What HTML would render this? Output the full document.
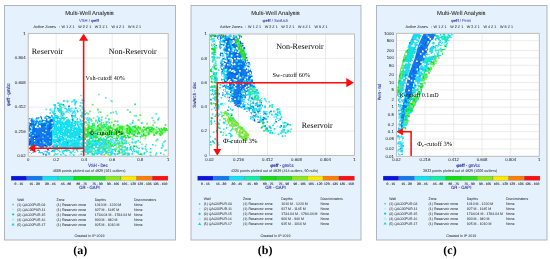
<!DOCTYPE html>
<html><head><meta charset="utf-8"><style>
html,body{margin:0;padding:0;background:#fff;}
body{width:550px;height:259px;overflow:hidden;}
svg{display:block;text-rendering:geometricPrecision;}
</style></head><body>
<svg width="550" height="259" viewBox="0 0 550 259">
<rect width="550" height="259" fill="#ffffff"/>
<rect x="4.5" y="5.5" width="171" height="234.5" fill="#e5f2fd" stroke="#adb6c0" stroke-width="1"/>
<text x="89.5" y="15.09" font-size="5.80" fill="#202020" text-anchor="middle" font-family="'Liberation Sans', Arial, sans-serif" textLength="48.5" lengthAdjust="spacingAndGlyphs" stroke="#202020" stroke-width="0.04">Multi-Well Analysis</text>
<text x="89" y="21.9" font-size="4.3" fill="#2c2ca0" text-anchor="middle" font-family="'Liberation Sans', Arial, sans-serif" textLength="20" lengthAdjust="spacingAndGlyphs">VSH / <tspan font-weight="bold">&#966;eff</tspan></text>
<text x="33.6" y="27.83" font-size="3.70" fill="#383838" text-anchor="start" font-family="'Liberation Sans', Arial, sans-serif" textLength="22.3" lengthAdjust="spacingAndGlyphs" stroke="#383838" stroke-width="0.06">Active Zones</text>
<text x="58.8" y="27.83" font-size="3.70" fill="#383838" text-anchor="start" font-family="'Liberation Sans', Arial, sans-serif" stroke="#383838" stroke-width="0.06">:</text>
<text x="61.6" y="27.83" font-size="3.70" fill="#383838" text-anchor="start" font-family="'Liberation Sans', Arial, sans-serif" stroke="#383838" stroke-width="0.06" textLength="13" lengthAdjust="spacing">W1Z1</text>
<text x="78.2" y="27.83" font-size="3.70" fill="#383838" text-anchor="start" font-family="'Liberation Sans', Arial, sans-serif" stroke="#383838" stroke-width="0.06" textLength="13" lengthAdjust="spacing">W2Z1</text>
<text x="94.8" y="27.83" font-size="3.70" fill="#383838" text-anchor="start" font-family="'Liberation Sans', Arial, sans-serif" stroke="#383838" stroke-width="0.06" textLength="13" lengthAdjust="spacing">W3Z1</text>
<text x="111.4" y="27.83" font-size="3.70" fill="#383838" text-anchor="start" font-family="'Liberation Sans', Arial, sans-serif" stroke="#383838" stroke-width="0.06" textLength="13" lengthAdjust="spacing">W4Z1</text>
<text x="128" y="27.83" font-size="3.70" fill="#383838" text-anchor="start" font-family="'Liberation Sans', Arial, sans-serif" stroke="#383838" stroke-width="0.06" textLength="13" lengthAdjust="spacing">W5Z1</text>
<rect x="28.2" y="33.6" width="140" height="122.6" fill="#ffffff"/>
<line x1="28.2" y1="33.6" x2="28.2" y2="156.2" stroke="#e7e7e7" stroke-width="0.8"/>
<line x1="56.2" y1="33.6" x2="56.2" y2="156.2" stroke="#e7e7e7" stroke-width="0.8"/>
<line x1="84.2" y1="33.6" x2="84.2" y2="156.2" stroke="#e7e7e7" stroke-width="0.8"/>
<line x1="112.2" y1="33.6" x2="112.2" y2="156.2" stroke="#e7e7e7" stroke-width="0.8"/>
<line x1="140.2" y1="33.6" x2="140.2" y2="156.2" stroke="#e7e7e7" stroke-width="0.8"/>
<line x1="168.2" y1="33.6" x2="168.2" y2="156.2" stroke="#e7e7e7" stroke-width="0.8"/>
<line x1="28.2" y1="156.2" x2="168.2" y2="156.2" stroke="#e7e7e7" stroke-width="0.8"/>
<line x1="28.2" y1="131.7" x2="168.2" y2="131.7" stroke="#e7e7e7" stroke-width="0.8"/>
<line x1="28.2" y1="107.2" x2="168.2" y2="107.2" stroke="#e7e7e7" stroke-width="0.8"/>
<line x1="28.2" y1="82.6" x2="168.2" y2="82.6" stroke="#e7e7e7" stroke-width="0.8"/>
<line x1="28.2" y1="58.1" x2="168.2" y2="58.1" stroke="#e7e7e7" stroke-width="0.8"/>
<line x1="28.2" y1="33.6" x2="168.2" y2="33.6" stroke="#e7e7e7" stroke-width="0.8"/>
<text x="28.2" y="161.45" font-size="4.30" fill="#303030" text-anchor="middle" font-family="'Liberation Sans', Arial, sans-serif" stroke="#303030" stroke-width="0.05">0</text>
<text x="56.2" y="161.45" font-size="4.30" fill="#303030" text-anchor="middle" font-family="'Liberation Sans', Arial, sans-serif" stroke="#303030" stroke-width="0.05">0.2</text>
<text x="84.2" y="161.45" font-size="4.30" fill="#303030" text-anchor="middle" font-family="'Liberation Sans', Arial, sans-serif" stroke="#303030" stroke-width="0.05">0.4</text>
<text x="112.2" y="161.45" font-size="4.30" fill="#303030" text-anchor="middle" font-family="'Liberation Sans', Arial, sans-serif" stroke="#303030" stroke-width="0.05">0.6</text>
<text x="140.2" y="161.45" font-size="4.30" fill="#303030" text-anchor="middle" font-family="'Liberation Sans', Arial, sans-serif" stroke="#303030" stroke-width="0.05">0.8</text>
<text x="168.2" y="161.45" font-size="4.30" fill="#303030" text-anchor="middle" font-family="'Liberation Sans', Arial, sans-serif" stroke="#303030" stroke-width="0.05">1</text>
<text x="25.6" y="157.45" font-size="4.30" fill="#303030" text-anchor="end" font-family="'Liberation Sans', Arial, sans-serif" stroke="#303030" stroke-width="0.05">0.02</text>
<text x="25.6" y="132.93" font-size="4.30" fill="#303030" text-anchor="end" font-family="'Liberation Sans', Arial, sans-serif" stroke="#303030" stroke-width="0.05">0.216</text>
<text x="25.6" y="108.41" font-size="4.30" fill="#303030" text-anchor="end" font-family="'Liberation Sans', Arial, sans-serif" stroke="#303030" stroke-width="0.05">0.412</text>
<text x="25.6" y="83.89" font-size="4.30" fill="#303030" text-anchor="end" font-family="'Liberation Sans', Arial, sans-serif" stroke="#303030" stroke-width="0.05">0.608</text>
<text x="25.6" y="59.37" font-size="4.30" fill="#303030" text-anchor="end" font-family="'Liberation Sans', Arial, sans-serif" stroke="#303030" stroke-width="0.05">0.804</text>
<text x="25.6" y="34.85" font-size="4.30" fill="#303030" text-anchor="end" font-family="'Liberation Sans', Arial, sans-serif" stroke="#303030" stroke-width="0.05">1</text>
<text transform="translate(10.3 94.7) rotate(-90)" x="0" y="0" font-size="4.6" fill="#2c2ca0" stroke="#2c2ca0" stroke-width="0.1" text-anchor="middle" font-family="'Liberation Sans', Arial, sans-serif" textLength="22.4" lengthAdjust="spacingAndGlyphs"><tspan font-weight="bold">&#966;eff</tspan> - gm/cc</text>
<text x="98" y="166.86" font-size="4.60" fill="#2c2ca0" text-anchor="middle" font-family="'Liberation Sans', Arial, sans-serif" textLength="19.4" lengthAdjust="spacingAndGlyphs" stroke="#2c2ca0" stroke-width="0.1">VSH - Dec</text>
<text x="89.1" y="172.47" font-size="3.80" fill="#3a3a3a" text-anchor="middle" font-family="'Liberation Sans', Arial, sans-serif" textLength="72.8" lengthAdjust="spacingAndGlyphs" stroke="#3a3a3a" stroke-width="0.03">4668 points plotted out of 4829 (161 outliers)</text>
<rect x="11.2" y="176.1" width="15.49" height="4.2" fill="#0a14dc" stroke="#000050" stroke-opacity="0.3" stroke-width="0.45"/>
<text x="18.9" y="184.51" font-size="3.35" fill="#282828" text-anchor="middle" font-family="'Liberation Sans', Arial, sans-serif" stroke="#282828" stroke-width="0.1">0 - 15</text>
<rect x="26.9" y="176.1" width="15.49" height="4.2" fill="#1478ee" stroke="#000050" stroke-opacity="0.3" stroke-width="0.45"/>
<text x="34.6" y="184.51" font-size="3.35" fill="#282828" text-anchor="middle" font-family="'Liberation Sans', Arial, sans-serif" stroke="#282828" stroke-width="0.1">15 - 30</text>
<rect x="42.6" y="176.1" width="15.49" height="4.2" fill="#14e0f2" stroke="#000050" stroke-opacity="0.3" stroke-width="0.45"/>
<text x="50.3" y="184.51" font-size="3.35" fill="#282828" text-anchor="middle" font-family="'Liberation Sans', Arial, sans-serif" stroke="#282828" stroke-width="0.1">30 - 45</text>
<rect x="58.3" y="176.1" width="15.49" height="4.2" fill="#14eea4" stroke="#000050" stroke-opacity="0.3" stroke-width="0.45"/>
<text x="66" y="184.51" font-size="3.35" fill="#282828" text-anchor="middle" font-family="'Liberation Sans', Arial, sans-serif" stroke="#282828" stroke-width="0.1">45 - 60</text>
<rect x="74" y="176.1" width="15.49" height="4.2" fill="#10e010" stroke="#000050" stroke-opacity="0.3" stroke-width="0.45"/>
<text x="81.7" y="184.51" font-size="3.35" fill="#282828" text-anchor="middle" font-family="'Liberation Sans', Arial, sans-serif" stroke="#282828" stroke-width="0.1">60 - 75</text>
<rect x="89.6" y="176.1" width="15.49" height="4.2" fill="#30dc20" stroke="#000050" stroke-opacity="0.3" stroke-width="0.45"/>
<text x="97.4" y="184.51" font-size="3.35" fill="#282828" text-anchor="middle" font-family="'Liberation Sans', Arial, sans-serif" stroke="#282828" stroke-width="0.1">75 - 90</text>
<rect x="105.3" y="176.1" width="15.49" height="4.2" fill="#8ce81c" stroke="#000050" stroke-opacity="0.3" stroke-width="0.45"/>
<text x="113.1" y="184.51" font-size="3.35" fill="#282828" text-anchor="middle" font-family="'Liberation Sans', Arial, sans-serif" stroke="#282828" stroke-width="0.1">90 - 105</text>
<rect x="121" y="176.1" width="15.49" height="4.2" fill="#ffe800" stroke="#000050" stroke-opacity="0.3" stroke-width="0.45"/>
<text x="128.8" y="184.51" font-size="3.35" fill="#282828" text-anchor="middle" font-family="'Liberation Sans', Arial, sans-serif" stroke="#282828" stroke-width="0.1">105 - 120</text>
<rect x="136.7" y="176.1" width="15.49" height="4.2" fill="#ff8000" stroke="#000050" stroke-opacity="0.3" stroke-width="0.45"/>
<text x="144.5" y="184.51" font-size="3.35" fill="#282828" text-anchor="middle" font-family="'Liberation Sans', Arial, sans-serif" stroke="#282828" stroke-width="0.1">120 - 135</text>
<rect x="152.4" y="176.1" width="15.49" height="4.2" fill="#ff1010" stroke="#000050" stroke-opacity="0.3" stroke-width="0.45"/>
<text x="160.2" y="184.51" font-size="3.35" fill="#282828" text-anchor="middle" font-family="'Liberation Sans', Arial, sans-serif" stroke="#282828" stroke-width="0.1">135 - 150</text>
<text x="89.5" y="189.32" font-size="4.50" fill="#2c2ca0" text-anchor="middle" font-family="'Liberation Sans', Arial, sans-serif" textLength="20.4" lengthAdjust="spacingAndGlyphs" stroke="#2c2ca0" stroke-width="0.1">GR - GAPI</text>
<text x="17.2" y="200.86" font-size="3.50" fill="#3a3a3a" text-anchor="start" font-family="'Liberation Sans', Arial, sans-serif" stroke="#3a3a3a" stroke-width="0.04">Well</text>
<text x="56.5" y="200.86" font-size="3.50" fill="#3a3a3a" text-anchor="start" font-family="'Liberation Sans', Arial, sans-serif" stroke="#3a3a3a" stroke-width="0.04">Zone</text>
<text x="94.8" y="200.86" font-size="3.50" fill="#3a3a3a" text-anchor="start" font-family="'Liberation Sans', Arial, sans-serif" stroke="#3a3a3a" stroke-width="0.04">Depths</text>
<text x="134" y="200.86" font-size="3.50" fill="#3a3a3a" text-anchor="start" font-family="'Liberation Sans', Arial, sans-serif" stroke="#3a3a3a" stroke-width="0.04">Discriminators</text>
<text x="17.2" y="205.76" font-size="3.50" fill="#3a3a3a" text-anchor="start" font-family="'Liberation Sans', Arial, sans-serif" textLength="28.2" lengthAdjust="spacingAndGlyphs" stroke="#3a3a3a" stroke-width="0.04">(1) QAC00PUR-03</text>
<text x="56.5" y="205.76" font-size="3.50" fill="#3a3a3a" text-anchor="start" font-family="'Liberation Sans', Arial, sans-serif" textLength="29.5" lengthAdjust="spacingAndGlyphs" stroke="#3a3a3a" stroke-width="0.04">(1) Reservoir zone</text>
<text x="94.8" y="205.76" font-size="3.50" fill="#3a3a3a" text-anchor="start" font-family="'Liberation Sans', Arial, sans-serif" stroke="#3a3a3a" stroke-width="0.04">1010 M - 1220 M</text>
<text x="134" y="205.76" font-size="3.50" fill="#3a3a3a" text-anchor="start" font-family="'Liberation Sans', Arial, sans-serif" stroke="#3a3a3a" stroke-width="0.04">None</text>
<circle cx="13.1" cy="204.5" r="0.9" fill="#3ad8e8"/>
<text x="17.2" y="210.71" font-size="3.50" fill="#3a3a3a" text-anchor="start" font-family="'Liberation Sans', Arial, sans-serif" textLength="28.2" lengthAdjust="spacingAndGlyphs" stroke="#3a3a3a" stroke-width="0.04">(2) QAC00PUR-11</text>
<text x="56.5" y="210.71" font-size="3.50" fill="#3a3a3a" text-anchor="start" font-family="'Liberation Sans', Arial, sans-serif" textLength="29.5" lengthAdjust="spacingAndGlyphs" stroke="#3a3a3a" stroke-width="0.04">(1) Reservoir zone</text>
<text x="94.8" y="210.71" font-size="3.50" fill="#3a3a3a" text-anchor="start" font-family="'Liberation Sans', Arial, sans-serif" stroke="#3a3a3a" stroke-width="0.04">927 M - 1145 M</text>
<text x="134" y="210.71" font-size="3.50" fill="#3a3a3a" text-anchor="start" font-family="'Liberation Sans', Arial, sans-serif" stroke="#3a3a3a" stroke-width="0.04">None</text>
<circle cx="13.1" cy="209.4" r="0.9" fill="#a8ecf4"/>
<text x="17.2" y="215.66" font-size="3.50" fill="#3a3a3a" text-anchor="start" font-family="'Liberation Sans', Arial, sans-serif" textLength="28.2" lengthAdjust="spacingAndGlyphs" stroke="#3a3a3a" stroke-width="0.04">(3) QAC00PUR-15</text>
<text x="56.5" y="215.66" font-size="3.50" fill="#3a3a3a" text-anchor="start" font-family="'Liberation Sans', Arial, sans-serif" textLength="29.5" lengthAdjust="spacingAndGlyphs" stroke="#3a3a3a" stroke-width="0.04">(1) Reservoir zone</text>
<text x="94.8" y="215.66" font-size="3.50" fill="#3a3a3a" text-anchor="start" font-family="'Liberation Sans', Arial, sans-serif" stroke="#3a3a3a" stroke-width="0.04">1734.04 M - 1784.04 M</text>
<text x="134" y="215.66" font-size="3.50" fill="#3a3a3a" text-anchor="start" font-family="'Liberation Sans', Arial, sans-serif" stroke="#3a3a3a" stroke-width="0.04">None</text>
<rect x="12.1" y="213.4" width="2" height="2" fill="#10c8e0" transform="rotate(45 13.1 214.4)"/>
<text x="17.2" y="220.61" font-size="3.50" fill="#3a3a3a" text-anchor="start" font-family="'Liberation Sans', Arial, sans-serif" textLength="28.2" lengthAdjust="spacingAndGlyphs" stroke="#3a3a3a" stroke-width="0.04">(4) QAC00PUR-16</text>
<text x="56.5" y="220.61" font-size="3.50" fill="#3a3a3a" text-anchor="start" font-family="'Liberation Sans', Arial, sans-serif" textLength="29.5" lengthAdjust="spacingAndGlyphs" stroke="#3a3a3a" stroke-width="0.04">(1) Reservoir zone</text>
<text x="94.8" y="220.61" font-size="3.50" fill="#3a3a3a" text-anchor="start" font-family="'Liberation Sans', Arial, sans-serif" stroke="#3a3a3a" stroke-width="0.04">900 M - 940 M</text>
<text x="134" y="220.61" font-size="3.50" fill="#3a3a3a" text-anchor="start" font-family="'Liberation Sans', Arial, sans-serif" stroke="#3a3a3a" stroke-width="0.04">None</text>
<polygon points="13.1,218 11.8,220.3 14.4,220.3" fill="none" stroke="#90e0f0" stroke-width="0.5"/>
<text x="17.2" y="225.56" font-size="3.50" fill="#3a3a3a" text-anchor="start" font-family="'Liberation Sans', Arial, sans-serif" textLength="28.2" lengthAdjust="spacingAndGlyphs" stroke="#3a3a3a" stroke-width="0.04">(5) QAC00PUR-17</text>
<text x="56.5" y="225.56" font-size="3.50" fill="#3a3a3a" text-anchor="start" font-family="'Liberation Sans', Arial, sans-serif" textLength="29.5" lengthAdjust="spacingAndGlyphs" stroke="#3a3a3a" stroke-width="0.04">(1) Reservoir zone</text>
<text x="94.8" y="225.56" font-size="3.50" fill="#3a3a3a" text-anchor="start" font-family="'Liberation Sans', Arial, sans-serif" stroke="#3a3a3a" stroke-width="0.04">925 M - 1010 M</text>
<text x="134" y="225.56" font-size="3.50" fill="#3a3a3a" text-anchor="start" font-family="'Liberation Sans', Arial, sans-serif" stroke="#3a3a3a" stroke-width="0.04">None</text>
<polygon points="13.1,222.8 11.5,225.4 14.7,225.4" fill="#10d0e8"/>
<text x="89.5" y="237.30" font-size="3.60" fill="#3a3a3a" text-anchor="middle" font-family="'Liberation Sans', Arial, sans-serif" textLength="30" lengthAdjust="spacingAndGlyphs" stroke="#3a3a3a" stroke-width="0.04">Created in IP 2019</text>
<text x="80.2" y="254.2" font-size="12" font-weight="bold" fill="#000" text-anchor="middle" font-family="'Liberation Serif', 'Times New Roman', serif">(a)</text>
<polygon points="28.6,126 33,124.5 38,123.5 44,122.5 48,123 52,123 52,147 28.6,147" fill="#1478ee"/>
<polygon points="52,117 58,116 66,118 76,121 84,123.5 84,151 52,151" fill="#14e0f2"/>
<polygon points="84,127 100,126 120,126 135,127 150,128.5 166,129 166,133 150,133.5 135,134 120,134.5 100,135.5 84,136" fill="#22f022" fill-opacity="0.5"/>
<polygon points="84,131 92,132 100,137 112,139 114,149 100,154 84,154" fill="#14e0f2" fill-opacity="0.8"/>
<path fill="#0a14dc" d="M40.4 140.8h1.3v1.3h-1.3zM28.8 143.2h1.3v1.3h-1.3zM43.1 124.9h1.3v1.3h-1.3zM34.1 144.4h1.3v1.3h-1.3zM36.2 136h1.3v1.3h-1.3zM49.2 127.3h1.3v1.3h-1.3zM38.3 126.1h1.3v1.3h-1.3zM29.7 141.2h1.3v1.3h-1.3zM44.6 144.9h1.3v1.3h-1.3z"/>
<path fill="#1478ee" d="M57.2 107.8h1.8v1.8h-1.8zM56.4 117.4h1.8v1.8h-1.8zM68.1 105.4h1.8v1.8h-1.8zM71.8 118.6h1.8v1.8h-1.8zM49.2 116.7h1.8v1.8h-1.8zM62.4 104.1h1.8v1.8h-1.8zM71.1 114.8h1.8v1.8h-1.8zM59 117h1.8v1.8h-1.8zM59.4 116.8h1.8v1.8h-1.8zM46.4 116.4h1.8v1.8h-1.8zM69.4 109.8h1.8v1.8h-1.8zM50.6 119.1h1.6v1.6h-1.6zM32.4 122.9h1.6v1.6h-1.6zM38.1 121.4h1.6v1.6h-1.6zM41.3 123.2h1.6v1.6h-1.6zM45.4 118h1.6v1.6h-1.6zM45.8 123.8h1.6v1.6h-1.6zM28.8 118.3h1.6v1.6h-1.6zM46.7 120.2h1.6v1.6h-1.6zM32.6 121.2h1.6v1.6h-1.6zM39.3 121.2h1.6v1.6h-1.6zM40.7 118h1.6v1.6h-1.6zM51.8 119.4h1.6v1.6h-1.6zM39.4 120.4h1.6v1.6h-1.6zM38.1 117.4h1.6v1.6h-1.6zM31.9 119.3h1.6v1.6h-1.6zM48.4 117.2h1.6v1.6h-1.6zM36.5 120h1.6v1.6h-1.6zM43 119.5h1.6v1.6h-1.6zM49.7 117h1.6v1.6h-1.6zM36.9 122.9h1.6v1.6h-1.6zM41.5 124.4h1.6v1.6h-1.6zM43.7 123.1h1.6v1.6h-1.6zM51.1 115.2h1.6v1.6h-1.6zM51.2 121.2h1.6v1.6h-1.6zM44.1 123.4h1.6v1.6h-1.6zM43.4 120.4h1.6v1.6h-1.6zM48.9 125.1h1.6v1.6h-1.6zM45.1 118.2h1.6v1.6h-1.6zM34.6 118.5h1.6v1.6h-1.6zM44.5 117.7h1.6v1.6h-1.6zM29.8 120h1.6v1.6h-1.6zM47.5 116.8h1.6v1.6h-1.6zM44.1 125.1h1.6v1.6h-1.6zM36 117.4h1.6v1.6h-1.6zM43.9 123.5h1.6v1.6h-1.6zM44 125.6h1.6v1.6h-1.6zM43 123.8h1.6v1.6h-1.6zM45.5 116.1h1.6v1.6h-1.6zM37 120.8h1.6v1.6h-1.6zM30.5 124.4h1.6v1.6h-1.6zM41.2 120.6h1.6v1.6h-1.6zM50.2 120.8h1.6v1.6h-1.6zM49.4 120.5h1.6v1.6h-1.6zM29.7 119.9h1.6v1.6h-1.6zM44.9 118.2h1.6v1.6h-1.6zM39.9 116.4h1.6v1.6h-1.6zM40.9 117.5h1.6v1.6h-1.6zM43.5 118.8h1.6v1.6h-1.6zM44.4 117.9h1.6v1.6h-1.6zM44.4 121h1.6v1.6h-1.6zM36.6 123.1h1.6v1.6h-1.6zM39.2 125.2h1.6v1.6h-1.6zM41.7 120.2h1.6v1.6h-1.6zM37.5 126.4h1.6v1.6h-1.6zM43.9 117.5h1.6v1.6h-1.6zM49.5 122.9h1.6v1.6h-1.6zM30.9 118.3h1.6v1.6h-1.6zM43 126.2h1.6v1.6h-1.6zM31.4 119.9h1.6v1.6h-1.6zM49.4 122.2h1.6v1.6h-1.6zM36.9 125.7h1.6v1.6h-1.6zM40.1 116.2h1.6v1.6h-1.6zM31.2 119.7h1.6v1.6h-1.6zM35.9 125.6h1.6v1.6h-1.6zM37 117.8h1.6v1.6h-1.6zM31.7 120.4h1.6v1.6h-1.6zM38.6 126.5h1.6v1.6h-1.6zM46 117.4h1.6v1.6h-1.6zM35.3 121h1.6v1.6h-1.6zM47.7 115.9h1.6v1.6h-1.6zM51.8 125.8h1.6v1.6h-1.6zM42.8 123.3h1.6v1.6h-1.6zM49 119.4h1.6v1.6h-1.6zM51.6 125.1h1.6v1.6h-1.6zM45.9 124.6h1.6v1.6h-1.6zM33.6 125.2h1.6v1.6h-1.6zM37.1 126.2h1.6v1.6h-1.6zM43.1 122.4h1.6v1.6h-1.6zM35.5 125.8h1.6v1.6h-1.6zM37.7 126.3h1.6v1.6h-1.6zM47.2 123h1.6v1.6h-1.6zM44 121.8h1.6v1.6h-1.6zM32.9 119.1h1.6v1.6h-1.6zM46 115.5h1.6v1.6h-1.6zM30.5 126.9h1.6v1.6h-1.6zM47.3 122.4h1.6v1.6h-1.6zM34.1 124.1h1.6v1.6h-1.6zM42 125.1h1.6v1.6h-1.6zM51.1 124.7h1.6v1.6h-1.6zM36.6 126.5h1.6v1.6h-1.6zM51.9 124h1.6v1.6h-1.6zM30.7 126h1.6v1.6h-1.6zM30.5 124h1.6v1.6h-1.6zM43.3 122.4h1.6v1.6h-1.6zM46.7 124.6h1.6v1.6h-1.6zM49.8 121h1.6v1.6h-1.6zM50.5 124.6h1.6v1.6h-1.6zM35.4 123.3h1.6v1.6h-1.6zM50.6 121.1h1.6v1.6h-1.6zM32.1 120.6h1.6v1.6h-1.6zM48.7 125.7h1.6v1.6h-1.6zM45 119.6h1.6v1.6h-1.6zM48.2 121h1.6v1.6h-1.6zM41.1 123.2h1.6v1.6h-1.6zM40.4 123.7h1.6v1.6h-1.6zM37.1 126h1.6v1.6h-1.6zM48.8 125.8h1.6v1.6h-1.6zM32.2 126.1h1.6v1.6h-1.6zM46.6 122.6h1.6v1.6h-1.6zM32.7 126.6h1.6v1.6h-1.6zM33.1 120.8h1.6v1.6h-1.6zM41.9 124h1.6v1.6h-1.6zM35 121.1h1.6v1.6h-1.6zM34.1 125.5h1.6v1.6h-1.6zM36.1 122.4h1.6v1.6h-1.6zM46.7 120.8h1.6v1.6h-1.6zM28.9 125.9h1.6v1.6h-1.6zM39.8 124h1.6v1.6h-1.6zM42.6 124h1.6v1.6h-1.6zM35.3 120.4h1.6v1.6h-1.6zM51.9 125.1h1.6v1.6h-1.6zM48.5 124.9h1.6v1.6h-1.6zM46.4 123.5h1.6v1.6h-1.6zM39 120.4h1.6v1.6h-1.6zM32.4 123.9h1.6v1.6h-1.6zM39.7 121.3h1.6v1.6h-1.6zM50.2 123.1h1.6v1.6h-1.6zM49.1 122.7h1.6v1.6h-1.6zM37.6 123.5h1.6v1.6h-1.6zM29.9 126.4h1.6v1.6h-1.6zM49.7 125.5h1.6v1.6h-1.6zM51.7 122.3h1.6v1.6h-1.6zM40.5 125.5h1.6v1.6h-1.6zM33.7 125.9h1.6v1.6h-1.6zM44.8 123.4h1.6v1.6h-1.6zM39.8 126.2h1.6v1.6h-1.6zM36.7 122.9h1.6v1.6h-1.6zM35.4 121.2h1.6v1.6h-1.6zM29.6 124.3h1.6v1.6h-1.6zM34.4 122h1.6v1.6h-1.6zM50.9 122.4h1.6v1.6h-1.6zM28.6 122.2h1.6v1.6h-1.6zM45.6 120.5h1.6v1.6h-1.6zM47 119.7h1.6v1.6h-1.6zM42.4 124.4h1.6v1.6h-1.6zM44.2 122.7h1.6v1.6h-1.6zM45.7 124h1.6v1.6h-1.6zM40 125.5h1.6v1.6h-1.6zM51.3 125.1h1.6v1.6h-1.6zM41.9 119.5h1.6v1.6h-1.6zM44.5 122.1h1.6v1.6h-1.6zM50.7 122.7h1.6v1.6h-1.6zM30.9 122.3h1.6v1.6h-1.6zM40.9 123.1h1.6v1.6h-1.6zM31 126.5h1.6v1.6h-1.6zM32.9 120.8h1.6v1.6h-1.6zM37.4 121h1.6v1.6h-1.6zM32.9 120.9h1.6v1.6h-1.6zM48.5 123.1h1.6v1.6h-1.6zM30.3 122.7h1.6v1.6h-1.6zM36.3 126.1h1.6v1.6h-1.6zM48.6 119.4h1.6v1.6h-1.6zM44.6 119.4h1.6v1.6h-1.6zM51.8 123.8h1.6v1.6h-1.6zM29 125.3h1.6v1.6h-1.6zM44.1 122.8h1.6v1.6h-1.6zM46 123.9h1.6v1.6h-1.6zM46.1 124.1h1.6v1.6h-1.6zM30.1 121h1.6v1.6h-1.6zM46.6 121.6h1.6v1.6h-1.6zM34.6 122.9h1.6v1.6h-1.6zM30.5 120.7h1.6v1.6h-1.6zM46.1 121.6h1.6v1.6h-1.6zM36.4 122.5h1.6v1.6h-1.6zM30.7 123.4h1.6v1.6h-1.6zM40.1 122.8h1.6v1.6h-1.6zM46.8 121.1h1.6v1.6h-1.6zM51.1 124.9h1.6v1.6h-1.6zM44.5 122.8h1.6v1.6h-1.6zM36.3 124.7h1.6v1.6h-1.6zM48.6 121.7h1.6v1.6h-1.6zM37.4 122h1.6v1.6h-1.6zM50.6 123.1h1.6v1.6h-1.6zM35.4 126.3h1.6v1.6h-1.6zM51.6 121.6h1.6v1.6h-1.6zM45.7 119.3h1.6v1.6h-1.6zM35.3 126.1h1.6v1.6h-1.6zM38.4 121.5h1.6v1.6h-1.6zM43.4 120h1.6v1.6h-1.6zM33.7 125.8h1.6v1.6h-1.6zM30.9 123.8h1.6v1.6h-1.6zM45.9 120.2h1.6v1.6h-1.6zM52 149.8h1.6v1.6h-1.6zM40.1 149.2h1.6v1.6h-1.6zM38.7 147.8h1.6v1.6h-1.6zM50.8 150.8h1.6v1.6h-1.6zM34 146.6h1.6v1.6h-1.6zM40.3 146.5h1.6v1.6h-1.6zM45.2 154.1h1.6v1.6h-1.6zM32.5 149.3h1.6v1.6h-1.6zM49.8 147.1h1.6v1.6h-1.6zM38.4 148h1.6v1.6h-1.6zM30.3 152.9h1.6v1.6h-1.6zM42.1 151.6h1.6v1.6h-1.6zM36.8 149.4h1.6v1.6h-1.6zM32.6 150.1h1.6v1.6h-1.6zM31 148h1.6v1.6h-1.6zM41.4 151.5h1.6v1.6h-1.6zM32.1 150.8h1.6v1.6h-1.6zM32 151.4h1.6v1.6h-1.6zM39.5 150.4h1.6v1.6h-1.6zM38.5 149.6h1.6v1.6h-1.6zM34.2 146.3h1.6v1.6h-1.6zM46.9 148.9h1.6v1.6h-1.6zM45.2 147.1h1.6v1.6h-1.6zM31.8 146h1.6v1.6h-1.6zM42.7 153.3h1.6v1.6h-1.6zM33.4 150.9h1.6v1.6h-1.6zM29.5 149.6h1.6v1.6h-1.6zM43.6 150.1h1.6v1.6h-1.6zM43.8 150.9h1.6v1.6h-1.6zM32.7 150.7h1.6v1.6h-1.6zM34.9 150.4h1.6v1.6h-1.6zM32.3 149.8h1.6v1.6h-1.6zM41.2 147.3h1.6v1.6h-1.6zM38.7 148.1h1.6v1.6h-1.6zM47.9 148.8h1.6v1.6h-1.6zM40.1 146.6h1.6v1.6h-1.6zM45.2 150.9h1.6v1.6h-1.6zM48.5 152h1.6v1.6h-1.6zM29.2 151.3h1.6v1.6h-1.6zM42.7 151h1.6v1.6h-1.6zM29.9 149h1.6v1.6h-1.6zM31.9 149.6h1.6v1.6h-1.6zM34.9 148.7h1.6v1.6h-1.6zM42.4 147.2h1.6v1.6h-1.6zM61.1 115h1.6v1.6h-1.6zM79.5 109h1.6v1.6h-1.6zM81.9 121h1.6v1.6h-1.6zM58.8 139.4h1.3v1.3h-1.3zM55.7 138.8h1.3v1.3h-1.3zM57 141.1h1.3v1.3h-1.3zM78.8 136.1h1.3v1.3h-1.3zM66.8 142h1.3v1.3h-1.3zM65.1 148.9h1.3v1.3h-1.3zM56.4 145.8h1.3v1.3h-1.3z"/>
<path fill="#0c66e0" d="M50.5 123.5h1.6v1.6h-1.6zM44.6 124.4h1.6v1.6h-1.6zM38.9 124.1h1.6v1.6h-1.6zM46 121h1.6v1.6h-1.6zM34.6 118.5h1.6v1.6h-1.6zM50.3 119.2h1.6v1.6h-1.6zM37.9 117.4h1.6v1.6h-1.6zM37 126.1h1.6v1.6h-1.6zM37 124.3h1.6v1.6h-1.6zM45 120.7h1.6v1.6h-1.6zM29.6 121.5h1.6v1.6h-1.6zM49.8 125.9h1.6v1.6h-1.6zM41.2 125.2h1.6v1.6h-1.6zM33.6 121.6h1.6v1.6h-1.6zM34.9 126.6h1.6v1.6h-1.6zM49.5 120.5h1.6v1.6h-1.6zM30 122.2h1.6v1.6h-1.6zM45 120.2h1.6v1.6h-1.6zM47.5 122.6h1.6v1.6h-1.6zM29.5 123.8h1.6v1.6h-1.6zM29.2 141.2h1.3v1.3h-1.3zM33.7 135.9h1.3v1.3h-1.3zM50 138.5h1.3v1.3h-1.3zM32.4 137.1h1.3v1.3h-1.3zM41.9 132.4h1.3v1.3h-1.3zM29.3 142.4h1.3v1.3h-1.3zM38 142.2h1.3v1.3h-1.3zM30.4 146.7h1.3v1.3h-1.3zM43.6 146.8h1.3v1.3h-1.3zM38.7 135.5h1.3v1.3h-1.3zM37.1 146.3h1.3v1.3h-1.3zM49.2 138.5h1.3v1.3h-1.3zM42.8 124.6h1.3v1.3h-1.3zM38.4 134.7h1.3v1.3h-1.3zM49 135.9h1.3v1.3h-1.3zM33.2 135.8h1.3v1.3h-1.3zM37 135.6h1.3v1.3h-1.3zM49.9 143.9h1.3v1.3h-1.3zM33.3 128.2h1.3v1.3h-1.3zM49.3 130.2h1.3v1.3h-1.3zM34.9 136.4h1.3v1.3h-1.3zM36.2 140.3h1.3v1.3h-1.3zM36 145.8h1.3v1.3h-1.3zM51.9 146h1.3v1.3h-1.3zM48.4 124.1h1.3v1.3h-1.3zM33.7 138.8h1.3v1.3h-1.3zM33.5 139.4h1.3v1.3h-1.3zM46.2 144.2h1.3v1.3h-1.3zM47.9 128.6h1.3v1.3h-1.3zM33.7 126.9h1.3v1.3h-1.3zM33.3 142.6h1.3v1.3h-1.3zM34.1 130h1.3v1.3h-1.3zM40.3 138.8h1.3v1.3h-1.3zM43.2 136.3h1.3v1.3h-1.3zM32.9 142.6h1.3v1.3h-1.3zM31.2 124.1h1.3v1.3h-1.3zM34.8 145.5h1.3v1.3h-1.3zM32.8 144.2h1.3v1.3h-1.3zM50.5 145.5h1.3v1.3h-1.3zM37.2 141.7h1.3v1.3h-1.3zM31.7 132.8h1.3v1.3h-1.3zM44.1 129.7h1.3v1.3h-1.3zM51.4 145h1.3v1.3h-1.3zM47.1 133.7h1.3v1.3h-1.3zM43.7 135.2h1.3v1.3h-1.3zM37.3 140.1h1.3v1.3h-1.3zM37.9 139.8h1.3v1.3h-1.3zM35.5 139.9h1.3v1.3h-1.3zM47.4 138.3h1.3v1.3h-1.3zM48.7 133.1h1.3v1.3h-1.3zM43.8 130h1.3v1.3h-1.3zM34.7 143.5h1.3v1.3h-1.3zM33.8 127.9h1.3v1.3h-1.3zM49.9 125.1h1.3v1.3h-1.3zM49.6 145.7h1.3v1.3h-1.3z"/>
<path fill="#14e0f2" d="M109.7 126.6h1.6v1.6h-1.6zM90.4 119.6h1.6v1.6h-1.6zM98.1 124.7h1.6v1.6h-1.6zM97.6 120.2h1.6v1.6h-1.6zM91.9 123.2h1.6v1.6h-1.6zM99 120.4h1.6v1.6h-1.6zM95.1 119.6h1.6v1.6h-1.6zM106.1 121.4h1.6v1.6h-1.6zM87.8 121.4h1.6v1.6h-1.6zM87.2 123.4h1.6v1.6h-1.6zM90.5 118.7h1.6v1.6h-1.6zM97.9 118.8h1.6v1.6h-1.6zM85.1 121.7h1.6v1.6h-1.6zM97 124.9h1.6v1.6h-1.6zM105.3 121.2h1.6v1.6h-1.6zM107.8 118.6h1.6v1.6h-1.6zM104.6 125.9h1.6v1.6h-1.6zM88.7 117.5h1.6v1.6h-1.6zM100.7 119.1h1.6v1.6h-1.6zM93.2 126.5h1.6v1.6h-1.6zM110.2 125.9h1.6v1.6h-1.6zM88.3 118.1h1.6v1.6h-1.6zM98.4 120.2h1.6v1.6h-1.6zM86.6 117.3h1.6v1.6h-1.6zM91.9 123.1h1.6v1.6h-1.6zM54.2 104.1h1.8v1.8h-1.8zM79.5 105h1.8v1.8h-1.8zM73.4 99.1h1.8v1.8h-1.8zM54.1 115h1.8v1.8h-1.8zM61.5 106h1.8v1.8h-1.8zM81.4 99.5h1.8v1.8h-1.8zM72.5 111.1h1.8v1.8h-1.8zM63 100h1.8v1.8h-1.8zM82.9 118.2h1.8v1.8h-1.8zM47.7 118.4h1.8v1.8h-1.8zM57.3 102.3h1.8v1.8h-1.8zM81.5 116.3h1.8v1.8h-1.8zM68.5 108.9h1.8v1.8h-1.8zM60.4 103.5h1.8v1.8h-1.8zM75.3 100.8h1.8v1.8h-1.8zM83.7 110.2h1.8v1.8h-1.8zM54.6 106.9h1.8v1.8h-1.8zM81.6 106.4h1.8v1.8h-1.8zM74.3 103.2h1.8v1.8h-1.8zM62.8 113.1h1.8v1.8h-1.8zM61.9 104.5h1.8v1.8h-1.8zM61.3 106.3h1.8v1.8h-1.8zM49.6 108.6h1.8v1.8h-1.8zM76.1 118.8h1.8v1.8h-1.8zM53.4 104.3h1.8v1.8h-1.8zM74.4 101.4h1.8v1.8h-1.8zM74.3 115h1.8v1.8h-1.8zM55.9 114.9h1.8v1.8h-1.8zM60.2 109.4h1.8v1.8h-1.8zM37.7 120.2h1.6v1.6h-1.6zM35 118.5h1.6v1.6h-1.6zM34.1 121.4h1.6v1.6h-1.6zM31.7 117.8h1.6v1.6h-1.6zM47.2 119.6h1.6v1.6h-1.6zM47.1 122.8h1.6v1.6h-1.6zM39.4 122h1.6v1.6h-1.6zM37.4 118h1.6v1.6h-1.6zM36 124.4h1.6v1.6h-1.6zM44.8 121.3h1.6v1.6h-1.6zM40.2 120h1.6v1.6h-1.6zM36.8 122.1h1.6v1.6h-1.6zM45.2 125.8h1.6v1.6h-1.6zM51.7 124.9h1.6v1.6h-1.6zM43.6 118.9h1.6v1.6h-1.6zM44.8 116h1.6v1.6h-1.6zM38.9 125.4h1.6v1.6h-1.6zM32.9 119.1h1.6v1.6h-1.6zM45.6 143.6h1.3v1.3h-1.3zM42.6 132.5h1.3v1.3h-1.3zM29.5 144.8h1.3v1.3h-1.3zM30.4 132.7h1.3v1.3h-1.3zM49.1 140.9h1.3v1.3h-1.3zM44.3 142.1h1.3v1.3h-1.3zM34.5 132.6h1.3v1.3h-1.3zM37.5 126.2h1.3v1.3h-1.3zM46 124h1.3v1.3h-1.3zM34.1 143.6h1.3v1.3h-1.3zM47.8 146.3h1.3v1.3h-1.3zM31.6 125.5h1.3v1.3h-1.3zM47.4 135.7h1.3v1.3h-1.3zM39.9 141.6h1.3v1.3h-1.3zM34.1 140.5h1.3v1.3h-1.3zM47.3 145.2h1.3v1.3h-1.3zM30.9 129h1.3v1.3h-1.3zM30.7 130.1h1.3v1.3h-1.3zM28.7 131.6h1.3v1.3h-1.3zM29.7 130.1h1.3v1.3h-1.3zM29.8 133.8h1.3v1.3h-1.3zM28.7 131.3h1.3v1.3h-1.3zM42.9 148.6h1.6v1.6h-1.6zM38.1 151.9h1.6v1.6h-1.6zM47.7 152.9h1.6v1.6h-1.6zM34.2 148.6h1.6v1.6h-1.6zM51.6 148.2h1.6v1.6h-1.6zM33 146.5h1.6v1.6h-1.6zM46.4 150.8h1.6v1.6h-1.6zM46.3 151.3h1.6v1.6h-1.6zM39.7 151.9h1.6v1.6h-1.6zM32.7 147.4h1.6v1.6h-1.6zM45 152.9h1.6v1.6h-1.6zM41.4 150.7h1.6v1.6h-1.6zM48.6 153.4h1.6v1.6h-1.6zM53.1 104.5h1.6v1.6h-1.6zM71.7 112.6h1.6v1.6h-1.6zM60.1 105.9h1.6v1.6h-1.6zM53.8 110.1h1.6v1.6h-1.6zM66.8 109.4h1.6v1.6h-1.6zM57.4 104.9h1.6v1.6h-1.6zM58.2 110.9h1.6v1.6h-1.6zM64.2 107.5h1.6v1.6h-1.6zM74.7 107.3h1.6v1.6h-1.6zM65 107.7h1.6v1.6h-1.6zM57.9 107.5h1.6v1.6h-1.6zM83.6 113.9h1.6v1.6h-1.6zM80.1 120.5h1.6v1.6h-1.6zM65.9 117.3h1.6v1.6h-1.6zM70.1 120.9h1.6v1.6h-1.6zM65.7 119.7h1.6v1.6h-1.6zM54.4 113h1.6v1.6h-1.6zM81.2 116.4h1.6v1.6h-1.6zM78.5 121.3h1.6v1.6h-1.6zM54.2 105.2h1.6v1.6h-1.6zM62.7 111h1.6v1.6h-1.6zM82.6 117.5h1.6v1.6h-1.6zM72.8 109h1.6v1.6h-1.6zM65.7 110.9h1.6v1.6h-1.6zM53.9 108.2h1.6v1.6h-1.6zM83.1 121.5h1.6v1.6h-1.6zM60.1 111.1h1.6v1.6h-1.6zM59.7 118.5h1.6v1.6h-1.6zM63.2 120.7h1.6v1.6h-1.6zM52.9 112.9h1.6v1.6h-1.6zM69.6 112.4h1.6v1.6h-1.6zM58.6 109.4h1.6v1.6h-1.6zM53.2 111.1h1.6v1.6h-1.6zM56.3 118.8h1.6v1.6h-1.6zM59.8 119.7h1.6v1.6h-1.6zM58.4 118.7h1.6v1.6h-1.6zM82.2 115.1h1.6v1.6h-1.6zM58.2 109h1.6v1.6h-1.6zM78.6 108.4h1.6v1.6h-1.6zM61.8 112.8h1.6v1.6h-1.6zM62.9 113.8h1.6v1.6h-1.6zM81 122.8h1.6v1.6h-1.6zM57.6 117h1.6v1.6h-1.6zM75.2 107.4h1.6v1.6h-1.6zM54.3 105h1.6v1.6h-1.6zM72.7 108.7h1.6v1.6h-1.6zM75.2 117h1.6v1.6h-1.6zM75.9 121.9h1.6v1.6h-1.6zM76.8 121.2h1.6v1.6h-1.6zM52.1 111.8h1.6v1.6h-1.6zM71.7 120.8h1.6v1.6h-1.6zM59.4 116.2h1.6v1.6h-1.6zM59.1 118.4h1.6v1.6h-1.6zM82.1 121.7h1.6v1.6h-1.6zM57.2 110.2h1.6v1.6h-1.6zM79.7 119.8h1.6v1.6h-1.6zM72.6 115.1h1.6v1.6h-1.6zM60.1 117.3h1.6v1.6h-1.6zM59.5 108.2h1.6v1.6h-1.6zM66.1 108.7h1.6v1.6h-1.6zM74.6 113.2h1.6v1.6h-1.6zM62.8 119.1h1.6v1.6h-1.6zM76.4 109.8h1.6v1.6h-1.6zM59.1 119.7h1.6v1.6h-1.6zM83.2 111.5h1.6v1.6h-1.6zM73.8 110.5h1.6v1.6h-1.6zM81.3 114.3h1.6v1.6h-1.6zM66.6 121.5h1.6v1.6h-1.6zM58.3 111.5h1.6v1.6h-1.6zM81.1 122.4h1.6v1.6h-1.6zM83.4 123.1h1.6v1.6h-1.6zM79.2 118.9h1.6v1.6h-1.6zM81.7 123.5h1.6v1.6h-1.6zM76.8 121.7h1.6v1.6h-1.6zM66.1 117h1.6v1.6h-1.6zM54.3 106h1.6v1.6h-1.6zM55.4 119.3h1.6v1.6h-1.6zM63.4 117.2h1.6v1.6h-1.6zM77 111h1.6v1.6h-1.6zM83.2 117.6h1.6v1.6h-1.6zM60.8 106.5h1.6v1.6h-1.6zM79.5 108.9h1.6v1.6h-1.6zM67.3 121h1.6v1.6h-1.6zM81.6 115h1.6v1.6h-1.6zM66.3 110.8h1.6v1.6h-1.6zM67.9 107.7h1.6v1.6h-1.6zM81.7 112.5h1.6v1.6h-1.6zM61.5 111.6h1.6v1.6h-1.6zM74.2 120h1.6v1.6h-1.6zM76.6 118.1h1.6v1.6h-1.6zM82.4 119.9h1.6v1.6h-1.6zM66 149.2h1.6v1.6h-1.6zM80.3 149.7h1.6v1.6h-1.6zM56.7 151h1.6v1.6h-1.6zM60 153.8h1.6v1.6h-1.6zM72 149.8h1.6v1.6h-1.6zM78.3 152.7h1.6v1.6h-1.6zM76.9 149.5h1.6v1.6h-1.6zM69.4 151.3h1.6v1.6h-1.6zM55.7 153.2h1.6v1.6h-1.6zM53.7 151h1.6v1.6h-1.6zM81.8 150.6h1.6v1.6h-1.6zM57.9 151.6h1.6v1.6h-1.6zM71.6 150.1h1.6v1.6h-1.6zM76.2 149.2h1.6v1.6h-1.6zM61.5 151.1h1.6v1.6h-1.6zM70.5 152.6h1.6v1.6h-1.6zM72.8 150.4h1.6v1.6h-1.6zM72.9 154.3h1.6v1.6h-1.6zM59 151h1.6v1.6h-1.6zM77 153.3h1.6v1.6h-1.6zM80.1 150.5h1.6v1.6h-1.6zM83.1 153.5h1.6v1.6h-1.6zM77.6 152.8h1.6v1.6h-1.6zM69.6 154h1.6v1.6h-1.6zM72.9 149.2h1.6v1.6h-1.6zM62.5 152.8h1.6v1.6h-1.6zM71.3 153.1h1.6v1.6h-1.6zM83.7 150.5h1.6v1.6h-1.6zM65.3 154.2h1.6v1.6h-1.6zM52.5 150.2h1.6v1.6h-1.6zM82.8 149.7h1.6v1.6h-1.6zM57.1 152.6h1.6v1.6h-1.6zM73.8 151.2h1.6v1.6h-1.6zM61.7 150.3h1.6v1.6h-1.6zM66 150.1h1.6v1.6h-1.6zM77 150.8h1.6v1.6h-1.6zM71 152.1h1.6v1.6h-1.6zM56.7 153.1h1.6v1.6h-1.6zM54.6 153h1.6v1.6h-1.6zM95.9 133.3h1.6v1.6h-1.6zM94.7 130.3h1.6v1.6h-1.6zM106.4 137.3h1.6v1.6h-1.6zM96.5 128.8h1.6v1.6h-1.6zM111.6 134h1.6v1.6h-1.6zM138.9 134.1h1.6v1.6h-1.6zM133.2 133.4h1.6v1.6h-1.6zM107.6 125.6h1.6v1.6h-1.6zM147 133.7h1.6v1.6h-1.6zM102.3 126.8h1.6v1.6h-1.6zM135.1 135.5h1.6v1.6h-1.6zM89.1 125.8h1.6v1.6h-1.6zM90.8 134.1h1.6v1.6h-1.6zM149.5 128.7h1.6v1.6h-1.6zM98.1 131.4h1.6v1.6h-1.6zM123.9 137h1.6v1.6h-1.6zM122.9 150.9h1.6v1.6h-1.6zM106.2 148.7h1.6v1.6h-1.6zM88.8 151.3h1.6v1.6h-1.6zM88.9 151.4h1.6v1.6h-1.6zM91.6 143.3h1.6v1.6h-1.6zM93.9 145.3h1.6v1.6h-1.6zM104.6 142.5h1.6v1.6h-1.6zM105.1 139.8h1.6v1.6h-1.6zM86.4 143.4h1.6v1.6h-1.6zM90.5 149.6h1.6v1.6h-1.6zM101.1 141.9h1.6v1.6h-1.6zM124.6 153.5h1.6v1.6h-1.6zM96.5 153.7h1.6v1.6h-1.6zM104.2 138.6h1.6v1.6h-1.6zM94.1 145.1h1.6v1.6h-1.6zM112 147.8h1.6v1.6h-1.6zM107.3 135.6h1.6v1.6h-1.6zM100.3 140.9h1.6v1.6h-1.6zM119.8 138.4h1.6v1.6h-1.6zM98.1 146.5h1.6v1.6h-1.6zM95.6 145.9h1.6v1.6h-1.6zM92.6 143.5h1.6v1.6h-1.6zM84 139.5h1.6v1.6h-1.6zM124.4 151.5h1.6v1.6h-1.6zM125.3 146.8h1.6v1.6h-1.6zM106.7 138.9h1.6v1.6h-1.6zM112.3 151.2h1.6v1.6h-1.6zM85.6 153.3h1.6v1.6h-1.6zM123.3 139.9h1.6v1.6h-1.6zM94.9 136.2h1.6v1.6h-1.6zM121.1 140.8h1.6v1.6h-1.6zM85.5 135.4h1.6v1.6h-1.6zM117.9 146.4h1.6v1.6h-1.6zM99.6 150.5h1.6v1.6h-1.6zM122.4 146.9h1.6v1.6h-1.6zM91.9 147.6h1.6v1.6h-1.6zM99.4 151.7h1.6v1.6h-1.6zM104.3 137.5h1.6v1.6h-1.6zM109.5 135.8h1.6v1.6h-1.6zM110.6 144.4h1.6v1.6h-1.6zM103.6 143.8h1.6v1.6h-1.6zM113 139.2h1.6v1.6h-1.6zM88.8 139h1.6v1.6h-1.6zM102.2 144.7h1.6v1.6h-1.6zM108.5 138.8h1.6v1.6h-1.6zM109.2 144.9h1.6v1.6h-1.6zM124.1 152.5h1.6v1.6h-1.6zM126 146.8h1.6v1.6h-1.6zM86.7 140.2h1.6v1.6h-1.6zM109.5 137.7h1.6v1.6h-1.6zM105.1 136.5h1.6v1.6h-1.6zM115.8 145.5h1.6v1.6h-1.6zM94.8 147.8h1.6v1.6h-1.6zM123.7 150h1.6v1.6h-1.6zM102.4 146.9h1.6v1.6h-1.6zM125.1 140.2h1.6v1.6h-1.6zM125.3 141.5h1.6v1.6h-1.6zM97.1 152.9h1.6v1.6h-1.6zM87.9 146h1.6v1.6h-1.6zM103 149h1.6v1.6h-1.6zM86.1 137.3h1.6v1.6h-1.6zM111.9 136.2h1.6v1.6h-1.6zM105.5 152.5h1.6v1.6h-1.6zM112 143.3h1.6v1.6h-1.6zM102.5 144.2h1.6v1.6h-1.6zM121.7 144.9h1.6v1.6h-1.6zM100.2 146.2h1.6v1.6h-1.6zM125.5 148.1h1.6v1.6h-1.6zM118.5 152.4h1.6v1.6h-1.6zM103.6 136h1.6v1.6h-1.6zM121.3 136.5h1.6v1.6h-1.6zM107 138.6h1.6v1.6h-1.6zM98.9 142.4h1.6v1.6h-1.6zM90.4 146.2h1.6v1.6h-1.6zM93 145.6h1.6v1.6h-1.6zM125.1 152.7h1.6v1.6h-1.6zM93.9 147.9h1.6v1.6h-1.6zM94.8 148.6h1.6v1.6h-1.6zM105.7 147h1.6v1.6h-1.6zM89 146.6h1.6v1.6h-1.6zM89.2 141.8h1.6v1.6h-1.6zM91.2 140.1h1.6v1.6h-1.6zM114.6 136.5h1.6v1.6h-1.6zM120.1 150.3h1.6v1.6h-1.6zM87.6 152.9h1.6v1.6h-1.6zM121 148.6h1.6v1.6h-1.6zM107.8 152.2h1.6v1.6h-1.6zM86.1 149.2h1.6v1.6h-1.6zM87.5 143.4h1.6v1.6h-1.6zM119.3 139.3h1.6v1.6h-1.6zM112.9 148.3h1.6v1.6h-1.6zM124.2 138.2h1.6v1.6h-1.6zM101.2 145.6h1.6v1.6h-1.6zM109.8 152.1h1.6v1.6h-1.6zM114.5 143.6h1.6v1.6h-1.6zM112.2 139h1.6v1.6h-1.6zM113 146.4h1.6v1.6h-1.6zM99.3 147.1h1.6v1.6h-1.6zM121.9 138.8h1.6v1.6h-1.6zM110.1 145.3h1.6v1.6h-1.6zM97.9 143.4h1.6v1.6h-1.6zM121.6 136.1h1.6v1.6h-1.6zM97.5 141.9h1.6v1.6h-1.6zM89.4 136.4h1.6v1.6h-1.6zM84.6 150.6h1.6v1.6h-1.6zM122.5 136.2h1.6v1.6h-1.6zM105 151.5h1.6v1.6h-1.6zM126.6 147.9h1.6v1.6h-1.6zM119.6 137.3h1.6v1.6h-1.6zM105.1 150.9h1.6v1.6h-1.6zM115.4 147.7h1.6v1.6h-1.6zM92.7 139.8h1.6v1.6h-1.6zM113.5 153.1h1.6v1.6h-1.6zM116.3 139.6h1.6v1.6h-1.6zM123.8 142.2h1.6v1.6h-1.6zM98.8 138.9h1.6v1.6h-1.6zM106.5 137h1.6v1.6h-1.6zM111.4 143.7h1.6v1.6h-1.6zM109.3 145.9h1.6v1.6h-1.6zM123 149.3h1.6v1.6h-1.6zM119.8 140.4h1.6v1.6h-1.6zM101.1 145.5h1.6v1.6h-1.6zM110.4 150.9h1.6v1.6h-1.6zM107.6 151.8h1.6v1.6h-1.6zM88.9 147h1.6v1.6h-1.6zM105.9 151.8h1.6v1.6h-1.6zM123.6 152.9h1.6v1.6h-1.6zM114.6 154h1.6v1.6h-1.6zM92.8 136.8h1.6v1.6h-1.6zM113.6 149.2h1.6v1.6h-1.6zM125.8 142.6h1.6v1.6h-1.6zM114.3 137.4h1.6v1.6h-1.6zM110.5 141.5h1.6v1.6h-1.6zM94.2 140.4h1.6v1.6h-1.6zM124.7 142.7h1.6v1.6h-1.6zM127.1 154.1h1.6v1.6h-1.6zM87 152.9h1.6v1.6h-1.6zM90.3 139.5h1.6v1.6h-1.6zM86 148.6h1.6v1.6h-1.6zM100.8 142.3h1.6v1.6h-1.6zM97 148.4h1.6v1.6h-1.6zM87.5 138h1.6v1.6h-1.6zM102.6 140.4h1.6v1.6h-1.6zM119.3 147.5h1.6v1.6h-1.6zM110.9 141.8h1.6v1.6h-1.6zM121.3 136.9h1.6v1.6h-1.6zM103.7 147.9h1.6v1.6h-1.6zM102.6 149.8h1.6v1.6h-1.6zM105.6 149.9h1.6v1.6h-1.6zM88.3 143.7h1.6v1.6h-1.6zM95 142.5h1.6v1.6h-1.6zM110.7 153.8h1.6v1.6h-1.6zM89.4 137.5h1.6v1.6h-1.6zM101.5 137.7h1.6v1.6h-1.6zM117.5 144.2h1.6v1.6h-1.6zM116.9 143.6h1.6v1.6h-1.6zM91.2 150.5h1.6v1.6h-1.6zM121.8 150.8h1.6v1.6h-1.6zM112.8 137.6h1.6v1.6h-1.6zM106.4 149.1h1.6v1.6h-1.6zM120 148.7h1.6v1.6h-1.6zM96 143.1h1.6v1.6h-1.6zM116.9 152.9h1.6v1.6h-1.6zM102.5 140.2h1.6v1.6h-1.6zM90 135.5h1.6v1.6h-1.6zM106.1 150.2h1.6v1.6h-1.6zM90.9 152.2h1.6v1.6h-1.6zM93 135.7h1.6v1.6h-1.6zM100.1 138.7h1.6v1.6h-1.6zM101.1 143.7h1.6v1.6h-1.6zM84.8 152.8h1.6v1.6h-1.6zM125.6 142.6h1.6v1.6h-1.6zM96 144.6h1.6v1.6h-1.6zM121.3 151.1h1.6v1.6h-1.6zM120.7 137.8h1.6v1.6h-1.6zM120.9 151.9h1.6v1.6h-1.6zM111.5 152.6h1.6v1.6h-1.6zM96 152.3h1.6v1.6h-1.6zM113.4 142.1h1.6v1.6h-1.6zM121.7 136.3h1.6v1.6h-1.6zM98.7 144.4h1.6v1.6h-1.6zM98.3 150.6h1.6v1.6h-1.6zM89.8 138.3h1.6v1.6h-1.6zM88.7 147.1h1.6v1.6h-1.6zM116.8 140h1.6v1.6h-1.6zM111.9 148.4h1.6v1.6h-1.6zM91.5 143.5h1.6v1.6h-1.6zM103.4 137.9h1.6v1.6h-1.6zM115.8 139.8h1.6v1.6h-1.6zM88.8 139h1.6v1.6h-1.6zM116.5 144.5h1.6v1.6h-1.6zM116.9 153.4h1.6v1.6h-1.6zM85.7 149h1.6v1.6h-1.6zM111.3 149.7h1.6v1.6h-1.6zM147.7 152.3h1.6v1.6h-1.6zM129.7 148.6h1.6v1.6h-1.6zM128.5 152.8h1.6v1.6h-1.6zM137.6 150.6h1.6v1.6h-1.6zM144.6 147.8h1.6v1.6h-1.6zM132 147.2h1.6v1.6h-1.6zM141 153.6h1.6v1.6h-1.6zM130.4 146.6h1.6v1.6h-1.6zM131.5 146.9h1.6v1.6h-1.6zM126.4 148h1.6v1.6h-1.6zM135.5 150.4h1.6v1.6h-1.6zM128.7 149.5h1.6v1.6h-1.6zM138.3 147.4h1.6v1.6h-1.6zM125.8 149.7h1.6v1.6h-1.6zM149.8 154.4h1.6v1.6h-1.6zM136.4 146.7h1.6v1.6h-1.6zM141.9 147.9h1.6v1.6h-1.6zM131.4 151h1.6v1.6h-1.6zM128 153.8h1.6v1.6h-1.6zM130.4 149.2h1.6v1.6h-1.6zM143.7 152.1h1.6v1.6h-1.6zM132.9 145.6h1.6v1.6h-1.6zM143.4 153.1h1.6v1.6h-1.6zM136.1 151.4h1.6v1.6h-1.6zM133.7 150.7h1.6v1.6h-1.6zM149.9 148h1.6v1.6h-1.6zM144.5 147.4h1.6v1.6h-1.6zM129.4 147h1.6v1.6h-1.6zM141.3 147.5h1.6v1.6h-1.6zM152 144h1.6v1.6h-1.6zM131.7 138.3h1.6v1.6h-1.6zM156.4 138.7h1.6v1.6h-1.6zM137.5 139.9h1.6v1.6h-1.6zM159.9 152.3h1.6v1.6h-1.6zM162.2 145.2h1.6v1.6h-1.6zM160.9 147.1h1.6v1.6h-1.6zM131.4 141.4h1.6v1.6h-1.6zM161.9 144.4h1.6v1.6h-1.6zM164.3 140.2h1.6v1.6h-1.6zM131.5 141.8h1.6v1.6h-1.6zM155.7 152.5h1.6v1.6h-1.6z"/>
<path fill="#40c8f0" d="M60.6 123.3h1.3v1.3h-1.3zM78.7 150.2h1.3v1.3h-1.3zM55.8 125.5h1.3v1.3h-1.3zM70.6 128.2h1.3v1.3h-1.3zM72.5 146.4h1.3v1.3h-1.3zM74.4 137.3h1.3v1.3h-1.3zM76.1 139.2h1.3v1.3h-1.3zM70.5 122.3h1.3v1.3h-1.3zM70.9 142.2h1.3v1.3h-1.3zM82.3 135.6h1.3v1.3h-1.3zM58.5 142.7h1.3v1.3h-1.3zM57.6 124.4h1.3v1.3h-1.3zM78 132.6h1.3v1.3h-1.3zM64.6 136.8h1.3v1.3h-1.3zM58.7 148.6h1.3v1.3h-1.3zM59.2 135.6h1.3v1.3h-1.3zM76.7 125.6h1.3v1.3h-1.3zM68.5 131.3h1.3v1.3h-1.3zM74.7 148.9h1.3v1.3h-1.3zM109.2 151.9h1.6v1.6h-1.6zM109.3 140.4h1.6v1.6h-1.6zM119.3 145.1h1.6v1.6h-1.6zM93.9 144.2h1.6v1.6h-1.6zM103.5 141.4h1.6v1.6h-1.6zM127.2 152.5h1.6v1.6h-1.6zM126.6 147h1.6v1.6h-1.6zM114.1 139.8h1.6v1.6h-1.6zM105.4 143.4h1.6v1.6h-1.6zM91.8 145.2h1.6v1.6h-1.6zM101 152.7h1.6v1.6h-1.6zM100.9 154h1.6v1.6h-1.6zM88.8 149.6h1.6v1.6h-1.6zM104.5 141.8h1.6v1.6h-1.6zM108.6 138.8h1.6v1.6h-1.6zM124.9 149.5h1.6v1.6h-1.6zM84.8 143.6h1.6v1.6h-1.6zM94 147.3h1.6v1.6h-1.6zM86.6 148.5h1.6v1.6h-1.6zM104.3 146.5h1.6v1.6h-1.6zM121.8 137.9h1.6v1.6h-1.6zM101.7 151.6h1.6v1.6h-1.6zM108.3 136.8h1.6v1.6h-1.6zM109.3 137.4h1.6v1.6h-1.6zM89.2 145.9h1.6v1.6h-1.6zM118.5 140.5h1.6v1.6h-1.6zM116.3 143.3h1.6v1.6h-1.6zM100.9 137.3h1.6v1.6h-1.6zM120.5 136h1.6v1.6h-1.6zM107.2 149.6h1.6v1.6h-1.6zM100.3 153.7h1.6v1.6h-1.6zM99.5 144.2h1.6v1.6h-1.6zM114.4 136.1h1.6v1.6h-1.6zM107.9 138.3h1.6v1.6h-1.6zM100.3 139.2h1.6v1.6h-1.6zM124 146.4h1.6v1.6h-1.6zM97.6 147h1.6v1.6h-1.6zM112.9 148.2h1.6v1.6h-1.6zM88.7 147h1.6v1.6h-1.6zM120.9 148.5h1.6v1.6h-1.6zM119.3 151.5h1.6v1.6h-1.6zM102.8 148.6h1.6v1.6h-1.6z"/>
<path fill="#14eea4" d="M84.3 113.1h1.8v1.8h-1.8zM157.2 118.8h1.8v1.8h-1.8zM134.2 103.4h1.8v1.8h-1.8zM116.6 120.4h1.8v1.8h-1.8zM131.6 122h1.8v1.8h-1.8zM87.3 119.3h1.8v1.8h-1.8zM140.9 122.2h1.8v1.8h-1.8zM100.1 123.3h1.8v1.8h-1.8zM96.7 121.8h1.6v1.6h-1.6zM84.9 121.2h1.6v1.6h-1.6zM98.5 124.7h1.6v1.6h-1.6zM101.6 124.5h1.6v1.6h-1.6zM108.5 121.9h1.6v1.6h-1.6zM89 118.4h1.6v1.6h-1.6zM98.2 117.3h1.6v1.6h-1.6zM105.3 123.2h1.6v1.6h-1.6zM103.8 125.2h1.6v1.6h-1.6zM103.1 126.2h1.6v1.6h-1.6zM92.4 123.7h1.6v1.6h-1.6zM60.3 113.1h1.8v1.8h-1.8zM80.2 114.9h1.8v1.8h-1.8zM45.3 116.4h1.8v1.8h-1.8zM66.6 100.6h1.8v1.8h-1.8zM62.1 107h1.8v1.8h-1.8zM58.9 104.1h1.8v1.8h-1.8zM60.2 107.7h1.8v1.8h-1.8zM63.5 118.2h1.6v1.6h-1.6zM59 105.7h1.6v1.6h-1.6zM53.5 114h1.6v1.6h-1.6zM70.1 109.8h1.6v1.6h-1.6zM62.5 116.5h1.6v1.6h-1.6zM71.5 116.6h1.6v1.6h-1.6zM75.5 123h1.6v1.6h-1.6zM65.8 117.3h1.6v1.6h-1.6zM60.6 111.1h1.6v1.6h-1.6zM68.2 133.7h1.3v1.3h-1.3zM66 134.6h1.3v1.3h-1.3zM64.9 126.1h1.3v1.3h-1.3zM72.5 141.1h1.3v1.3h-1.3zM82.8 129h1.3v1.3h-1.3zM52.2 128.6h1.3v1.3h-1.3zM78.8 132h1.3v1.3h-1.3zM76.8 130.8h1.3v1.3h-1.3zM80.1 131h1.3v1.3h-1.3zM71.4 126.7h1.3v1.3h-1.3zM72.8 141h1.3v1.3h-1.3zM55.3 143.8h1.3v1.3h-1.3zM70.2 137.3h1.3v1.3h-1.3zM64.5 153.9h1.6v1.6h-1.6zM75.9 153.6h1.6v1.6h-1.6zM63.3 150.9h1.6v1.6h-1.6zM53.5 154.2h1.6v1.6h-1.6zM80.4 153.3h1.6v1.6h-1.6zM146.9 127.5h1.6v1.6h-1.6zM87.3 136.6h1.6v1.6h-1.6zM132.2 126h1.6v1.6h-1.6zM110.6 127.3h1.6v1.6h-1.6zM148.5 129.1h1.6v1.6h-1.6zM106.5 137.4h1.6v1.6h-1.6zM95.1 135.4h1.6v1.6h-1.6zM129.3 131.9h1.6v1.6h-1.6zM84.5 126.8h1.6v1.6h-1.6zM155.9 126.6h1.6v1.6h-1.6zM131.1 129.1h1.6v1.6h-1.6zM101.6 138.1h1.6v1.6h-1.6zM94.2 138.4h1.6v1.6h-1.6zM107.5 131.9h1.6v1.6h-1.6zM106.9 129.4h1.6v1.6h-1.6zM127.7 136.3h1.6v1.6h-1.6zM133.8 125.5h1.6v1.6h-1.6zM140.6 134.2h1.6v1.6h-1.6zM90.7 136.5h1.6v1.6h-1.6zM93.1 136.8h1.6v1.6h-1.6zM95.4 133.9h1.6v1.6h-1.6zM106.8 129.4h1.6v1.6h-1.6zM90.7 125.4h1.6v1.6h-1.6zM95.1 129.9h1.6v1.6h-1.6zM110.3 125.7h1.6v1.6h-1.6zM123.8 134.5h1.6v1.6h-1.6zM107.4 139.7h1.6v1.6h-1.6zM103.2 145.6h1.6v1.6h-1.6zM98.3 140.4h1.6v1.6h-1.6zM88 148.4h1.6v1.6h-1.6zM86.5 148.6h1.6v1.6h-1.6zM108.7 142.4h1.6v1.6h-1.6zM103.9 147.9h1.6v1.6h-1.6zM113.9 148.1h1.6v1.6h-1.6zM115.2 139.9h1.6v1.6h-1.6zM112.8 147.4h1.6v1.6h-1.6zM93.3 154.1h1.6v1.6h-1.6zM95.9 140h1.6v1.6h-1.6zM97.2 146.9h1.6v1.6h-1.6zM118.3 150.1h1.6v1.6h-1.6zM109.5 153.8h1.6v1.6h-1.6zM116.9 142.3h1.6v1.6h-1.6zM97.3 149.5h1.6v1.6h-1.6zM85.2 136.6h1.6v1.6h-1.6zM92.1 148.1h1.6v1.6h-1.6zM112.8 146h1.6v1.6h-1.6zM98.4 136.8h1.6v1.6h-1.6zM110.6 144.7h1.6v1.6h-1.6zM124.8 137.2h1.6v1.6h-1.6zM90.6 147h1.6v1.6h-1.6zM84.9 139h1.6v1.6h-1.6zM89.5 140.2h1.6v1.6h-1.6zM124.7 147.7h1.6v1.6h-1.6zM107.7 139.7h1.6v1.6h-1.6zM125.5 145.8h1.6v1.6h-1.6zM116.1 143.6h1.6v1.6h-1.6zM118.6 139.9h1.6v1.6h-1.6zM114.5 149.3h1.6v1.6h-1.6zM94.7 149.1h1.6v1.6h-1.6zM86 137.6h1.6v1.6h-1.6zM92 153.4h1.6v1.6h-1.6zM91.4 154h1.6v1.6h-1.6zM87 151.4h1.6v1.6h-1.6zM90.7 150.5h1.6v1.6h-1.6zM108.6 154.2h1.6v1.6h-1.6zM91 151.4h1.6v1.6h-1.6zM123.5 148.8h1.6v1.6h-1.6zM97 136h1.6v1.6h-1.6zM121.3 145.1h1.6v1.6h-1.6zM86.3 136.8h1.6v1.6h-1.6zM103.2 147.6h1.6v1.6h-1.6zM90 151.9h1.6v1.6h-1.6zM122.7 142.8h1.6v1.6h-1.6zM97 142.5h1.6v1.6h-1.6zM105.9 149.2h1.6v1.6h-1.6zM86.2 146h1.6v1.6h-1.6zM119.1 142.3h1.6v1.6h-1.6zM108.7 135.8h1.6v1.6h-1.6zM117.3 150.7h1.6v1.6h-1.6zM129.9 146h1.6v1.6h-1.6zM133 149.1h1.6v1.6h-1.6zM135.4 145.4h1.6v1.6h-1.6zM149.8 151.6h1.6v1.6h-1.6zM138.3 153.5h1.6v1.6h-1.6zM136.8 152h1.6v1.6h-1.6zM145.6 149.2h1.6v1.6h-1.6zM131.4 153.1h1.6v1.6h-1.6zM135.7 140.8h1.6v1.6h-1.6zM134.2 141.4h1.6v1.6h-1.6zM156.8 138.9h1.6v1.6h-1.6zM137.2 151.8h1.6v1.6h-1.6zM126 148.7h1.6v1.6h-1.6zM163.2 141.2h1.6v1.6h-1.6zM154.9 154.2h1.6v1.6h-1.6z"/>
<path fill="#6ae2f4" d="M98.1 93.7h1.6v1.6h-1.6zM110.4 99.9h1.6v1.6h-1.6zM104.9 97.1h1.6v1.6h-1.6zM80.1 94.7h1.6v1.6h-1.6zM83.5 99.8h1.6v1.6h-1.6zM115 110.7h1.8v1.8h-1.8zM157.9 117.1h1.8v1.8h-1.8zM126.8 108.9h1.8v1.8h-1.8zM155.2 113h1.8v1.8h-1.8zM129.5 123.3h1.8v1.8h-1.8zM111.1 100.4h1.8v1.8h-1.8zM96.6 115.7h1.8v1.8h-1.8zM152.6 119.8h1.8v1.8h-1.8zM115.9 112.8h1.8v1.8h-1.8zM104.9 117.3h1.8v1.8h-1.8zM133.6 114.8h1.8v1.8h-1.8zM97.9 111.2h1.8v1.8h-1.8zM85.8 112.1h1.8v1.8h-1.8zM110.1 112.1h1.8v1.8h-1.8zM135.3 114.9h1.8v1.8h-1.8zM132.2 119.9h1.8v1.8h-1.8zM151.3 117h1.8v1.8h-1.8zM88.3 121.4h1.8v1.8h-1.8zM87.5 117.7h1.6v1.6h-1.6zM88.9 119h1.6v1.6h-1.6zM91.4 126.2h1.6v1.6h-1.6zM85.9 118.6h1.6v1.6h-1.6zM107.2 121.1h1.6v1.6h-1.6zM88.6 123h1.6v1.6h-1.6zM45.4 108.4h1.8v1.8h-1.8zM74.2 116.1h1.8v1.8h-1.8zM60.2 114.9h1.8v1.8h-1.8zM74.2 104h1.8v1.8h-1.8zM80.7 110.7h1.8v1.8h-1.8zM49.6 109.4h1.8v1.8h-1.8zM49.3 112.1h1.8v1.8h-1.8zM80.7 111.1h1.8v1.8h-1.8zM66.7 108.9h1.8v1.8h-1.8zM73.5 100.7h1.8v1.8h-1.8zM83.9 117.4h1.8v1.8h-1.8zM79.7 102h1.8v1.8h-1.8zM81.7 102.3h1.8v1.8h-1.8zM81.8 112h1.8v1.8h-1.8zM74.2 112.1h1.8v1.8h-1.8zM66.6 100h1.8v1.8h-1.8zM70.9 100.9h1.8v1.8h-1.8zM55.1 118.1h1.8v1.8h-1.8zM59 102.5h1.8v1.8h-1.8zM69.5 107.9h1.8v1.8h-1.8zM51.5 110.4h1.8v1.8h-1.8zM71.9 100.3h1.8v1.8h-1.8zM67.1 111.2h1.8v1.8h-1.8zM82.2 108.5h1.6v1.6h-1.6zM56.5 110.2h1.6v1.6h-1.6zM64.5 111.2h1.6v1.6h-1.6zM78.2 121.8h1.6v1.6h-1.6zM62.3 111.4h1.6v1.6h-1.6zM54.9 105.9h1.6v1.6h-1.6zM71 107.5h1.6v1.6h-1.6zM83.2 108.2h1.6v1.6h-1.6zM80.6 110.7h1.6v1.6h-1.6zM63.9 105.5h1.6v1.6h-1.6zM78.4 116.9h1.6v1.6h-1.6zM72.9 118.3h1.6v1.6h-1.6zM60.6 108.5h1.6v1.6h-1.6zM71.2 110.1h1.6v1.6h-1.6zM70 109.6h1.6v1.6h-1.6zM82.1 114.3h1.6v1.6h-1.6zM61.1 120.3h1.6v1.6h-1.6zM54.5 130.3h1.3v1.3h-1.3zM82.3 150.1h1.3v1.3h-1.3zM70.1 142h1.3v1.3h-1.3zM76.7 126.2h1.3v1.3h-1.3zM69.9 122.6h1.3v1.3h-1.3zM60.1 137.3h1.3v1.3h-1.3zM83.8 134.5h1.3v1.3h-1.3zM59.8 144.2h1.3v1.3h-1.3zM80.8 142.5h1.3v1.3h-1.3zM68.3 148.6h1.3v1.3h-1.3zM72 126.8h1.3v1.3h-1.3zM77 150.3h1.3v1.3h-1.3zM53.4 137.3h1.3v1.3h-1.3zM79.4 121h1.3v1.3h-1.3zM52 142.3h1.3v1.3h-1.3zM72.4 141.5h1.3v1.3h-1.3zM52.8 142.7h1.3v1.3h-1.3zM55.9 137.5h1.3v1.3h-1.3zM80.6 145.3h1.3v1.3h-1.3zM57.1 150h1.3v1.3h-1.3zM78.2 147.9h1.3v1.3h-1.3zM58.7 145.2h1.3v1.3h-1.3zM71.8 137.4h1.3v1.3h-1.3zM68.6 146.4h1.3v1.3h-1.3zM81.3 121.1h1.3v1.3h-1.3zM78.3 150.1h1.3v1.3h-1.3zM64.6 148.6h1.3v1.3h-1.3zM62.1 125.2h1.3v1.3h-1.3zM76.6 140.8h1.3v1.3h-1.3zM58.3 148.4h1.3v1.3h-1.3zM76.1 122.5h1.3v1.3h-1.3zM88.3 139.5h1.6v1.6h-1.6zM90.2 153.6h1.6v1.6h-1.6zM111.7 136.1h1.6v1.6h-1.6zM102.7 149.9h1.6v1.6h-1.6zM124.3 147.7h1.6v1.6h-1.6zM109.6 140.8h1.6v1.6h-1.6zM121.7 145.6h1.6v1.6h-1.6zM121.7 154.3h1.6v1.6h-1.6zM110.4 147.6h1.6v1.6h-1.6zM122.1 153.1h1.6v1.6h-1.6zM88.7 139.6h1.6v1.6h-1.6zM122.9 150h1.6v1.6h-1.6zM107.5 148.7h1.6v1.6h-1.6zM93 146.2h1.6v1.6h-1.6zM94.6 149.2h1.6v1.6h-1.6zM96.7 147.4h1.6v1.6h-1.6zM98.4 143.1h1.6v1.6h-1.6zM109.5 142h1.6v1.6h-1.6zM115.1 153.2h1.6v1.6h-1.6zM88.9 138.1h1.6v1.6h-1.6zM108.8 150.3h1.6v1.6h-1.6zM125.1 140.7h1.6v1.6h-1.6zM122.8 137.4h1.6v1.6h-1.6zM122.1 154.2h1.6v1.6h-1.6zM114.7 141.8h1.6v1.6h-1.6zM108.5 152.4h1.6v1.6h-1.6zM115.1 147.5h1.6v1.6h-1.6zM123.7 151.8h1.6v1.6h-1.6zM90.2 148.3h1.6v1.6h-1.6zM95.3 137.1h1.6v1.6h-1.6zM100.7 136.4h1.6v1.6h-1.6zM85.3 141.9h1.6v1.6h-1.6zM108.9 142.7h1.6v1.6h-1.6zM99.8 151.9h1.6v1.6h-1.6zM88.8 149h1.6v1.6h-1.6zM124.8 154h1.6v1.6h-1.6zM95.7 150.9h1.6v1.6h-1.6zM114 150h1.6v1.6h-1.6zM125.7 146.6h1.6v1.6h-1.6zM121.3 143.3h1.6v1.6h-1.6zM120.5 140.4h1.6v1.6h-1.6zM115.2 138.4h1.6v1.6h-1.6zM101.4 144.7h1.6v1.6h-1.6zM116.1 146.7h1.6v1.6h-1.6zM118.4 148.3h1.6v1.6h-1.6zM123.8 146h1.6v1.6h-1.6zM90.4 149.5h1.6v1.6h-1.6zM104.3 146.4h1.6v1.6h-1.6zM120.5 141.8h1.6v1.6h-1.6zM109.8 149.3h1.6v1.6h-1.6zM126.1 151.4h1.6v1.6h-1.6zM84.6 140.3h1.6v1.6h-1.6zM124.7 141.9h1.6v1.6h-1.6zM88.3 144.3h1.6v1.6h-1.6zM96.9 136.1h1.6v1.6h-1.6zM112.6 140.2h1.6v1.6h-1.6zM86.1 144.8h1.6v1.6h-1.6zM114 135.7h1.6v1.6h-1.6zM108.3 138.4h1.6v1.6h-1.6zM114.3 147.4h1.6v1.6h-1.6zM119.1 139h1.6v1.6h-1.6zM109.6 140.2h1.6v1.6h-1.6zM99.8 149.9h1.6v1.6h-1.6zM137.1 150.8h1.6v1.6h-1.6zM139.9 137h1.6v1.6h-1.6zM134.8 142.5h1.6v1.6h-1.6zM164.1 149.8h1.6v1.6h-1.6zM145.4 143.8h1.6v1.6h-1.6zM141.3 143.4h1.6v1.6h-1.6zM154.8 144.7h1.6v1.6h-1.6zM161.6 142.8h1.6v1.6h-1.6zM165.4 149.3h1.6v1.6h-1.6z"/>
<path fill="#10e010" d="M108 134h1.6v1.6h-1.6zM128.1 136.8h1.6v1.6h-1.6zM126.3 127.9h1.6v1.6h-1.6zM126.7 124.7h1.6v1.6h-1.6zM123.7 136.2h1.6v1.6h-1.6zM120.8 132.5h1.6v1.6h-1.6zM126.8 134.9h1.6v1.6h-1.6zM119.9 133.9h1.6v1.6h-1.6zM147.1 128.3h1.6v1.6h-1.6zM129.1 130.1h1.6v1.6h-1.6zM115.9 130.1h1.6v1.6h-1.6zM91.8 128.8h1.6v1.6h-1.6zM116.5 129.1h1.6v1.6h-1.6zM91.5 134.3h1.6v1.6h-1.6zM113 124.1h1.6v1.6h-1.6zM148.3 126.9h1.6v1.6h-1.6zM103.9 130.3h1.6v1.6h-1.6zM112.4 131.8h1.6v1.6h-1.6zM115.1 125.8h1.6v1.6h-1.6zM126.4 129.6h1.6v1.6h-1.6zM161.7 129.2h1.6v1.6h-1.6zM107 134h1.6v1.6h-1.6zM115.1 129.1h1.6v1.6h-1.6zM129.3 131.4h1.6v1.6h-1.6zM129.4 130.8h1.6v1.6h-1.6zM146.3 128.3h1.6v1.6h-1.6zM134.1 126.2h1.6v1.6h-1.6zM108.1 126.6h1.6v1.6h-1.6zM87.1 131.4h1.6v1.6h-1.6zM116.3 127.8h1.6v1.6h-1.6zM142.8 133.4h1.6v1.6h-1.6zM113.8 132.3h1.6v1.6h-1.6zM107.9 127.7h1.6v1.6h-1.6zM152.8 127.9h1.6v1.6h-1.6zM99.8 128.6h1.6v1.6h-1.6zM138.5 130.9h1.6v1.6h-1.6zM130.7 128.7h1.6v1.6h-1.6zM145.1 134.8h1.6v1.6h-1.6zM128.1 136.7h1.6v1.6h-1.6zM122.3 135.5h1.6v1.6h-1.6zM115.5 132.4h1.6v1.6h-1.6zM138.1 132.3h1.6v1.6h-1.6zM133.1 134.3h1.6v1.6h-1.6zM99.3 124h1.6v1.6h-1.6zM116.5 137.6h1.6v1.6h-1.6zM84.4 133.3h1.6v1.6h-1.6zM133.4 145.5h1.6v1.6h-1.6zM140 153.5h1.6v1.6h-1.6zM144.7 146.1h1.6v1.6h-1.6z"/>
<path fill="#30dc20" d="M107.2 128.7h1.6v1.6h-1.6zM110.2 135.5h1.6v1.6h-1.6zM139.5 127.2h1.6v1.6h-1.6zM129.3 136.4h1.6v1.6h-1.6zM160.7 131.9h1.6v1.6h-1.6zM159.9 134.3h1.6v1.6h-1.6zM160.5 127.7h1.6v1.6h-1.6zM85.5 125.4h1.6v1.6h-1.6zM151.1 128.4h1.6v1.6h-1.6zM107.2 134.2h1.6v1.6h-1.6zM94.1 138h1.6v1.6h-1.6zM108.8 129.9h1.6v1.6h-1.6zM126.9 125h1.6v1.6h-1.6zM148.7 130.3h1.6v1.6h-1.6zM128.6 125.7h1.6v1.6h-1.6zM128.6 133.4h1.6v1.6h-1.6zM127.6 132.1h1.6v1.6h-1.6zM126.3 124.5h1.6v1.6h-1.6zM84.6 137.2h1.6v1.6h-1.6zM121.9 126.7h1.6v1.6h-1.6zM149.2 128.9h1.6v1.6h-1.6zM142.9 126.8h1.6v1.6h-1.6zM109.5 129.8h1.6v1.6h-1.6zM134.4 131.1h1.6v1.6h-1.6zM133.9 130.4h1.6v1.6h-1.6zM91 131.3h1.6v1.6h-1.6zM124.3 135h1.6v1.6h-1.6zM122.3 129.2h1.6v1.6h-1.6zM99 127.9h1.6v1.6h-1.6zM121.3 128h1.6v1.6h-1.6zM116.1 132h1.6v1.6h-1.6zM84.8 132.3h1.6v1.6h-1.6zM110.3 132.4h1.6v1.6h-1.6zM97.7 124.8h1.6v1.6h-1.6zM110 132.6h1.6v1.6h-1.6zM86.6 131.5h1.6v1.6h-1.6zM85.5 136.9h1.6v1.6h-1.6zM165.4 128.1h1.6v1.6h-1.6zM142.8 130.4h1.6v1.6h-1.6zM123.4 129.2h1.6v1.6h-1.6zM158.1 127.7h1.6v1.6h-1.6zM100.9 134.6h1.6v1.6h-1.6zM94.7 137.2h1.6v1.6h-1.6zM86 135.4h1.6v1.6h-1.6zM117.6 134.8h1.6v1.6h-1.6zM87.7 126.2h1.6v1.6h-1.6zM137.6 126.8h1.6v1.6h-1.6z"/>
<path fill="#22f022" d="M84.4 137.9h1.6v1.6h-1.6zM157.6 130.5h1.6v1.6h-1.6zM123.1 137.2h1.6v1.6h-1.6zM110 125.5h1.6v1.6h-1.6zM125 136.9h1.6v1.6h-1.6zM147.3 126.5h1.6v1.6h-1.6zM103.3 123.8h1.6v1.6h-1.6zM98.7 126.7h1.6v1.6h-1.6zM133.7 134.7h1.6v1.6h-1.6zM88.7 128h1.6v1.6h-1.6zM121.3 125.6h1.6v1.6h-1.6zM91.6 128.5h1.6v1.6h-1.6zM142.9 134.9h1.6v1.6h-1.6zM122.1 131.3h1.6v1.6h-1.6zM115.3 132.9h1.6v1.6h-1.6zM159.9 130.4h1.6v1.6h-1.6zM107.2 137.4h1.6v1.6h-1.6zM159.7 133.5h1.6v1.6h-1.6zM100.7 126.5h1.6v1.6h-1.6zM85.2 128.8h1.6v1.6h-1.6zM99.1 124h1.6v1.6h-1.6zM119.2 131.1h1.6v1.6h-1.6zM100.3 137h1.6v1.6h-1.6zM131.3 132.5h1.6v1.6h-1.6zM166.3 129.5h1.6v1.6h-1.6zM139.9 129.5h1.6v1.6h-1.6zM142.8 130.7h1.6v1.6h-1.6zM103.8 137.6h1.6v1.6h-1.6zM158.6 129h1.6v1.6h-1.6zM117.9 136.2h1.6v1.6h-1.6zM162.8 127.5h1.6v1.6h-1.6zM128.7 126.5h1.6v1.6h-1.6zM134.8 130.5h1.6v1.6h-1.6zM90.1 128.1h1.6v1.6h-1.6zM136.7 135.7h1.6v1.6h-1.6zM145.2 129.4h1.6v1.6h-1.6zM91.8 124.7h1.6v1.6h-1.6zM110.7 132.2h1.6v1.6h-1.6zM155.9 133h1.6v1.6h-1.6zM161.8 131.7h1.6v1.6h-1.6zM106.2 137.5h1.6v1.6h-1.6zM89.4 133.3h1.6v1.6h-1.6zM93 136h1.6v1.6h-1.6zM94.6 135.5h1.6v1.6h-1.6zM137 132.3h1.6v1.6h-1.6zM137.9 131.4h1.6v1.6h-1.6zM155.2 132.4h1.6v1.6h-1.6zM148.1 132.3h1.6v1.6h-1.6zM117 130.3h1.6v1.6h-1.6zM97.7 136.8h1.6v1.6h-1.6zM89.6 129.2h1.6v1.6h-1.6zM109.5 136.4h1.6v1.6h-1.6zM141.5 135.2h1.6v1.6h-1.6zM93.7 137.7h1.6v1.6h-1.6zM128.4 126.2h1.6v1.6h-1.6zM135.6 127.7h1.6v1.6h-1.6zM116.2 131.8h1.6v1.6h-1.6zM127.3 132.6h1.6v1.6h-1.6zM84.8 132.5h1.6v1.6h-1.6zM119.9 127.1h1.6v1.6h-1.6zM115 126.6h1.6v1.6h-1.6zM151 128.4h1.6v1.6h-1.6zM161.4 132.8h1.6v1.6h-1.6zM145.3 128.3h1.6v1.6h-1.6zM143.3 126.5h1.6v1.6h-1.6zM142.1 128.8h1.6v1.6h-1.6zM104.1 133.1h1.6v1.6h-1.6zM94.2 130.9h1.6v1.6h-1.6zM117.5 134.2h1.6v1.6h-1.6zM124.2 125.7h1.6v1.6h-1.6zM85.4 133.4h1.6v1.6h-1.6zM96.4 129.7h1.6v1.6h-1.6zM129.8 128.6h1.6v1.6h-1.6zM146.4 126.9h1.6v1.6h-1.6zM118.8 126.4h1.6v1.6h-1.6zM105.6 127.5h1.6v1.6h-1.6zM151 127.2h1.6v1.6h-1.6zM102.3 131.6h1.6v1.6h-1.6zM164.3 128.7h1.6v1.6h-1.6zM139.6 135.6h1.6v1.6h-1.6zM96 138.2h1.6v1.6h-1.6zM118.8 128.4h1.6v1.6h-1.6zM132.7 134.7h1.6v1.6h-1.6zM150.1 126.4h1.6v1.6h-1.6zM129.9 128.2h1.6v1.6h-1.6zM97.3 125.7h1.6v1.6h-1.6zM111.1 137h1.6v1.6h-1.6zM113.4 132h1.6v1.6h-1.6zM111.1 137h1.6v1.6h-1.6zM164 127.3h1.6v1.6h-1.6zM91 126h1.6v1.6h-1.6zM109.1 132h1.6v1.6h-1.6zM106.4 134.5h1.6v1.6h-1.6zM111.7 128.6h1.6v1.6h-1.6zM86.6 137.9h1.6v1.6h-1.6zM97.5 128.7h1.6v1.6h-1.6zM88 124.8h1.6v1.6h-1.6zM87.9 126.8h1.6v1.6h-1.6zM106.7 132.7h1.6v1.6h-1.6zM101.5 124.9h1.6v1.6h-1.6zM134.4 126.1h1.6v1.6h-1.6zM136.6 128.8h1.6v1.6h-1.6zM99.6 132.5h1.6v1.6h-1.6zM129.4 127.5h1.6v1.6h-1.6zM131.6 135.2h1.6v1.6h-1.6zM129.1 128.4h1.6v1.6h-1.6zM87.2 133.9h1.6v1.6h-1.6zM87.3 131.2h1.6v1.6h-1.6zM106 123.9h1.6v1.6h-1.6zM153.3 134.5h1.6v1.6h-1.6zM104.6 135.7h1.6v1.6h-1.6zM149.2 129.7h1.6v1.6h-1.6zM128.4 127.7h1.6v1.6h-1.6zM119.3 125.6h1.6v1.6h-1.6zM148.1 133.6h1.6v1.6h-1.6zM143.8 129h1.6v1.6h-1.6zM99.9 129.3h1.6v1.6h-1.6zM98.5 129.1h1.6v1.6h-1.6zM117.9 130h1.6v1.6h-1.6zM150.7 130.8h1.6v1.6h-1.6zM159.4 134.2h1.6v1.6h-1.6zM87.1 128.6h1.6v1.6h-1.6zM164.6 129.5h1.6v1.6h-1.6zM156.2 131.6h1.6v1.6h-1.6zM87.6 127.6h1.6v1.6h-1.6zM116.3 134.8h1.6v1.6h-1.6zM108.4 130.6h1.6v1.6h-1.6zM137.5 125.9h1.6v1.6h-1.6zM87.4 132.5h1.6v1.6h-1.6zM131.2 133.7h1.6v1.6h-1.6zM127 129.5h1.6v1.6h-1.6zM163.3 129.2h1.6v1.6h-1.6zM134.9 125.2h1.6v1.6h-1.6zM117.2 124.2h1.6v1.6h-1.6zM119.6 127.2h1.6v1.6h-1.6zM107.7 126.7h1.6v1.6h-1.6zM112.9 133.8h1.6v1.6h-1.6zM91.6 129.8h1.6v1.6h-1.6zM114.2 129.1h1.6v1.6h-1.6zM93.5 124.6h1.6v1.6h-1.6zM126.1 131.8h1.6v1.6h-1.6zM144 134.6h1.6v1.6h-1.6zM89.5 138.1h1.6v1.6h-1.6zM153.2 133.5h1.6v1.6h-1.6zM122.8 132.9h1.6v1.6h-1.6zM86.7 130.1h1.6v1.6h-1.6zM137 133.1h1.6v1.6h-1.6zM126.9 131.3h1.6v1.6h-1.6zM114.1 127.8h1.6v1.6h-1.6zM91.7 125h1.6v1.6h-1.6zM109.7 126.4h1.6v1.6h-1.6zM99.1 133.6h1.6v1.6h-1.6zM151.2 126.9h1.6v1.6h-1.6zM132.3 130.6h1.6v1.6h-1.6zM152.1 128.8h1.6v1.6h-1.6zM99.2 133.4h1.6v1.6h-1.6zM95.9 136.5h1.6v1.6h-1.6zM102 134.5h1.6v1.6h-1.6zM100.3 128.9h1.6v1.6h-1.6zM124 135.2h1.6v1.6h-1.6zM158.8 132.9h1.6v1.6h-1.6zM94.6 140.3h1.6v1.6h-1.6zM112.9 137.3h1.6v1.6h-1.6zM106.8 136.8h1.6v1.6h-1.6zM122.2 146.8h1.6v1.6h-1.6zM90.6 137.3h1.6v1.6h-1.6zM88.9 142.6h1.6v1.6h-1.6zM114.6 150.4h1.6v1.6h-1.6zM118.1 142.6h1.6v1.6h-1.6zM122 147.2h1.6v1.6h-1.6zM118.2 143.9h1.6v1.6h-1.6zM89.1 139.1h1.6v1.6h-1.6zM115.7 137.3h1.6v1.6h-1.6zM86.5 145.1h1.6v1.6h-1.6zM123.3 153.4h1.6v1.6h-1.6zM106.5 149.4h1.6v1.6h-1.6zM99 138.7h1.6v1.6h-1.6zM110 142.8h1.6v1.6h-1.6zM91.1 152.4h1.6v1.6h-1.6zM121.4 147.1h1.6v1.6h-1.6zM121.8 142.3h1.6v1.6h-1.6zM88.5 143.3h1.6v1.6h-1.6zM120.8 149.6h1.6v1.6h-1.6zM111.2 136.5h1.6v1.6h-1.6zM91.4 145.5h1.6v1.6h-1.6zM103.6 148.8h1.6v1.6h-1.6zM99.1 148.4h1.6v1.6h-1.6zM118.4 151.1h1.6v1.6h-1.6zM100.7 140.1h1.6v1.6h-1.6zM120.2 145.8h1.6v1.6h-1.6zM107 137h1.6v1.6h-1.6zM87.5 141h1.6v1.6h-1.6zM107.9 142h1.6v1.6h-1.6zM97.5 139.5h1.6v1.6h-1.6zM113.9 144.4h1.6v1.6h-1.6zM111.5 144.5h1.6v1.6h-1.6zM119.9 140h1.6v1.6h-1.6z"/>
<path fill="#70ea60" d="M100.9 116.4h1.8v1.8h-1.8zM153.7 121.8h1.8v1.8h-1.8zM97 108.6h1.8v1.8h-1.8zM106.5 114.8h1.8v1.8h-1.8zM137.7 119.1h1.8v1.8h-1.8zM146.3 122.7h1.8v1.8h-1.8zM91.7 103.8h1.8v1.8h-1.8zM114.3 120.3h1.8v1.8h-1.8zM89 110.5h1.8v1.8h-1.8zM99.8 111.3h1.8v1.8h-1.8zM129.2 111.3h1.8v1.8h-1.8zM152.2 124.5h1.8v1.8h-1.8zM139.3 114.3h1.8v1.8h-1.8zM87.3 113h1.8v1.8h-1.8zM164.6 124.1h1.8v1.8h-1.8zM112.4 111.5h1.8v1.8h-1.8zM110.7 121.6h1.8v1.8h-1.8zM93.5 122.4h1.8v1.8h-1.8zM85.6 122.2h1.6v1.6h-1.6zM90.9 119.9h1.6v1.6h-1.6zM95 120.1h1.6v1.6h-1.6zM87.4 124.1h1.6v1.6h-1.6zM108.1 118.4h1.6v1.6h-1.6zM89.1 124.7h1.6v1.6h-1.6zM102.8 121.9h1.6v1.6h-1.6zM98.8 123.6h1.6v1.6h-1.6zM89.8 126.6h1.6v1.6h-1.6zM92.8 117.2h1.6v1.6h-1.6zM100.8 121.6h1.6v1.6h-1.6zM90.6 119.7h1.6v1.6h-1.6zM108.7 118.8h1.6v1.6h-1.6zM105.2 123.6h1.6v1.6h-1.6zM109.7 124.7h1.6v1.6h-1.6zM111 125.3h1.6v1.6h-1.6zM100.1 126.2h1.6v1.6h-1.6zM106.5 126.9h1.6v1.6h-1.6zM163 153.7h1.6v1.6h-1.6zM146.2 150.9h1.6v1.6h-1.6zM155.2 140.2h1.6v1.6h-1.6zM144.5 137.6h1.6v1.6h-1.6zM127.7 142.2h1.6v1.6h-1.6zM128.8 144h1.6v1.6h-1.6zM139.4 141.4h1.6v1.6h-1.6zM125 149.4h1.6v1.6h-1.6z"/>
<path fill="#8ce81c" d="M84.6 136.3h1.6v1.6h-1.6zM105.5 141.4h1.6v1.6h-1.6zM107.3 153.6h1.6v1.6h-1.6zM109.5 145.9h1.6v1.6h-1.6zM104.9 152.8h1.6v1.6h-1.6zM99.5 147h1.6v1.6h-1.6zM106.6 147h1.6v1.6h-1.6zM102.9 145.9h1.6v1.6h-1.6zM103.5 154.1h1.6v1.6h-1.6zM94.1 150.4h1.6v1.6h-1.6zM102.8 144.2h1.6v1.6h-1.6zM115.2 148.6h1.6v1.6h-1.6zM125.2 140.5h1.6v1.6h-1.6zM107.1 149.3h1.6v1.6h-1.6zM118.5 146.5h1.6v1.6h-1.6zM120.3 151.9h1.6v1.6h-1.6zM108.8 144.5h1.6v1.6h-1.6zM117.4 146h1.6v1.6h-1.6zM118.9 143.7h1.6v1.6h-1.6z"/>
<path fill="#ffffff" d="M29.6 121.5h1.6v1.6h-1.6zM36.6 123.7h1.6v1.6h-1.6zM51.4 121.9h1.6v1.6h-1.6zM42.9 118.2h1.6v1.6h-1.6zM35.3 125.8h1.6v1.6h-1.6zM42 117.4h1.6v1.6h-1.6zM38.9 125.1h1.6v1.6h-1.6zM33.7 118.1h1.6v1.6h-1.6zM43.1 121h1.6v1.6h-1.6zM46.6 116.9h1.6v1.6h-1.6zM37.5 119.5h1.6v1.6h-1.6zM28.8 120.4h1.6v1.6h-1.6zM33.6 117.9h1.6v1.6h-1.6zM34.9 126.3h1.6v1.6h-1.6zM47.8 118.9h1.6v1.6h-1.6zM28.9 119.2h1.6v1.6h-1.6zM33.9 117.8h1.6v1.6h-1.6zM44.3 118.7h1.6v1.6h-1.6zM39.4 126h1.6v1.6h-1.6zM39.3 117.6h1.6v1.6h-1.6zM49.6 137.7h1.1v1.1h-1.1zM50.2 145.8h1.1v1.1h-1.1zM34 138h1.1v1.1h-1.1zM50.2 130.5h1.1v1.1h-1.1zM37.9 146.8h1.1v1.1h-1.1zM44.4 133.2h1.1v1.1h-1.1zM50.9 129.2h1.1v1.1h-1.1zM42.5 136.7h1.1v1.1h-1.1zM42.2 131.9h1.1v1.1h-1.1zM30.1 126.6h1.1v1.1h-1.1zM42.5 140.4h1.1v1.1h-1.1zM34.1 139.9h1.1v1.1h-1.1zM37.6 146.4h1.1v1.1h-1.1zM37.3 127.1h1.1v1.1h-1.1zM51.4 144.9h1.1v1.1h-1.1zM43.5 142.3h1.1v1.1h-1.1zM45.5 129.8h1.1v1.1h-1.1zM32.5 135h1.1v1.1h-1.1zM30.4 130.4h1.3v1.3h-1.3zM28.6 131.9h1.3v1.3h-1.3zM31 127.4h1.3v1.3h-1.3zM29 137h1.3v1.3h-1.3zM28.7 150.6h1.6v1.6h-1.6zM34.4 146.2h1.6v1.6h-1.6zM42.7 151.7h1.6v1.6h-1.6zM32.4 149.7h1.6v1.6h-1.6zM42.8 148.8h1.6v1.6h-1.6zM35.8 148.8h1.6v1.6h-1.6zM44.8 151.8h1.6v1.6h-1.6zM49.8 149h1.6v1.6h-1.6zM36.6 153.2h1.6v1.6h-1.6zM50.9 151.7h1.6v1.6h-1.6zM44.5 148h1.6v1.6h-1.6zM44.8 148.1h1.6v1.6h-1.6zM44.1 148.4h1.6v1.6h-1.6zM29.8 152.7h1.6v1.6h-1.6zM29.3 148.5h1.6v1.6h-1.6zM42 150.2h1.6v1.6h-1.6zM33.2 148.2h1.6v1.6h-1.6zM37.9 147.8h1.6v1.6h-1.6zM49.1 149h1.6v1.6h-1.6zM40.1 150.4h1.6v1.6h-1.6zM36.8 146.7h1.6v1.6h-1.6zM33.4 146.2h1.6v1.6h-1.6zM36.9 152.9h1.6v1.6h-1.6zM39.6 154.4h1.6v1.6h-1.6zM48.9 150.8h1.6v1.6h-1.6zM30.6 153.9h1.6v1.6h-1.6zM36.1 146.3h1.6v1.6h-1.6zM34.4 149.6h1.6v1.6h-1.6zM38.5 153.3h1.6v1.6h-1.6zM44.3 148.2h1.6v1.6h-1.6zM40.3 149h1.6v1.6h-1.6zM35.7 149.9h1.6v1.6h-1.6zM36.5 146.1h1.6v1.6h-1.6zM33.6 146.8h1.6v1.6h-1.6zM36.5 148.1h1.6v1.6h-1.6zM43.7 149.9h1.6v1.6h-1.6zM47.9 146.2h1.6v1.6h-1.6zM34.1 152.3h1.6v1.6h-1.6zM37.6 154.3h1.6v1.6h-1.6zM51.1 146.5h1.6v1.6h-1.6zM31.9 151h1.6v1.6h-1.6zM30.1 148.4h1.6v1.6h-1.6zM41.1 150.4h1.6v1.6h-1.6zM50.7 146.7h1.6v1.6h-1.6zM29 146h1.6v1.6h-1.6zM44 146.6h1.6v1.6h-1.6zM34.5 148.1h1.6v1.6h-1.6zM29.3 150.9h1.6v1.6h-1.6zM39.2 148.8h1.6v1.6h-1.6zM41.1 148.3h1.6v1.6h-1.6zM30.6 147.7h1.6v1.6h-1.6zM45 148.4h1.6v1.6h-1.6zM76.7 116.5h1.6v1.6h-1.6zM57.3 112h1.6v1.6h-1.6zM77.9 119.5h1.6v1.6h-1.6zM55 119.5h1.6v1.6h-1.6zM68.9 118.1h1.6v1.6h-1.6zM63.4 110.1h1.6v1.6h-1.6zM62.4 107.6h1.6v1.6h-1.6zM78.2 109.1h1.6v1.6h-1.6zM81.8 118.2h1.6v1.6h-1.6zM56.5 110.7h1.6v1.6h-1.6zM64.6 119.3h1.6v1.6h-1.6zM57.7 118.7h1.6v1.6h-1.6zM81.9 117.4h1.6v1.6h-1.6zM56.9 105.3h1.6v1.6h-1.6zM63.1 120.7h1.6v1.6h-1.6zM52.5 105.4h1.6v1.6h-1.6zM72.4 109.2h1.6v1.6h-1.6zM78 116.6h1.6v1.6h-1.6zM70.4 120.1h1.6v1.6h-1.6zM65.9 117.9h1.6v1.6h-1.6zM57.5 106.1h1.6v1.6h-1.6zM78.8 108.8h1.6v1.6h-1.6zM59.1 116.4h1.6v1.6h-1.6zM61.5 105.6h1.6v1.6h-1.6zM61.7 119h1.6v1.6h-1.6zM69.7 112.8h1.6v1.6h-1.6zM74.3 119.3h1.6v1.6h-1.6zM75.2 118h1.6v1.6h-1.6zM81.2 110h1.6v1.6h-1.6zM74.4 118.6h1.6v1.6h-1.6zM67.2 138.6h1.1v1.1h-1.1zM79.7 141.6h1.1v1.1h-1.1zM56.8 141.7h1.1v1.1h-1.1zM61 150.4h1.1v1.1h-1.1zM81.4 140.3h1.1v1.1h-1.1zM78.8 123.4h1.1v1.1h-1.1zM81.1 135.7h1.1v1.1h-1.1zM68.7 148.6h1.1v1.1h-1.1zM73.6 124h1.1v1.1h-1.1zM81.9 121.6h1.1v1.1h-1.1zM73.1 121.6h1.1v1.1h-1.1zM54.8 122.2h1.1v1.1h-1.1zM57 125.1h1.1v1.1h-1.1zM52.1 143.9h1.1v1.1h-1.1zM55.6 138.6h1.1v1.1h-1.1zM52.9 142.7h1.1v1.1h-1.1zM64.3 137.3h1.1v1.1h-1.1zM71.7 131h1.1v1.1h-1.1zM79.6 144.4h1.1v1.1h-1.1zM65.1 125.3h1.1v1.1h-1.1zM57.1 131.2h1.1v1.1h-1.1zM81.1 132.9h1.1v1.1h-1.1zM81.3 141.1h1.1v1.1h-1.1zM83.3 143.6h1.1v1.1h-1.1zM52.8 137.6h1.1v1.1h-1.1zM70.9 138.8h1.1v1.1h-1.1zM72.2 128.7h1.1v1.1h-1.1zM69.1 138.4h1.1v1.1h-1.1zM58 146.1h1.1v1.1h-1.1zM81.5 133.6h1.1v1.1h-1.1zM69.2 143.3h1.1v1.1h-1.1zM53.2 135.7h1.1v1.1h-1.1zM63.1 135.9h1.1v1.1h-1.1zM75.3 138.8h1.1v1.1h-1.1zM58.5 124.3h1.1v1.1h-1.1zM76.8 126.7h1.1v1.1h-1.1zM58.7 125.4h1.1v1.1h-1.1zM65.8 136.6h1.1v1.1h-1.1zM61.4 140.7h1.1v1.1h-1.1zM56.1 141.9h1.1v1.1h-1.1zM80.3 126.5h1.1v1.1h-1.1zM62.9 130.3h1.1v1.1h-1.1zM76 124.5h1.1v1.1h-1.1zM80.5 140.3h1.1v1.1h-1.1zM61 133h1.1v1.1h-1.1zM52.2 128.5h1.1v1.1h-1.1zM68.8 127h1.1v1.1h-1.1zM59.5 149.4h1.1v1.1h-1.1zM80 134.9h1.1v1.1h-1.1zM57.3 150.7h1.1v1.1h-1.1zM75.1 130h1.1v1.1h-1.1zM52.8 126.7h1.1v1.1h-1.1zM60.7 142.2h1.1v1.1h-1.1zM58.3 148.3h1.1v1.1h-1.1zM79.3 125.1h1.1v1.1h-1.1zM71.2 146.7h1.1v1.1h-1.1zM73.1 138.2h1.1v1.1h-1.1zM54.6 148h1.1v1.1h-1.1zM61.9 149.3h1.1v1.1h-1.1zM80.6 133.2h1.1v1.1h-1.1zM71.6 149.2h1.1v1.1h-1.1zM76.2 125.6h1.1v1.1h-1.1zM68.1 133.8h1.1v1.1h-1.1zM58.6 133.7h1.1v1.1h-1.1zM81.2 127.6h1.1v1.1h-1.1zM60.4 135h1.1v1.1h-1.1zM57.4 143.3h1.1v1.1h-1.1zM72.8 123.4h1.1v1.1h-1.1zM54.8 134.9h1.1v1.1h-1.1zM76.5 136.3h1.1v1.1h-1.1zM74.8 126.1h1.1v1.1h-1.1zM64.3 139.9h1.1v1.1h-1.1zM68.5 127.8h1.1v1.1h-1.1zM67.6 137.7h1.1v1.1h-1.1zM54.4 137.7h1.1v1.1h-1.1zM54.5 143.2h1.1v1.1h-1.1zM63.3 149h1.1v1.1h-1.1zM52.2 148.7h1.1v1.1h-1.1zM57.9 135.6h1.1v1.1h-1.1zM63.7 128.1h1.1v1.1h-1.1zM77.9 152.9h1.6v1.6h-1.6zM73.7 150.4h1.6v1.6h-1.6zM78.1 149.6h1.6v1.6h-1.6zM57.5 151.1h1.6v1.6h-1.6zM78.4 151.2h1.6v1.6h-1.6zM76.2 154.2h1.6v1.6h-1.6zM70.6 153.8h1.6v1.6h-1.6zM70.4 154.2h1.6v1.6h-1.6zM64.3 151.7h1.6v1.6h-1.6zM83 152h1.6v1.6h-1.6zM59.7 149.3h1.6v1.6h-1.6zM69.9 149.1h1.6v1.6h-1.6zM81.5 149.1h1.6v1.6h-1.6zM78.3 152.7h1.6v1.6h-1.6zM78.7 151.3h1.6v1.6h-1.6zM74.5 149.8h1.6v1.6h-1.6zM83.1 151.9h1.6v1.6h-1.6zM72.1 152.6h1.6v1.6h-1.6zM76.6 152.3h1.6v1.6h-1.6zM65.5 153.2h1.6v1.6h-1.6zM58.6 152.5h1.6v1.6h-1.6zM79.8 149.6h1.6v1.6h-1.6zM58.6 153.1h1.6v1.6h-1.6zM65.3 152h1.6v1.6h-1.6zM55.9 151.8h1.6v1.6h-1.6zM56.5 151.7h1.6v1.6h-1.6zM70.9 149.7h1.6v1.6h-1.6zM55.6 149.9h1.6v1.6h-1.6zM76.1 153.3h1.6v1.6h-1.6zM82.6 152.5h1.6v1.6h-1.6zM111 125.2h1.6v1.6h-1.6zM141 127h1.6v1.6h-1.6zM98.5 131.9h1.6v1.6h-1.6zM98.9 125.5h1.6v1.6h-1.6zM113 137h1.6v1.6h-1.6zM96.4 138.3h1.6v1.6h-1.6zM112.9 129.7h1.6v1.6h-1.6zM142.6 127.9h1.6v1.6h-1.6zM115.3 126h1.6v1.6h-1.6zM110.3 128.9h1.6v1.6h-1.6zM139.1 130.3h1.6v1.6h-1.6zM157.3 129.6h1.6v1.6h-1.6zM104.4 137.5h1.6v1.6h-1.6zM123.2 129.6h1.6v1.6h-1.6zM89.1 129.3h1.6v1.6h-1.6zM103.4 131h1.6v1.6h-1.6zM95.8 124.1h1.6v1.6h-1.6zM93.7 138.2h1.6v1.6h-1.6zM95.1 124.4h1.6v1.6h-1.6zM144.2 130.6h1.6v1.6h-1.6zM139 134.5h1.6v1.6h-1.6zM109.7 136.9h1.6v1.6h-1.6zM85.4 126h1.6v1.6h-1.6zM117.1 133.4h1.6v1.6h-1.6zM147 128.9h1.6v1.6h-1.6zM85.3 131.7h1.6v1.6h-1.6zM91.9 132.2h1.6v1.6h-1.6zM89.9 124h1.6v1.6h-1.6zM131 134.7h1.6v1.6h-1.6zM124.8 132.8h1.6v1.6h-1.6zM124.5 126.3h1.6v1.6h-1.6zM114.2 127.1h1.6v1.6h-1.6zM84.4 140.4h1.6v1.6h-1.6zM123.5 137.7h1.6v1.6h-1.6zM93.6 145.9h1.6v1.6h-1.6zM108.5 137.9h1.6v1.6h-1.6zM113.5 151h1.6v1.6h-1.6zM113.4 139.1h1.6v1.6h-1.6zM92.7 149.3h1.6v1.6h-1.6zM123 147.9h1.6v1.6h-1.6zM111.8 147.1h1.6v1.6h-1.6zM108.8 152.9h1.6v1.6h-1.6zM90.3 138.9h1.6v1.6h-1.6zM89.9 139h1.6v1.6h-1.6zM86 138.1h1.6v1.6h-1.6zM103.1 135.8h1.6v1.6h-1.6zM119.9 146.8h1.6v1.6h-1.6zM92.5 151.4h1.6v1.6h-1.6zM95.3 148.1h1.6v1.6h-1.6zM113.6 146.5h1.6v1.6h-1.6zM112.4 147.5h1.6v1.6h-1.6zM116.8 144.6h1.6v1.6h-1.6zM89.8 152.8h1.6v1.6h-1.6zM100.6 140.7h1.6v1.6h-1.6zM85.9 137.8h1.6v1.6h-1.6zM100.3 149.2h1.6v1.6h-1.6zM98.3 136.4h1.6v1.6h-1.6zM104.7 136.9h1.6v1.6h-1.6zM89 152.9h1.6v1.6h-1.6zM119.4 139.8h1.6v1.6h-1.6zM84.6 139.9h1.6v1.6h-1.6zM96.8 145.3h1.6v1.6h-1.6zM120 150.6h1.6v1.6h-1.6zM107.1 138.4h1.6v1.6h-1.6zM84.5 144.1h1.6v1.6h-1.6zM122.5 147.7h1.6v1.6h-1.6zM85.3 153h1.6v1.6h-1.6zM116.4 145.5h1.6v1.6h-1.6zM111.2 142.7h1.6v1.6h-1.6zM114.4 136.2h1.6v1.6h-1.6zM106.1 148.9h1.6v1.6h-1.6zM113.1 150.9h1.6v1.6h-1.6zM87.7 137.3h1.6v1.6h-1.6zM101.4 136.9h1.6v1.6h-1.6zM147.3 152.7h1.6v1.6h-1.6zM141.1 151.4h1.6v1.6h-1.6zM131.5 146.2h1.6v1.6h-1.6zM144.1 146.7h1.6v1.6h-1.6zM126.1 145.5h1.6v1.6h-1.6zM130.4 151.3h1.6v1.6h-1.6zM129.4 150.3h1.6v1.6h-1.6zM147.4 152.2h1.6v1.6h-1.6zM125.4 150.7h1.6v1.6h-1.6z"/>
<line x1="83.6" y1="156.2" x2="83.6" y2="39.8" stroke="#ff0a0a" stroke-width="1.55"/>
<polygon points="83.6,33.8 88.2,40.8 79,40.8" fill="#ff0a0a"/>
<line x1="83.6" y1="148.3" x2="34.3" y2="148.3" stroke="#ff0a0a" stroke-width="1.55"/>
<polygon points="28.3,148.3 35.3,143.9 35.3,152.7" fill="#ff0a0a"/>
<text x="31.7" y="53.53" font-size="8.1" fill="#000" text-anchor="start" font-family="'Liberation Serif', 'Times New Roman', serif" textLength="31.6" lengthAdjust="spacingAndGlyphs">Reservoir</text>
<text x="108.7" y="54.03" font-size="8.1" fill="#000" text-anchor="start" font-family="'Liberation Serif', 'Times New Roman', serif" textLength="47.9" lengthAdjust="spacingAndGlyphs">Non-Reservoir</text>
<text x="85.6" y="80.16" font-size="6.2" fill="#000" text-anchor="start" font-family="'Liberation Serif', 'Times New Roman', serif" textLength="39.4" lengthAdjust="spacingAndGlyphs">Vsh-cutoff 40%</text>
<text x="89.5" y="134.62" font-size="6.4" fill="#000" text-anchor="start" font-family="'Liberation Serif', 'Times New Roman', serif" textLength="33.8" lengthAdjust="spacingAndGlyphs">&#934;-cutoff 3%</text>
<rect x="28.2" y="33.6" width="140" height="122.6" fill="none" stroke="#b4b4b4" stroke-width="0.8"/>
<rect x="191" y="5.5" width="170" height="234.5" fill="#e5f2fd" stroke="#adb6c0" stroke-width="1"/>
<text x="275.5" y="15.09" font-size="5.80" fill="#202020" text-anchor="middle" font-family="'Liberation Sans', Arial, sans-serif" textLength="48.5" lengthAdjust="spacingAndGlyphs" stroke="#202020" stroke-width="0.04">Multi-Well Analysis</text>
<text x="275.5" y="21.9" font-size="4.3" fill="#2c2ca0" text-anchor="middle" font-family="'Liberation Sans', Arial, sans-serif" textLength="25.8" lengthAdjust="spacingAndGlyphs"><tspan font-weight="bold">&#966;eff</tspan> / SwArch</text>
<text x="220.1" y="27.83" font-size="3.70" fill="#383838" text-anchor="start" font-family="'Liberation Sans', Arial, sans-serif" textLength="22.3" lengthAdjust="spacingAndGlyphs" stroke="#383838" stroke-width="0.06">Active Zones</text>
<text x="245.3" y="27.83" font-size="3.70" fill="#383838" text-anchor="start" font-family="'Liberation Sans', Arial, sans-serif" stroke="#383838" stroke-width="0.06">:</text>
<text x="248.1" y="27.83" font-size="3.70" fill="#383838" text-anchor="start" font-family="'Liberation Sans', Arial, sans-serif" stroke="#383838" stroke-width="0.06" textLength="13" lengthAdjust="spacing">W1Z1</text>
<text x="264.7" y="27.83" font-size="3.70" fill="#383838" text-anchor="start" font-family="'Liberation Sans', Arial, sans-serif" stroke="#383838" stroke-width="0.06" textLength="13" lengthAdjust="spacing">W2Z1</text>
<text x="281.3" y="27.83" font-size="3.70" fill="#383838" text-anchor="start" font-family="'Liberation Sans', Arial, sans-serif" stroke="#383838" stroke-width="0.06" textLength="13" lengthAdjust="spacing">W3Z1</text>
<text x="297.9" y="27.83" font-size="3.70" fill="#383838" text-anchor="start" font-family="'Liberation Sans', Arial, sans-serif" stroke="#383838" stroke-width="0.06" textLength="13" lengthAdjust="spacing">W4Z1</text>
<text x="314.5" y="27.83" font-size="3.70" fill="#383838" text-anchor="start" font-family="'Liberation Sans', Arial, sans-serif" stroke="#383838" stroke-width="0.06" textLength="13" lengthAdjust="spacing">W5Z1</text>
<rect x="209.5" y="34" width="145" height="121.5" fill="#ffffff"/>
<line x1="209.5" y1="34" x2="209.5" y2="155.5" stroke="#e7e7e7" stroke-width="0.8"/>
<line x1="238.5" y1="34" x2="238.5" y2="155.5" stroke="#e7e7e7" stroke-width="0.8"/>
<line x1="267.5" y1="34" x2="267.5" y2="155.5" stroke="#e7e7e7" stroke-width="0.8"/>
<line x1="296.5" y1="34" x2="296.5" y2="155.5" stroke="#e7e7e7" stroke-width="0.8"/>
<line x1="325.5" y1="34" x2="325.5" y2="155.5" stroke="#e7e7e7" stroke-width="0.8"/>
<line x1="354.5" y1="34" x2="354.5" y2="155.5" stroke="#e7e7e7" stroke-width="0.8"/>
<line x1="209.5" y1="155.5" x2="354.5" y2="155.5" stroke="#e7e7e7" stroke-width="0.8"/>
<line x1="209.5" y1="131.2" x2="354.5" y2="131.2" stroke="#e7e7e7" stroke-width="0.8"/>
<line x1="209.5" y1="106.9" x2="354.5" y2="106.9" stroke="#e7e7e7" stroke-width="0.8"/>
<line x1="209.5" y1="82.6" x2="354.5" y2="82.6" stroke="#e7e7e7" stroke-width="0.8"/>
<line x1="209.5" y1="58.3" x2="354.5" y2="58.3" stroke="#e7e7e7" stroke-width="0.8"/>
<line x1="209.5" y1="34" x2="354.5" y2="34" stroke="#e7e7e7" stroke-width="0.8"/>
<text x="209.5" y="161.45" font-size="4.30" fill="#303030" text-anchor="middle" font-family="'Liberation Sans', Arial, sans-serif" stroke="#303030" stroke-width="0.05">0.02</text>
<text x="238.5" y="161.45" font-size="4.30" fill="#303030" text-anchor="middle" font-family="'Liberation Sans', Arial, sans-serif" stroke="#303030" stroke-width="0.05">0.216</text>
<text x="267.5" y="161.45" font-size="4.30" fill="#303030" text-anchor="middle" font-family="'Liberation Sans', Arial, sans-serif" stroke="#303030" stroke-width="0.05">0.412</text>
<text x="296.5" y="161.45" font-size="4.30" fill="#303030" text-anchor="middle" font-family="'Liberation Sans', Arial, sans-serif" stroke="#303030" stroke-width="0.05">0.608</text>
<text x="325.5" y="161.45" font-size="4.30" fill="#303030" text-anchor="middle" font-family="'Liberation Sans', Arial, sans-serif" stroke="#303030" stroke-width="0.05">0.804</text>
<text x="354.5" y="161.45" font-size="4.30" fill="#303030" text-anchor="middle" font-family="'Liberation Sans', Arial, sans-serif" stroke="#303030" stroke-width="0.05">1</text>
<text x="206.9" y="156.75" font-size="4.30" fill="#303030" text-anchor="end" font-family="'Liberation Sans', Arial, sans-serif" stroke="#303030" stroke-width="0.05">0</text>
<text x="206.9" y="132.45" font-size="4.30" fill="#303030" text-anchor="end" font-family="'Liberation Sans', Arial, sans-serif" stroke="#303030" stroke-width="0.05">0.2</text>
<text x="206.9" y="108.15" font-size="4.30" fill="#303030" text-anchor="end" font-family="'Liberation Sans', Arial, sans-serif" stroke="#303030" stroke-width="0.05">0.4</text>
<text x="206.9" y="83.85" font-size="4.30" fill="#303030" text-anchor="end" font-family="'Liberation Sans', Arial, sans-serif" stroke="#303030" stroke-width="0.05">0.6</text>
<text x="206.9" y="59.55" font-size="4.30" fill="#303030" text-anchor="end" font-family="'Liberation Sans', Arial, sans-serif" stroke="#303030" stroke-width="0.05">0.8</text>
<text x="206.9" y="35.25" font-size="4.30" fill="#303030" text-anchor="end" font-family="'Liberation Sans', Arial, sans-serif" stroke="#303030" stroke-width="0.05">1</text>
<text transform="translate(196.4 94.9) rotate(-90)" x="0" y="0" font-size="4.6" fill="#2c2ca0" stroke="#2c2ca0" stroke-width="0.1" text-anchor="middle" font-family="'Liberation Sans', Arial, sans-serif" textLength="25.7" lengthAdjust="spacingAndGlyphs">SwArch - dec</text>
<text x="282" y="166.86" font-size="4.60" fill="#2c2ca0" text-anchor="middle" font-family="'Liberation Sans', Arial, sans-serif" textLength="23.6" lengthAdjust="spacingAndGlyphs" stroke="#2c2ca0" stroke-width="0.1"><tspan font-weight="bold">&#966;eff</tspan> - gm/cc</text>
<text x="274.6" y="172.47" font-size="3.80" fill="#3a3a3a" text-anchor="middle" font-family="'Liberation Sans', Arial, sans-serif" textLength="87.4" lengthAdjust="spacingAndGlyphs" stroke="#3a3a3a" stroke-width="0.03">4325 points plotted out of 4829 (414 outliers, 90 nulls)</text>
<rect x="197.7" y="176.1" width="15.49" height="4.2" fill="#0a14dc" stroke="#000050" stroke-opacity="0.3" stroke-width="0.45"/>
<text x="205.4" y="184.51" font-size="3.35" fill="#282828" text-anchor="middle" font-family="'Liberation Sans', Arial, sans-serif" stroke="#282828" stroke-width="0.1">0 - 15</text>
<rect x="213.4" y="176.1" width="15.49" height="4.2" fill="#1478ee" stroke="#000050" stroke-opacity="0.3" stroke-width="0.45"/>
<text x="221.1" y="184.51" font-size="3.35" fill="#282828" text-anchor="middle" font-family="'Liberation Sans', Arial, sans-serif" stroke="#282828" stroke-width="0.1">15 - 30</text>
<rect x="229.1" y="176.1" width="15.49" height="4.2" fill="#14e0f2" stroke="#000050" stroke-opacity="0.3" stroke-width="0.45"/>
<text x="236.8" y="184.51" font-size="3.35" fill="#282828" text-anchor="middle" font-family="'Liberation Sans', Arial, sans-serif" stroke="#282828" stroke-width="0.1">30 - 45</text>
<rect x="244.8" y="176.1" width="15.49" height="4.2" fill="#14eea4" stroke="#000050" stroke-opacity="0.3" stroke-width="0.45"/>
<text x="252.5" y="184.51" font-size="3.35" fill="#282828" text-anchor="middle" font-family="'Liberation Sans', Arial, sans-serif" stroke="#282828" stroke-width="0.1">45 - 60</text>
<rect x="260.5" y="176.1" width="15.49" height="4.2" fill="#10e010" stroke="#000050" stroke-opacity="0.3" stroke-width="0.45"/>
<text x="268.2" y="184.51" font-size="3.35" fill="#282828" text-anchor="middle" font-family="'Liberation Sans', Arial, sans-serif" stroke="#282828" stroke-width="0.1">60 - 75</text>
<rect x="276.2" y="176.1" width="15.49" height="4.2" fill="#30dc20" stroke="#000050" stroke-opacity="0.3" stroke-width="0.45"/>
<text x="283.9" y="184.51" font-size="3.35" fill="#282828" text-anchor="middle" font-family="'Liberation Sans', Arial, sans-serif" stroke="#282828" stroke-width="0.1">75 - 90</text>
<rect x="291.8" y="176.1" width="15.49" height="4.2" fill="#8ce81c" stroke="#000050" stroke-opacity="0.3" stroke-width="0.45"/>
<text x="299.6" y="184.51" font-size="3.35" fill="#282828" text-anchor="middle" font-family="'Liberation Sans', Arial, sans-serif" stroke="#282828" stroke-width="0.1">90 - 105</text>
<rect x="307.5" y="176.1" width="15.49" height="4.2" fill="#ffe800" stroke="#000050" stroke-opacity="0.3" stroke-width="0.45"/>
<text x="315.3" y="184.51" font-size="3.35" fill="#282828" text-anchor="middle" font-family="'Liberation Sans', Arial, sans-serif" stroke="#282828" stroke-width="0.1">105 - 120</text>
<rect x="323.2" y="176.1" width="15.49" height="4.2" fill="#ff8000" stroke="#000050" stroke-opacity="0.3" stroke-width="0.45"/>
<text x="331" y="184.51" font-size="3.35" fill="#282828" text-anchor="middle" font-family="'Liberation Sans', Arial, sans-serif" stroke="#282828" stroke-width="0.1">120 - 135</text>
<rect x="338.9" y="176.1" width="15.49" height="4.2" fill="#ff1010" stroke="#000050" stroke-opacity="0.3" stroke-width="0.45"/>
<text x="346.7" y="184.51" font-size="3.35" fill="#282828" text-anchor="middle" font-family="'Liberation Sans', Arial, sans-serif" stroke="#282828" stroke-width="0.1">135 - 150</text>
<text x="275.5" y="189.32" font-size="4.50" fill="#2c2ca0" text-anchor="middle" font-family="'Liberation Sans', Arial, sans-serif" textLength="20.4" lengthAdjust="spacingAndGlyphs" stroke="#2c2ca0" stroke-width="0.1">GR - GAPI</text>
<text x="203.7" y="200.36" font-size="3.50" fill="#3a3a3a" text-anchor="start" font-family="'Liberation Sans', Arial, sans-serif" stroke="#3a3a3a" stroke-width="0.04">Well</text>
<text x="243" y="200.36" font-size="3.50" fill="#3a3a3a" text-anchor="start" font-family="'Liberation Sans', Arial, sans-serif" stroke="#3a3a3a" stroke-width="0.04">Zone</text>
<text x="281.3" y="200.36" font-size="3.50" fill="#3a3a3a" text-anchor="start" font-family="'Liberation Sans', Arial, sans-serif" stroke="#3a3a3a" stroke-width="0.04">Depths</text>
<text x="320.5" y="200.36" font-size="3.50" fill="#3a3a3a" text-anchor="start" font-family="'Liberation Sans', Arial, sans-serif" stroke="#3a3a3a" stroke-width="0.04">Discriminators</text>
<text x="203.7" y="205.26" font-size="3.50" fill="#3a3a3a" text-anchor="start" font-family="'Liberation Sans', Arial, sans-serif" textLength="28.2" lengthAdjust="spacingAndGlyphs" stroke="#3a3a3a" stroke-width="0.04">(1) QAC00PUR-03</text>
<text x="243" y="205.26" font-size="3.50" fill="#3a3a3a" text-anchor="start" font-family="'Liberation Sans', Arial, sans-serif" textLength="29.5" lengthAdjust="spacingAndGlyphs" stroke="#3a3a3a" stroke-width="0.04">(1) Reservoir zone</text>
<text x="281.3" y="205.26" font-size="3.50" fill="#3a3a3a" text-anchor="start" font-family="'Liberation Sans', Arial, sans-serif" stroke="#3a3a3a" stroke-width="0.04">1010 M - 1220 M</text>
<text x="320.5" y="205.26" font-size="3.50" fill="#3a3a3a" text-anchor="start" font-family="'Liberation Sans', Arial, sans-serif" stroke="#3a3a3a" stroke-width="0.04">None</text>
<circle cx="199.6" cy="204" r="0.9" fill="#3ad8e8"/>
<text x="203.7" y="210.21" font-size="3.50" fill="#3a3a3a" text-anchor="start" font-family="'Liberation Sans', Arial, sans-serif" textLength="28.2" lengthAdjust="spacingAndGlyphs" stroke="#3a3a3a" stroke-width="0.04">(2) QAC00PUR-11</text>
<text x="243" y="210.21" font-size="3.50" fill="#3a3a3a" text-anchor="start" font-family="'Liberation Sans', Arial, sans-serif" textLength="29.5" lengthAdjust="spacingAndGlyphs" stroke="#3a3a3a" stroke-width="0.04">(1) Reservoir zone</text>
<text x="281.3" y="210.21" font-size="3.50" fill="#3a3a3a" text-anchor="start" font-family="'Liberation Sans', Arial, sans-serif" stroke="#3a3a3a" stroke-width="0.04">927 M - 1145 M</text>
<text x="320.5" y="210.21" font-size="3.50" fill="#3a3a3a" text-anchor="start" font-family="'Liberation Sans', Arial, sans-serif" stroke="#3a3a3a" stroke-width="0.04">None</text>
<circle cx="199.6" cy="208.9" r="0.9" fill="#a8ecf4"/>
<text x="203.7" y="215.16" font-size="3.50" fill="#3a3a3a" text-anchor="start" font-family="'Liberation Sans', Arial, sans-serif" textLength="28.2" lengthAdjust="spacingAndGlyphs" stroke="#3a3a3a" stroke-width="0.04">(3) QAC00PUR-15</text>
<text x="243" y="215.16" font-size="3.50" fill="#3a3a3a" text-anchor="start" font-family="'Liberation Sans', Arial, sans-serif" textLength="29.5" lengthAdjust="spacingAndGlyphs" stroke="#3a3a3a" stroke-width="0.04">(1) Reservoir zone</text>
<text x="281.3" y="215.16" font-size="3.50" fill="#3a3a3a" text-anchor="start" font-family="'Liberation Sans', Arial, sans-serif" stroke="#3a3a3a" stroke-width="0.04">1734.04 M - 1784.04 M</text>
<text x="320.5" y="215.16" font-size="3.50" fill="#3a3a3a" text-anchor="start" font-family="'Liberation Sans', Arial, sans-serif" stroke="#3a3a3a" stroke-width="0.04">None</text>
<rect x="198.6" y="212.9" width="2" height="2" fill="#10c8e0" transform="rotate(45 199.6 213.9)"/>
<text x="203.7" y="220.11" font-size="3.50" fill="#3a3a3a" text-anchor="start" font-family="'Liberation Sans', Arial, sans-serif" textLength="28.2" lengthAdjust="spacingAndGlyphs" stroke="#3a3a3a" stroke-width="0.04">(4) QAC00PUR-16</text>
<text x="243" y="220.11" font-size="3.50" fill="#3a3a3a" text-anchor="start" font-family="'Liberation Sans', Arial, sans-serif" textLength="29.5" lengthAdjust="spacingAndGlyphs" stroke="#3a3a3a" stroke-width="0.04">(1) Reservoir zone</text>
<text x="281.3" y="220.11" font-size="3.50" fill="#3a3a3a" text-anchor="start" font-family="'Liberation Sans', Arial, sans-serif" stroke="#3a3a3a" stroke-width="0.04">900 M - 940 M</text>
<text x="320.5" y="220.11" font-size="3.50" fill="#3a3a3a" text-anchor="start" font-family="'Liberation Sans', Arial, sans-serif" stroke="#3a3a3a" stroke-width="0.04">None</text>
<polygon points="199.6,217.5 198.3,219.8 200.9,219.8" fill="none" stroke="#90e0f0" stroke-width="0.5"/>
<text x="203.7" y="225.06" font-size="3.50" fill="#3a3a3a" text-anchor="start" font-family="'Liberation Sans', Arial, sans-serif" textLength="28.2" lengthAdjust="spacingAndGlyphs" stroke="#3a3a3a" stroke-width="0.04">(5) QAC00PUR-17</text>
<text x="243" y="225.06" font-size="3.50" fill="#3a3a3a" text-anchor="start" font-family="'Liberation Sans', Arial, sans-serif" textLength="29.5" lengthAdjust="spacingAndGlyphs" stroke="#3a3a3a" stroke-width="0.04">(1) Reservoir zone</text>
<text x="281.3" y="225.06" font-size="3.50" fill="#3a3a3a" text-anchor="start" font-family="'Liberation Sans', Arial, sans-serif" stroke="#3a3a3a" stroke-width="0.04">925 M - 1010 M</text>
<text x="320.5" y="225.06" font-size="3.50" fill="#3a3a3a" text-anchor="start" font-family="'Liberation Sans', Arial, sans-serif" stroke="#3a3a3a" stroke-width="0.04">None</text>
<polygon points="199.6,222.3 198,224.9 201.2,224.9" fill="#10d0e8"/>
<text x="275.5" y="237.30" font-size="3.60" fill="#3a3a3a" text-anchor="middle" font-family="'Liberation Sans', Arial, sans-serif" textLength="30" lengthAdjust="spacingAndGlyphs" stroke="#3a3a3a" stroke-width="0.04">Created in IP 2019</text>
<text x="265.2" y="254.2" font-size="12" font-weight="bold" fill="#000" text-anchor="middle" font-family="'Liberation Serif', 'Times New Roman', serif">(b)</text>
<polygon points="224,40 234,38 240,50 245,63 249,75 252,88 240,89 230,89 226,84 225,70 224,55" fill="#1478ee"/>
<path fill="#1478ee" d="M210.1 98.8h1.6v1.6h-1.6zM214.5 92.7h1.6v1.6h-1.6zM214.2 94.1h1.6v1.6h-1.6zM216.7 105.1h1.6v1.6h-1.6zM218.3 93.2h1.6v1.6h-1.6zM212.5 141h1.6v1.6h-1.6zM217.1 37.1h1.6v1.6h-1.6zM215.4 44.6h1.6v1.6h-1.6zM214.6 138.4h1.6v1.6h-1.6zM212.5 113.3h1.6v1.6h-1.6zM221.6 42.1h1.6v1.6h-1.6zM246.6 65.4h1.6v1.6h-1.6zM228.8 52h1.6v1.6h-1.6zM219.1 37.4h1.6v1.6h-1.6zM236.8 65.4h1.6v1.6h-1.6zM236.6 79.4h1.6v1.6h-1.6zM233.9 69h1.6v1.6h-1.6zM242.6 63.4h1.6v1.6h-1.6zM238.7 49.5h1.6v1.6h-1.6zM248.4 82.4h1.6v1.6h-1.6zM227.7 73.5h1.6v1.6h-1.6zM241.3 67.4h1.6v1.6h-1.6zM241.9 68.8h1.6v1.6h-1.6zM241 89.2h1.6v1.6h-1.6zM229.3 51h1.6v1.6h-1.6zM240.3 89.8h1.6v1.6h-1.6zM220.5 66.5h1.6v1.6h-1.6zM236.4 50.7h1.6v1.6h-1.6zM231.3 90.9h1.6v1.6h-1.6zM224.4 49.1h1.6v1.6h-1.6zM251.3 79.2h1.6v1.6h-1.6zM225.7 89.3h1.6v1.6h-1.6zM239.9 79.3h1.6v1.6h-1.6zM221.3 66.7h1.6v1.6h-1.6zM228.8 61.7h1.6v1.6h-1.6zM230.2 54.7h1.6v1.6h-1.6zM244.1 90.5h1.6v1.6h-1.6zM242.7 50.3h1.6v1.6h-1.6zM233.2 39.3h1.6v1.6h-1.6zM219.7 49.5h1.6v1.6h-1.6zM236.6 51.4h1.6v1.6h-1.6zM229.2 59h1.6v1.6h-1.6zM231.6 91.2h1.6v1.6h-1.6zM245.9 56.9h1.6v1.6h-1.6zM248.4 70.9h1.6v1.6h-1.6zM249.4 86.7h1.6v1.6h-1.6zM227 66.9h1.6v1.6h-1.6zM234.3 71.7h1.6v1.6h-1.6zM223.9 54.7h1.6v1.6h-1.6zM239.6 69.5h1.6v1.6h-1.6zM228 43.2h1.6v1.6h-1.6zM226 78.5h1.6v1.6h-1.6zM239.2 77.3h1.6v1.6h-1.6zM237.7 83.4h1.6v1.6h-1.6zM224.9 60.9h1.6v1.6h-1.6zM241.3 48.9h1.6v1.6h-1.6zM227.7 37.8h1.6v1.6h-1.6zM238.3 51.9h1.6v1.6h-1.6zM240.4 80.5h1.6v1.6h-1.6zM233.3 52.2h1.6v1.6h-1.6zM233.9 41.7h1.6v1.6h-1.6zM238.7 88h1.6v1.6h-1.6zM223.2 56.5h1.6v1.6h-1.6zM238.4 86.9h1.6v1.6h-1.6zM236.6 50.1h1.6v1.6h-1.6zM248.7 83.2h1.6v1.6h-1.6zM254.4 89h1.6v1.6h-1.6zM223.3 52.9h1.6v1.6h-1.6zM228 81h1.6v1.6h-1.6zM229.6 42h1.6v1.6h-1.6zM226 85.7h1.6v1.6h-1.6zM226 55.6h1.6v1.6h-1.6zM234.9 56.6h1.6v1.6h-1.6zM222.3 37.6h1.6v1.6h-1.6zM240.5 51.1h1.6v1.6h-1.6zM229.5 86.8h1.6v1.6h-1.6zM243.4 72h1.6v1.6h-1.6zM242.7 70.8h1.6v1.6h-1.6zM236.7 84.3h1.6v1.6h-1.6zM234.5 45.1h1.6v1.6h-1.6zM247 81.4h1.6v1.6h-1.6zM220.9 46.9h1.6v1.6h-1.6zM226.8 81.2h1.6v1.6h-1.6zM225.3 47.3h1.6v1.6h-1.6zM225.7 87.1h1.6v1.6h-1.6zM238.4 66.4h1.6v1.6h-1.6zM225.1 47.3h1.6v1.6h-1.6zM245.6 80.3h1.6v1.6h-1.6zM232.1 78.1h1.6v1.6h-1.6zM245.9 62.8h1.6v1.6h-1.6zM222.2 63.5h1.6v1.6h-1.6zM233.8 51.4h1.6v1.6h-1.6zM252.6 87.8h1.6v1.6h-1.6zM242.4 62.3h1.6v1.6h-1.6zM234.4 57.8h1.6v1.6h-1.6zM247.7 91.4h1.6v1.6h-1.6zM243.4 64.1h1.6v1.6h-1.6zM236.2 84.9h1.6v1.6h-1.6zM231.3 74.1h1.6v1.6h-1.6zM229.9 41.7h1.6v1.6h-1.6zM245.6 83.6h1.6v1.6h-1.6zM229 76.9h1.6v1.6h-1.6zM233.2 81.5h1.6v1.6h-1.6zM245.3 66.8h1.6v1.6h-1.6zM232.3 63.9h1.6v1.6h-1.6zM252.5 84.1h1.6v1.6h-1.6zM248.4 65.7h1.6v1.6h-1.6zM223.1 58.3h1.6v1.6h-1.6zM229.4 62.5h1.6v1.6h-1.6zM231.5 89.8h1.6v1.6h-1.6zM246.4 59.3h1.6v1.6h-1.6zM245 61.3h1.6v1.6h-1.6zM226.2 68.2h1.6v1.6h-1.6zM236.8 58.4h1.6v1.6h-1.6zM222.1 37.9h1.6v1.6h-1.6zM229.2 89h1.6v1.6h-1.6zM248.7 76.3h1.6v1.6h-1.6zM238.4 35.5h1.6v1.6h-1.6zM241.6 92h1.6v1.6h-1.6zM244.9 59.9h1.6v1.6h-1.6zM223.9 38h1.6v1.6h-1.6zM226 52.8h1.6v1.6h-1.6zM220.8 41h1.6v1.6h-1.6zM252.7 88.8h1.6v1.6h-1.6zM229 41.8h1.6v1.6h-1.6zM220.2 42.8h1.6v1.6h-1.6zM250.1 79.6h1.6v1.6h-1.6zM225.4 49.9h1.6v1.6h-1.6zM232.6 49.6h1.6v1.6h-1.6zM252.2 86.5h1.6v1.6h-1.6zM220.5 46.7h1.6v1.6h-1.6zM241.7 78.2h1.6v1.6h-1.6zM240.1 50.5h1.6v1.6h-1.6zM246.3 76.4h1.6v1.6h-1.6zM235.9 56.1h1.6v1.6h-1.6zM229.2 50.3h1.6v1.6h-1.6zM219.6 36.1h1.6v1.6h-1.6zM247.1 66.1h1.6v1.6h-1.6zM237.7 74.2h1.6v1.6h-1.6zM231.5 74h1.6v1.6h-1.6zM233 35.2h1.6v1.6h-1.6zM230.4 42.5h1.6v1.6h-1.6zM242.2 58.1h1.6v1.6h-1.6zM226.4 50.2h1.6v1.6h-1.6zM242.4 91.8h1.6v1.6h-1.6zM227.1 55.7h1.6v1.6h-1.6zM245.4 67.2h1.6v1.6h-1.6zM238.8 47.8h1.6v1.6h-1.6zM250 88.6h1.6v1.6h-1.6zM226.1 41.8h1.6v1.6h-1.6zM238.2 78.6h1.6v1.6h-1.6zM229.7 40h1.6v1.6h-1.6zM245.6 90.6h1.6v1.6h-1.6zM232.5 60.6h1.6v1.6h-1.6zM238.6 85.1h1.6v1.6h-1.6zM228.5 77.9h1.6v1.6h-1.6zM228.9 55.5h1.6v1.6h-1.6zM252.7 83.4h1.6v1.6h-1.6zM240.1 78.3h1.6v1.6h-1.6zM221.8 43.7h1.6v1.6h-1.6zM233.8 54.6h1.6v1.6h-1.6zM244.4 56.8h1.6v1.6h-1.6zM250.2 81.8h1.6v1.6h-1.6zM221.9 79.8h1.6v1.6h-1.6zM220.3 62.4h1.6v1.6h-1.6zM246.4 83.1h1.6v1.6h-1.6zM240.4 53.1h1.6v1.6h-1.6zM227.7 52.8h1.6v1.6h-1.6zM243.9 68.7h1.6v1.6h-1.6zM231.3 46.4h1.6v1.6h-1.6zM222.1 75.1h1.6v1.6h-1.6zM248.4 87.3h1.6v1.6h-1.6zM251.4 81.1h1.6v1.6h-1.6zM232.5 42.7h1.6v1.6h-1.6zM228.6 86.2h1.6v1.6h-1.6zM243.6 72.2h1.6v1.6h-1.6zM234.9 47.9h1.6v1.6h-1.6zM247.9 88.5h1.6v1.6h-1.6zM234.7 67.9h1.6v1.6h-1.6zM221.1 74h1.6v1.6h-1.6zM231 48h1.6v1.6h-1.6zM220 54.5h1.6v1.6h-1.6zM236.7 72.8h1.6v1.6h-1.6zM224.5 45.6h1.6v1.6h-1.6zM228.5 48.6h1.6v1.6h-1.6zM233.5 75.5h1.6v1.6h-1.6zM233.9 71.2h1.6v1.6h-1.6zM236.6 86.9h1.6v1.6h-1.6zM237.1 70.4h1.6v1.6h-1.6zM248.9 64.7h1.6v1.6h-1.6zM238.4 56.3h1.6v1.6h-1.6zM231 69.2h1.6v1.6h-1.6zM225.8 72.3h1.6v1.6h-1.6zM250.2 71h1.6v1.6h-1.6zM220.4 55.7h1.6v1.6h-1.6zM248 87.9h1.6v1.6h-1.6zM232.7 79.7h1.6v1.6h-1.6zM228.6 85.5h1.6v1.6h-1.6zM238.9 49.7h1.6v1.6h-1.6zM252.8 87.1h1.6v1.6h-1.6zM251 75.5h1.6v1.6h-1.6zM224.1 40.8h1.6v1.6h-1.6zM241.4 59.4h1.6v1.6h-1.6zM250.1 72.9h1.6v1.6h-1.6zM240.3 53.9h1.6v1.6h-1.6zM234.6 91.8h1.6v1.6h-1.6zM238.8 56.9h1.6v1.6h-1.6zM240.8 78h1.6v1.6h-1.6zM246.3 88.2h1.6v1.6h-1.6zM234.2 40.2h1.6v1.6h-1.6zM239 76.3h1.6v1.6h-1.6zM237.3 72.3h1.6v1.6h-1.6zM245.9 82.8h1.6v1.6h-1.6zM222.4 34.4h1.6v1.6h-1.6zM244.8 71.7h1.6v1.6h-1.6zM234.9 70.2h1.6v1.6h-1.6zM238.6 81.4h1.6v1.6h-1.6zM226.5 36.5h1.6v1.6h-1.6zM247.5 62.2h1.6v1.6h-1.6zM235.9 48h1.6v1.6h-1.6zM232.5 71.1h1.6v1.6h-1.6zM226.9 59.5h1.6v1.6h-1.6zM238.5 77.5h1.6v1.6h-1.6zM253.8 90.4h1.6v1.6h-1.6zM243.7 64.4h1.6v1.6h-1.6zM222.5 37.5h1.6v1.6h-1.6zM234.8 68.3h1.6v1.6h-1.6zM222.3 39.7h1.6v1.6h-1.6zM221.7 48h1.6v1.6h-1.6zM228 51.7h1.6v1.6h-1.6zM226.3 75.8h1.6v1.6h-1.6zM225.7 57.2h1.6v1.6h-1.6zM224.8 71.1h1.6v1.6h-1.6zM238.7 72.4h1.6v1.6h-1.6zM234.6 78.9h1.6v1.6h-1.6zM231.5 63.4h1.6v1.6h-1.6zM234.2 85.5h1.6v1.6h-1.6zM229.4 41.4h1.6v1.6h-1.6zM228.7 65.8h1.6v1.6h-1.6zM235.5 89.5h1.6v1.6h-1.6zM244.8 71h1.6v1.6h-1.6zM238.1 86.1h1.6v1.6h-1.6zM221.6 73.7h1.6v1.6h-1.6zM223.8 80h1.6v1.6h-1.6zM243.2 83.8h1.6v1.6h-1.6zM248.1 75.3h1.6v1.6h-1.6zM227.9 70.1h1.6v1.6h-1.6zM249.4 75.7h1.6v1.6h-1.6zM246.5 64.9h1.6v1.6h-1.6zM239.1 73.1h1.6v1.6h-1.6zM220.9 35.7h1.6v1.6h-1.6zM238 80.2h1.6v1.6h-1.6zM221.7 78.9h1.6v1.6h-1.6zM223.5 34.9h1.6v1.6h-1.6zM228.2 42.9h1.6v1.6h-1.6zM230.7 35.7h1.6v1.6h-1.6zM237.3 55.9h1.6v1.6h-1.6zM237.3 77.8h1.6v1.6h-1.6zM239.1 54.2h1.6v1.6h-1.6zM245.3 61.2h1.6v1.6h-1.6zM248 77.2h1.6v1.6h-1.6zM223.2 37h1.6v1.6h-1.6zM226.6 40.8h1.6v1.6h-1.6zM219.9 49h1.6v1.6h-1.6zM237 64.7h1.6v1.6h-1.6zM237.1 85.1h1.6v1.6h-1.6zM246.9 76.4h1.6v1.6h-1.6zM220.4 43.7h1.6v1.6h-1.6zM222.6 41h1.6v1.6h-1.6zM241.5 62.2h1.6v1.6h-1.6zM239.7 72.8h1.6v1.6h-1.6zM241.5 73.6h1.6v1.6h-1.6zM221.7 36.7h1.6v1.6h-1.6zM224.1 70.5h1.6v1.6h-1.6zM242.1 48.6h1.6v1.6h-1.6zM237.9 90.6h1.6v1.6h-1.6zM245.3 59.2h1.6v1.6h-1.6zM237 49.8h1.6v1.6h-1.6zM238.1 73.1h1.6v1.6h-1.6zM224.4 64.4h1.6v1.6h-1.6zM234.2 80.5h1.6v1.6h-1.6zM246.3 77.5h1.6v1.6h-1.6zM243.8 85.9h1.6v1.6h-1.6zM224.4 90.2h1.6v1.6h-1.6zM239.5 78.4h1.6v1.6h-1.6zM240.9 85h1.6v1.6h-1.6zM235 64.5h1.6v1.6h-1.6zM225.9 78.5h1.6v1.6h-1.6zM246 79.4h1.6v1.6h-1.6zM234 54.8h1.6v1.6h-1.6zM224.5 77h1.6v1.6h-1.6zM236.1 54.7h1.6v1.6h-1.6zM236.7 52.2h1.6v1.6h-1.6zM229.6 85h1.6v1.6h-1.6zM234.2 67.6h1.6v1.6h-1.6zM235.1 89.4h1.6v1.6h-1.6zM223.1 38.4h1.6v1.6h-1.6zM225.9 73.5h1.6v1.6h-1.6zM238 88h1.6v1.6h-1.6zM238.3 56.8h1.6v1.6h-1.6zM237.8 35h1.6v1.6h-1.6zM248.5 78.8h1.6v1.6h-1.6zM229.4 83.3h1.6v1.6h-1.6zM226.4 50.5h1.6v1.6h-1.6zM246 83.3h1.6v1.6h-1.6zM227.3 77.7h1.6v1.6h-1.6zM232.9 82.4h1.6v1.6h-1.6zM246.5 71.5h1.6v1.6h-1.6zM230 60h1.6v1.6h-1.6zM224 43.2h1.6v1.6h-1.6zM254 86.7h1.6v1.6h-1.6zM244.2 84.4h1.6v1.6h-1.6zM236.9 45.3h1.6v1.6h-1.6zM235.6 89.3h1.6v1.6h-1.6zM250.9 91.3h1.6v1.6h-1.6zM236.6 77.3h1.6v1.6h-1.6zM220.1 54.7h1.6v1.6h-1.6zM250.5 71.8h1.6v1.6h-1.6zM243 66.1h1.6v1.6h-1.6zM243.5 82.2h1.6v1.6h-1.6zM229.6 87.7h1.6v1.6h-1.6zM237.7 51.3h1.6v1.6h-1.6zM235 72.1h1.6v1.6h-1.6zM248 63.6h1.6v1.6h-1.6zM243 84.3h1.6v1.6h-1.6zM230.5 64.1h1.6v1.6h-1.6zM239.7 45.9h1.6v1.6h-1.6zM227.5 83.4h1.6v1.6h-1.6zM230.9 48.1h1.6v1.6h-1.6zM223.5 83.1h1.6v1.6h-1.6zM235.2 67.9h1.6v1.6h-1.6zM230.6 83.1h1.6v1.6h-1.6zM227.8 44.7h1.6v1.6h-1.6zM225.5 80.4h1.6v1.6h-1.6zM232.5 42.6h1.6v1.6h-1.6zM223.8 51.9h1.6v1.6h-1.6zM241.1 74.9h1.6v1.6h-1.6zM224.7 44.2h1.6v1.6h-1.6zM227.6 51.9h1.6v1.6h-1.6zM232.2 87.8h1.6v1.6h-1.6zM241.9 54.3h1.6v1.6h-1.6zM224.7 41.6h1.6v1.6h-1.6zM233.2 86.4h1.6v1.6h-1.6zM226.3 41.4h1.6v1.6h-1.6zM239.8 73.1h1.6v1.6h-1.6zM236.5 36.5h1.6v1.6h-1.6zM254.1 91.6h1.6v1.6h-1.6zM229.6 34.5h1.6v1.6h-1.6zM253.5 83.2h1.6v1.6h-1.6zM234.6 78.1h1.6v1.6h-1.6zM239.4 42.3h1.6v1.6h-1.6zM243.4 88.2h1.6v1.6h-1.6zM245.3 68.7h1.6v1.6h-1.6zM232.1 36h1.6v1.6h-1.6zM228 83.8h1.6v1.6h-1.6zM220.1 54.7h1.6v1.6h-1.6zM225.3 80.1h1.6v1.6h-1.6zM244.5 53.9h1.6v1.6h-1.6zM233.6 65.8h1.6v1.6h-1.6zM250.1 90.8h1.6v1.6h-1.6zM225.7 40.2h1.6v1.6h-1.6zM220.5 64.7h1.6v1.6h-1.6zM246.2 87.6h1.6v1.6h-1.6zM241.5 60.5h1.6v1.6h-1.6zM233 45.6h1.6v1.6h-1.6zM227.9 84.1h1.6v1.6h-1.6zM228.4 38.7h1.6v1.6h-1.6zM224.9 81.7h1.6v1.6h-1.6zM224.1 84.4h1.6v1.6h-1.6zM221.2 63.7h1.6v1.6h-1.6zM234.8 82h1.6v1.6h-1.6zM226.3 43.9h1.6v1.6h-1.6zM226.2 70h1.6v1.6h-1.6zM231.1 64.1h1.6v1.6h-1.6zM228.5 62.8h1.6v1.6h-1.6zM240.1 79.9h1.6v1.6h-1.6zM222.6 53.6h1.6v1.6h-1.6zM225.9 72.7h1.6v1.6h-1.6zM227.1 78.1h1.6v1.6h-1.6zM222.2 84.1h1.6v1.6h-1.6zM230.5 83.6h1.6v1.6h-1.6zM229.2 76.5h1.6v1.6h-1.6zM251.5 79.6h1.6v1.6h-1.6zM233.5 48.5h1.6v1.6h-1.6zM240.6 72.1h1.6v1.6h-1.6zM227.6 47.3h1.6v1.6h-1.6zM223.3 67.7h1.6v1.6h-1.6zM229.2 68.2h1.6v1.6h-1.6zM231.6 64.1h1.6v1.6h-1.6zM229.3 82.9h1.6v1.6h-1.6zM231.8 63.7h1.6v1.6h-1.6zM222.9 52.3h1.6v1.6h-1.6zM234.4 89.4h1.6v1.6h-1.6zM224.6 62.3h1.6v1.6h-1.6zM237.2 40.6h1.6v1.6h-1.6zM247.2 70h1.6v1.6h-1.6zM249 72.9h1.6v1.6h-1.6zM231.2 86.2h1.6v1.6h-1.6zM243.3 73.1h1.6v1.6h-1.6zM221.3 74.4h1.6v1.6h-1.6zM242.6 86.8h1.6v1.6h-1.6zM229.5 62h1.6v1.6h-1.6zM228.3 42.2h1.6v1.6h-1.6zM225.3 53.5h1.6v1.6h-1.6zM232.5 58.8h1.6v1.6h-1.6zM248.5 77.2h1.6v1.6h-1.6zM237.2 39.3h1.6v1.6h-1.6zM248 71.8h1.6v1.6h-1.6zM225.6 38.2h1.6v1.6h-1.6zM247.2 81.3h1.6v1.6h-1.6zM248.7 63.6h1.6v1.6h-1.6zM233.4 37.3h1.6v1.6h-1.6zM218.5 34.4h1.6v1.6h-1.6zM253.1 89.1h1.6v1.6h-1.6zM228.7 74.3h1.6v1.6h-1.6zM249 89.9h1.6v1.6h-1.6zM228.5 48.8h1.6v1.6h-1.6zM222 48.8h1.6v1.6h-1.6zM224 64.5h1.6v1.6h-1.6zM225 90.2h1.6v1.6h-1.6zM245.2 88.6h1.6v1.6h-1.6zM238.4 79.3h1.6v1.6h-1.6zM237.3 70.6h1.6v1.6h-1.6zM244 55.5h1.6v1.6h-1.6zM236.4 67.4h1.6v1.6h-1.6zM225.7 53.6h1.6v1.6h-1.6zM251.8 90.1h1.6v1.6h-1.6zM243.1 67.4h1.6v1.6h-1.6zM250.4 80.4h1.6v1.6h-1.6zM237.5 66.7h1.6v1.6h-1.6zM241.8 42.8h1.6v1.6h-1.6zM248.2 62.1h1.6v1.6h-1.6zM234.7 91.4h1.6v1.6h-1.6zM234.6 53.3h1.6v1.6h-1.6zM232.4 78.8h1.6v1.6h-1.6zM244 83.3h1.6v1.6h-1.6zM232.5 91.8h1.6v1.6h-1.6zM228.8 65h1.6v1.6h-1.6zM229.4 57.4h1.6v1.6h-1.6zM233.8 83.2h1.6v1.6h-1.6zM235.5 58.2h1.6v1.6h-1.6zM243.3 47.1h1.6v1.6h-1.6zM226.1 45.5h1.6v1.6h-1.6zM228.7 81.5h1.6v1.6h-1.6zM243.4 73.1h1.6v1.6h-1.6zM247.3 70.7h1.6v1.6h-1.6zM223.9 79h1.6v1.6h-1.6zM235.5 60.9h1.6v1.6h-1.6zM244.7 80.6h1.6v1.6h-1.6zM227.4 76.2h1.6v1.6h-1.6zM234.8 39.2h1.6v1.6h-1.6zM234 82.1h1.6v1.6h-1.6zM231.8 79.2h1.6v1.6h-1.6zM232.1 66.1h1.6v1.6h-1.6zM244 85.8h1.6v1.6h-1.6zM222.7 66.6h1.6v1.6h-1.6zM227.8 85.6h1.6v1.6h-1.6zM239.3 90.9h1.6v1.6h-1.6zM253.1 86.8h1.6v1.6h-1.6zM243.9 81h1.6v1.6h-1.6zM224.9 71.5h1.6v1.6h-1.6zM241.7 72.5h1.6v1.6h-1.6zM253.4 86h1.6v1.6h-1.6zM252.5 88.2h1.6v1.6h-1.6zM236.8 54h1.6v1.6h-1.6zM248.7 81.7h1.6v1.6h-1.6zM226.5 59.1h1.6v1.6h-1.6zM239.9 85.3h1.6v1.6h-1.6zM225.1 48.2h1.6v1.6h-1.6zM247.7 83.4h1.6v1.6h-1.6zM241.6 56.2h1.6v1.6h-1.6zM225.7 90.7h1.6v1.6h-1.6zM238.2 43.2h1.6v1.6h-1.6zM242.5 90.3h1.6v1.6h-1.6zM244.7 90h1.6v1.6h-1.6zM237.9 54h1.6v1.6h-1.6zM231.9 54.6h1.6v1.6h-1.6zM228.9 37.7h1.6v1.6h-1.6zM221.3 78.8h1.6v1.6h-1.6zM226.2 85.7h1.6v1.6h-1.6zM246.3 80h1.6v1.6h-1.6zM224.2 76.6h1.6v1.6h-1.6zM246.4 88.5h1.6v1.6h-1.6zM223.1 80.1h1.6v1.6h-1.6zM237.3 83.3h1.6v1.6h-1.6zM221.6 38h1.6v1.6h-1.6zM222.5 47.3h1.6v1.6h-1.6zM223.4 44.6h1.6v1.6h-1.6zM229.6 39h1.6v1.6h-1.6zM224.2 54h1.6v1.6h-1.6zM221.3 42.6h1.6v1.6h-1.6zM229.2 57.8h1.6v1.6h-1.6zM226.4 81.9h1.6v1.6h-1.6zM249.6 87.4h1.6v1.6h-1.6zM234.9 56h1.6v1.6h-1.6zM239.9 81.2h1.6v1.6h-1.6zM241.5 51.8h1.6v1.6h-1.6zM253.1 85.1h1.6v1.6h-1.6zM242.9 88.3h1.6v1.6h-1.6zM239.4 53.6h1.6v1.6h-1.6zM231.1 89.4h1.6v1.6h-1.6zM237.5 81.8h1.6v1.6h-1.6zM227 83.6h1.6v1.6h-1.6zM240.6 81.1h1.6v1.6h-1.6zM238.9 83.2h1.6v1.6h-1.6zM236.3 37.1h1.6v1.6h-1.6zM248.4 67.5h1.6v1.6h-1.6zM237.3 40.1h1.6v1.6h-1.6zM240.7 71.2h1.6v1.6h-1.6zM228 69.9h1.6v1.6h-1.6zM245.5 78.3h1.6v1.6h-1.6zM249.3 68.3h1.6v1.6h-1.6zM241.2 84.7h1.6v1.6h-1.6zM225.5 60.9h1.6v1.6h-1.6zM234.3 45.6h1.6v1.6h-1.6zM234.8 79.1h1.6v1.6h-1.6zM240 64h1.6v1.6h-1.6zM229.6 81.5h1.6v1.6h-1.6zM232 51.2h1.6v1.6h-1.6zM234.6 86.7h1.6v1.6h-1.6zM221.6 50h1.6v1.6h-1.6zM236.4 78h1.6v1.6h-1.6zM241.6 57.3h1.6v1.6h-1.6zM246.9 77.6h1.6v1.6h-1.6zM235.2 41.6h1.6v1.6h-1.6zM237.1 92h1.6v1.6h-1.6zM226.5 70.3h1.6v1.6h-1.6zM235.1 74.8h1.6v1.6h-1.6zM221.8 42.9h1.6v1.6h-1.6zM228.1 79.6h1.6v1.6h-1.6zM237.1 41.5h1.6v1.6h-1.6zM237.7 53.4h1.6v1.6h-1.6zM235.1 91.3h1.6v1.6h-1.6zM223.1 53.6h1.6v1.6h-1.6zM230.5 48.7h1.6v1.6h-1.6zM229.5 48.8h1.6v1.6h-1.6zM240.7 46.3h1.6v1.6h-1.6zM224.5 67h1.6v1.6h-1.6zM219.7 47.2h1.6v1.6h-1.6zM226.4 88.7h1.6v1.6h-1.6zM221.5 38.5h1.6v1.6h-1.6zM223.8 39.6h1.6v1.6h-1.6zM226.1 66.3h1.6v1.6h-1.6zM220.4 43.5h1.6v1.6h-1.6zM218 38.7h1.6v1.6h-1.6zM223.1 36.6h1.6v1.6h-1.6zM220.5 54.3h1.6v1.6h-1.6zM223.1 81.7h1.6v1.6h-1.6zM221.6 57.3h1.6v1.6h-1.6zM226.2 85h1.6v1.6h-1.6zM224.3 60.4h1.6v1.6h-1.6zM226.5 73.7h1.6v1.6h-1.6zM220.3 52.4h1.6v1.6h-1.6zM221.3 58.6h1.6v1.6h-1.6zM224.1 57.9h1.6v1.6h-1.6zM222.4 67.8h1.6v1.6h-1.6zM219 38.9h1.6v1.6h-1.6zM220.1 53.8h1.6v1.6h-1.6zM225 73.4h1.6v1.6h-1.6zM226 86.2h1.6v1.6h-1.6zM222.4 64h1.6v1.6h-1.6zM223.6 69.4h1.6v1.6h-1.6zM223.3 67h1.6v1.6h-1.6zM223.6 48.4h1.6v1.6h-1.6zM224.8 66.6h1.6v1.6h-1.6zM225.2 68.8h1.6v1.6h-1.6zM224.4 72.8h1.6v1.6h-1.6zM225 65h1.6v1.6h-1.6zM224.9 77.2h1.6v1.6h-1.6zM223.8 89.5h1.6v1.6h-1.6zM219.2 45.3h1.6v1.6h-1.6zM219.9 54.1h1.6v1.6h-1.6zM221.8 45.9h1.6v1.6h-1.6zM224.4 81.9h1.6v1.6h-1.6zM225.4 77.3h1.6v1.6h-1.6zM223.1 74.2h1.6v1.6h-1.6zM224.1 65.5h1.6v1.6h-1.6zM223.4 79.3h1.6v1.6h-1.6zM219.6 43.5h1.6v1.6h-1.6zM219.3 39.8h1.6v1.6h-1.6zM222.4 86h1.6v1.6h-1.6zM220.6 61.8h1.6v1.6h-1.6zM222.4 44.1h1.6v1.6h-1.6zM226.1 69.1h1.6v1.6h-1.6zM220.8 57.4h1.6v1.6h-1.6zM220.4 47.5h1.6v1.6h-1.6zM252.5 102.4h1.6v1.6h-1.6zM232.2 92.3h1.6v1.6h-1.6zM243.9 95.2h1.6v1.6h-1.6zM243.4 105.8h1.6v1.6h-1.6zM255.7 105.5h1.6v1.6h-1.6zM255.5 94.2h1.6v1.6h-1.6zM236.2 91.8h1.6v1.6h-1.6zM244.8 92.2h1.6v1.6h-1.6zM254.7 105h1.6v1.6h-1.6zM257.8 99.8h1.6v1.6h-1.6zM256.2 102.5h1.6v1.6h-1.6zM246.6 89.8h1.6v1.6h-1.6zM232.5 94.1h1.6v1.6h-1.6zM237.8 105.8h1.6v1.6h-1.6zM256 89.5h1.6v1.6h-1.6zM240.6 101.1h1.6v1.6h-1.6zM240.7 106.7h1.6v1.6h-1.6zM255.9 99.9h1.6v1.6h-1.6zM254.6 89.2h1.6v1.6h-1.6zM252.8 91h1.6v1.6h-1.6zM250.6 97.2h1.6v1.6h-1.6zM234.2 96.2h1.6v1.6h-1.6zM256.3 102.8h1.6v1.6h-1.6zM238.5 98.8h1.6v1.6h-1.6zM237.5 95.4h1.6v1.6h-1.6zM239 99.5h1.6v1.6h-1.6zM248.5 104.2h1.6v1.6h-1.6zM231.2 99.7h1.6v1.6h-1.6zM254 107h1.6v1.6h-1.6zM230.6 100.9h1.6v1.6h-1.6zM256.8 98h1.6v1.6h-1.6zM250.9 101.1h1.6v1.6h-1.6zM249.9 102.7h1.6v1.6h-1.6zM258.4 100.5h1.6v1.6h-1.6zM238 105.4h1.6v1.6h-1.6zM249.8 101.7h1.6v1.6h-1.6zM246.1 89.1h1.6v1.6h-1.6zM248.4 109h1.6v1.6h-1.6zM237.3 89h1.6v1.6h-1.6zM239.4 105.3h1.6v1.6h-1.6zM257.2 104.4h1.6v1.6h-1.6zM249.7 101.4h1.6v1.6h-1.6zM243.8 92.6h1.6v1.6h-1.6zM254.6 99.2h1.6v1.6h-1.6zM243.3 94.3h1.6v1.6h-1.6zM248.6 109.5h1.6v1.6h-1.6zM249.5 105.3h1.6v1.6h-1.6zM235.1 90.9h1.6v1.6h-1.6zM236.4 101.4h1.6v1.6h-1.6zM228.6 96.8h1.6v1.6h-1.6zM248 97h1.6v1.6h-1.6zM228.2 99.9h1.6v1.6h-1.6zM255 94.7h1.6v1.6h-1.6zM243.5 108.2h1.6v1.6h-1.6zM238.4 105.5h1.6v1.6h-1.6zM238 90.2h1.6v1.6h-1.6zM223.4 89.6h1.6v1.6h-1.6zM248 100.1h1.6v1.6h-1.6zM233.2 88.6h1.6v1.6h-1.6zM236.1 94.1h1.6v1.6h-1.6zM254.2 99.4h1.6v1.6h-1.6zM256.6 98.4h1.6v1.6h-1.6zM237 105h1.6v1.6h-1.6zM253.6 107.6h1.6v1.6h-1.6zM251 91.9h1.6v1.6h-1.6zM241.3 106.2h1.6v1.6h-1.6zM255.5 95.8h1.6v1.6h-1.6zM245.1 102.1h1.6v1.6h-1.6zM247.6 103.5h1.6v1.6h-1.6zM248.7 88.9h1.6v1.6h-1.6zM249.5 98.4h1.6v1.6h-1.6zM242.6 102.8h1.6v1.6h-1.6zM229.8 88.2h1.6v1.6h-1.6zM232.3 92.4h1.6v1.6h-1.6zM237.1 100.1h1.6v1.6h-1.6zM239.1 93.5h1.6v1.6h-1.6zM244.6 95.8h1.6v1.6h-1.6zM233.7 88.7h1.6v1.6h-1.6zM242.5 101.7h1.6v1.6h-1.6zM231 93.2h1.6v1.6h-1.6zM222.3 92h1.6v1.6h-1.6zM228.2 91.4h1.6v1.6h-1.6zM228.5 92.7h1.6v1.6h-1.6zM230.9 88.7h1.6v1.6h-1.6zM240.2 93.6h1.6v1.6h-1.6zM230.3 95.6h1.6v1.6h-1.6zM245.4 94.5h1.6v1.6h-1.6zM236.9 96.2h1.6v1.6h-1.6zM233.1 96.8h1.6v1.6h-1.6z"/>
<path fill="#0c66e0" d="M225.2 71.9h1.6v1.6h-1.6zM221.9 56.2h1.6v1.6h-1.6zM241.6 74.3h1.6v1.6h-1.6zM240.3 72.7h1.6v1.6h-1.6zM222.5 57.4h1.6v1.6h-1.6zM221.9 49.2h1.6v1.6h-1.6zM238.7 77.2h1.6v1.6h-1.6zM231.6 44.4h1.6v1.6h-1.6zM225.6 79.9h1.6v1.6h-1.6zM227.2 39.5h1.6v1.6h-1.6zM246.4 82.8h1.6v1.6h-1.6zM244.1 84.8h1.6v1.6h-1.6zM244.4 75.6h1.6v1.6h-1.6zM226.7 88.3h1.6v1.6h-1.6zM224.1 80.1h1.6v1.6h-1.6zM227.6 60.4h1.6v1.6h-1.6zM233.7 49h1.6v1.6h-1.6zM221.4 50.4h1.6v1.6h-1.6zM228.9 62h1.6v1.6h-1.6zM232.7 44.1h1.6v1.6h-1.6zM236 85.7h1.6v1.6h-1.6zM238.5 88.6h1.6v1.6h-1.6zM222.1 54.4h1.6v1.6h-1.6zM228.5 46.7h1.6v1.6h-1.6zM249.4 70h1.6v1.6h-1.6zM238.7 91.3h1.6v1.6h-1.6zM238.4 61h1.6v1.6h-1.6zM223.9 79.1h1.6v1.6h-1.6zM227.1 54.8h1.6v1.6h-1.6zM223.6 57.2h1.6v1.6h-1.6zM246.6 61.4h1.6v1.6h-1.6zM236.7 72.5h1.6v1.6h-1.6zM247.8 89.1h1.6v1.6h-1.6zM230.9 44.5h1.6v1.6h-1.6zM239.8 69.1h1.6v1.6h-1.6zM222.5 50.8h1.6v1.6h-1.6zM233.6 73h1.6v1.6h-1.6zM221 48.5h1.6v1.6h-1.6zM228.6 47.1h1.6v1.6h-1.6zM223.9 40.5h1.6v1.6h-1.6zM237 82.9h1.6v1.6h-1.6zM220.9 68.1h1.6v1.6h-1.6zM235.8 52.2h1.6v1.6h-1.6zM240.1 53.6h1.6v1.6h-1.6zM235.9 46.6h1.6v1.6h-1.6zM224.8 86.1h1.6v1.6h-1.6zM236.8 81.6h1.6v1.6h-1.6zM226.3 64.5h1.6v1.6h-1.6zM233.7 59.1h1.6v1.6h-1.6zM222.2 52.6h1.6v1.6h-1.6zM227.9 77.4h1.6v1.6h-1.6zM231.9 85.1h1.6v1.6h-1.6zM225 81.9h1.6v1.6h-1.6zM231.4 89.8h1.6v1.6h-1.6zM230.5 65.7h1.6v1.6h-1.6zM228.2 68.3h1.6v1.6h-1.6zM246.5 73h1.6v1.6h-1.6zM231.7 47.8h1.6v1.6h-1.6zM235.4 35.7h1.6v1.6h-1.6zM228.3 53.7h1.6v1.6h-1.6zM234.3 41.7h1.6v1.6h-1.6zM224.5 45h1.6v1.6h-1.6zM233.9 53.3h1.6v1.6h-1.6zM249.6 76.6h1.6v1.6h-1.6zM249.5 75h1.6v1.6h-1.6zM239.4 56.4h1.6v1.6h-1.6zM224 84.9h1.6v1.6h-1.6zM241.3 52.5h1.6v1.6h-1.6zM224.7 34.7h1.6v1.6h-1.6zM229.6 39.5h1.6v1.6h-1.6zM223.7 64.7h1.6v1.6h-1.6zM248.3 68.7h1.6v1.6h-1.6zM231.5 44.3h1.6v1.6h-1.6zM243.8 59.6h1.6v1.6h-1.6zM227.8 58.3h1.6v1.6h-1.6zM224 44.2h1.6v1.6h-1.6zM234.9 74.2h1.6v1.6h-1.6zM244.1 80h1.6v1.6h-1.6zM227.7 66.6h1.6v1.6h-1.6zM228.7 87.3h1.6v1.6h-1.6zM241.8 65.4h1.6v1.6h-1.6zM223.2 46.5h1.6v1.6h-1.6zM225.2 56.8h1.6v1.6h-1.6zM247.4 79h1.6v1.6h-1.6zM242.8 86.7h1.6v1.6h-1.6zM243.2 55.9h1.6v1.6h-1.6zM221 59.9h1.6v1.6h-1.6zM244.8 85.9h1.6v1.6h-1.6zM244.9 87h1.6v1.6h-1.6zM225.1 51.5h1.6v1.6h-1.6zM233.9 41.8h1.6v1.6h-1.6zM224.8 78.3h1.6v1.6h-1.6zM236 82.7h1.6v1.6h-1.6zM243.6 47.3h1.6v1.6h-1.6zM221.5 70.8h1.6v1.6h-1.6zM238.4 37.2h1.6v1.6h-1.6zM241.8 59.3h1.6v1.6h-1.6zM231.6 79.9h1.6v1.6h-1.6zM239.5 88.1h1.6v1.6h-1.6zM226.4 86.9h1.6v1.6h-1.6zM225.7 38.5h1.6v1.6h-1.6zM220.3 57.8h1.6v1.6h-1.6zM236.9 84.6h1.6v1.6h-1.6zM230.4 55.1h1.6v1.6h-1.6zM220 37.7h1.6v1.6h-1.6zM240.2 82.4h1.6v1.6h-1.6zM237.7 71.8h1.6v1.6h-1.6zM250.8 85.5h1.6v1.6h-1.6zM227.8 37.4h1.6v1.6h-1.6zM233.7 72.2h1.6v1.6h-1.6zM229.4 53.1h1.6v1.6h-1.6zM239 63.6h1.6v1.6h-1.6zM251.4 84.7h1.6v1.6h-1.6zM228 80.4h1.6v1.6h-1.6zM240.2 42.4h1.6v1.6h-1.6zM246 84.2h1.6v1.6h-1.6zM233.6 51.6h1.6v1.6h-1.6zM253.9 91h1.6v1.6h-1.6zM223.5 39.6h1.6v1.6h-1.6zM232.3 65.7h1.6v1.6h-1.6zM239.5 83.3h1.6v1.6h-1.6zM222.5 83.1h1.6v1.6h-1.6zM235.4 78.7h1.6v1.6h-1.6zM219.7 53.8h1.6v1.6h-1.6zM255.1 90.5h1.6v1.6h-1.6zM222.9 74.2h1.6v1.6h-1.6zM225.1 36.3h1.6v1.6h-1.6zM243.8 89.2h1.6v1.6h-1.6zM231.2 85.4h1.6v1.6h-1.6zM227.3 37h1.6v1.6h-1.6zM221.1 40.6h1.6v1.6h-1.6zM239.8 45.8h1.6v1.6h-1.6zM233.6 47.5h1.6v1.6h-1.6zM243 53.2h1.6v1.6h-1.6zM242 78.7h1.6v1.6h-1.6zM230.1 78h1.6v1.6h-1.6zM230.6 44.5h1.6v1.6h-1.6zM242.7 91.8h1.6v1.6h-1.6zM240.6 81.7h1.6v1.6h-1.6zM236 78h1.6v1.6h-1.6zM224.8 40.1h1.6v1.6h-1.6zM251.2 84.3h1.6v1.6h-1.6zM233.7 38.9h1.6v1.6h-1.6zM225.2 46.2h1.6v1.6h-1.6zM235.5 73.6h1.6v1.6h-1.6zM231.3 60.9h1.6v1.6h-1.6zM242.2 55.6h1.6v1.6h-1.6zM229.6 88.7h1.6v1.6h-1.6zM222.2 69.2h1.6v1.6h-1.6zM237.4 46.2h1.6v1.6h-1.6zM239.4 40.8h1.6v1.6h-1.6zM244.1 88.6h1.6v1.6h-1.6zM231.4 71.9h1.6v1.6h-1.6zM221.5 58.3h1.6v1.6h-1.6zM239.8 67.7h1.6v1.6h-1.6zM243.3 67.3h1.6v1.6h-1.6zM238.2 63.1h1.6v1.6h-1.6zM238.2 85.7h1.6v1.6h-1.6zM229 59.3h1.6v1.6h-1.6zM241.9 45h1.6v1.6h-1.6zM234.1 68.9h1.6v1.6h-1.6zM226.2 46.6h1.6v1.6h-1.6zM220.5 57.5h1.6v1.6h-1.6zM230.6 69.4h1.6v1.6h-1.6zM244 59.7h1.6v1.6h-1.6zM223.4 60.2h1.6v1.6h-1.6zM235.5 53h1.6v1.6h-1.6zM246 69.8h1.6v1.6h-1.6zM230.6 47.6h1.6v1.6h-1.6zM242.6 89.7h1.6v1.6h-1.6zM222.9 35.6h1.6v1.6h-1.6zM221.9 50.9h1.6v1.6h-1.6zM224.6 50.9h1.6v1.6h-1.6zM233.8 68h1.6v1.6h-1.6zM230.8 58.9h1.6v1.6h-1.6zM225.7 73h1.6v1.6h-1.6zM234 85.2h1.6v1.6h-1.6zM236.4 68.6h1.6v1.6h-1.6zM224.2 65.9h1.6v1.6h-1.6zM230.6 73.2h1.6v1.6h-1.6zM224.8 35.6h1.6v1.6h-1.6zM223.6 42.5h1.6v1.6h-1.6zM231.5 72.6h1.6v1.6h-1.6zM223.2 37.7h1.6v1.6h-1.6zM229 46.4h1.6v1.6h-1.6zM241.6 51.9h1.6v1.6h-1.6zM233 86.4h1.6v1.6h-1.6zM244.6 54.5h1.6v1.6h-1.6zM244 81.6h1.6v1.6h-1.6zM238.3 82.6h1.6v1.6h-1.6zM240 74.6h1.6v1.6h-1.6zM247.1 89h1.6v1.6h-1.6zM229 39.3h1.6v1.6h-1.6zM240 45h1.6v1.6h-1.6zM253.6 89.9h1.6v1.6h-1.6zM228.9 71.4h1.6v1.6h-1.6zM234.3 48.9h1.6v1.6h-1.6zM250.5 91.5h1.6v1.6h-1.6zM221.7 78.5h1.6v1.6h-1.6zM221.4 37.8h1.6v1.6h-1.6zM226.1 43.7h1.6v1.6h-1.6zM235.7 55.9h1.6v1.6h-1.6zM222.8 51.5h1.6v1.6h-1.6zM231.5 45.7h1.6v1.6h-1.6zM226.4 88.2h1.6v1.6h-1.6zM229.6 91.8h1.6v1.6h-1.6zM220.6 40.7h1.6v1.6h-1.6zM220.6 53h1.6v1.6h-1.6zM247.7 75.4h1.6v1.6h-1.6zM233.3 38.7h1.6v1.6h-1.6zM232.2 91.4h1.6v1.6h-1.6zM244.7 58.3h1.6v1.6h-1.6zM236.3 89.9h1.6v1.6h-1.6zM249.8 86.9h1.6v1.6h-1.6zM241.1 54.1h1.6v1.6h-1.6zM242.4 87.1h1.6v1.6h-1.6zM224.3 36.2h1.6v1.6h-1.6zM244.4 58.9h1.6v1.6h-1.6zM237.4 58.7h1.6v1.6h-1.6zM236.4 75.3h1.6v1.6h-1.6zM236.8 50.6h1.6v1.6h-1.6zM219.1 38.1h1.6v1.6h-1.6zM220.8 64.8h1.6v1.6h-1.6zM243.1 88.9h1.6v1.6h-1.6zM221.4 40.7h1.6v1.6h-1.6zM224.1 62.1h1.6v1.6h-1.6zM222.2 79.8h1.6v1.6h-1.6zM240.4 64.7h1.6v1.6h-1.6zM240.6 77.6h1.6v1.6h-1.6zM238.3 81.2h1.6v1.6h-1.6zM243 97.1h1.6v1.6h-1.6zM222.1 94.2h1.6v1.6h-1.6zM251.9 98.5h1.6v1.6h-1.6zM246 90h1.6v1.6h-1.6zM250.5 102.5h1.6v1.6h-1.6zM245.6 88.7h1.6v1.6h-1.6zM226.1 92.2h1.6v1.6h-1.6zM225.8 89.4h1.6v1.6h-1.6zM247.9 88.6h1.6v1.6h-1.6zM232.3 91.4h1.6v1.6h-1.6zM249.2 101.2h1.6v1.6h-1.6zM254 91.3h1.6v1.6h-1.6zM229.4 98.7h1.6v1.6h-1.6zM244.8 93.3h1.6v1.6h-1.6z"/>
<path fill="#14e0f2" d="M217.1 121.6h1.6v1.6h-1.6zM211.4 56.3h1.6v1.6h-1.6zM211.7 113.6h1.6v1.6h-1.6zM211 78.2h1.6v1.6h-1.6zM211.8 90.7h1.6v1.6h-1.6zM211.8 92.9h1.6v1.6h-1.6zM215.8 72.1h1.6v1.6h-1.6zM210.9 44.6h1.6v1.6h-1.6zM217.4 107.4h1.6v1.6h-1.6zM217 101.1h1.6v1.6h-1.6zM213.9 47.5h1.6v1.6h-1.6zM212 89.1h1.6v1.6h-1.6zM213 94h1.6v1.6h-1.6zM214.4 115.4h1.6v1.6h-1.6zM220.3 103.7h1.6v1.6h-1.6zM216.1 77.5h1.6v1.6h-1.6zM216.5 140h1.6v1.6h-1.6zM218.3 56.9h1.6v1.6h-1.6zM212 117.1h1.6v1.6h-1.6zM216.9 142h1.6v1.6h-1.6zM213.8 120.4h1.6v1.6h-1.6zM217.9 106.9h1.6v1.6h-1.6zM213.8 107.1h1.6v1.6h-1.6zM212.1 139.9h1.6v1.6h-1.6zM214.5 51.5h1.6v1.6h-1.6zM216.4 57h1.6v1.6h-1.6zM209.9 141.3h1.6v1.6h-1.6zM210.5 123.3h1.6v1.6h-1.6zM211.7 38.5h1.6v1.6h-1.6zM212.1 86.5h1.6v1.6h-1.6zM210.5 93.7h1.6v1.6h-1.6zM216.6 89.6h1.6v1.6h-1.6zM211.1 108.7h1.6v1.6h-1.6zM212.7 102.4h1.6v1.6h-1.6zM212.9 131.4h1.6v1.6h-1.6zM216.3 56.8h1.6v1.6h-1.6zM212.8 65.8h1.6v1.6h-1.6zM210.1 120.7h1.6v1.6h-1.6zM210.8 122.3h1.6v1.6h-1.6zM211.2 52.7h1.6v1.6h-1.6zM215.2 68.8h1.6v1.6h-1.6zM215.5 123h1.6v1.6h-1.6zM216.3 77.6h1.6v1.6h-1.6zM216.2 131.3h1.6v1.6h-1.6zM209.9 135.8h1.6v1.6h-1.6zM214.3 67.8h1.6v1.6h-1.6zM215.7 82.2h1.6v1.6h-1.6zM217.9 69.6h1.6v1.6h-1.6zM220.5 97h1.6v1.6h-1.6zM213.8 50h1.6v1.6h-1.6zM212.5 40h1.6v1.6h-1.6zM215.7 80h1.6v1.6h-1.6zM217.6 106.5h1.6v1.6h-1.6zM215.5 80.2h1.6v1.6h-1.6zM216.8 104.9h1.6v1.6h-1.6zM215.6 91.7h1.6v1.6h-1.6zM214.3 99.1h1.6v1.6h-1.6zM216.4 107.2h1.6v1.6h-1.6zM212.4 46.3h1.6v1.6h-1.6zM213.2 39.8h1.6v1.6h-1.6zM214.4 79.6h1.6v1.6h-1.6zM214 90.8h1.6v1.6h-1.6zM214 72h1.6v1.6h-1.6zM214.6 97.1h1.6v1.6h-1.6zM216.2 97.7h1.6v1.6h-1.6zM216.1 99.5h1.6v1.6h-1.6zM214.3 96.5h1.6v1.6h-1.6zM217.3 99.5h1.6v1.6h-1.6zM215.4 95.1h1.6v1.6h-1.6zM212.9 55.7h1.6v1.6h-1.6zM214 95.6h1.6v1.6h-1.6zM214.7 55.7h1.6v1.6h-1.6zM211.9 61h1.6v1.6h-1.6zM211.7 53h1.6v1.6h-1.6zM214.3 78h1.6v1.6h-1.6zM216.1 83.9h1.6v1.6h-1.6zM213.5 61.6h1.6v1.6h-1.6zM214.1 93.4h1.6v1.6h-1.6zM214.9 78.1h1.6v1.6h-1.6zM212.7 47.9h1.6v1.6h-1.6zM212.9 57.5h1.6v1.6h-1.6zM214.2 51h1.6v1.6h-1.6zM213.8 42.4h1.6v1.6h-1.6zM215 81.8h1.6v1.6h-1.6zM213.9 46.3h1.6v1.6h-1.6zM212.3 58.5h1.6v1.6h-1.6zM215.8 78.7h1.6v1.6h-1.6zM215.2 96.5h1.6v1.6h-1.6zM216.9 92h1.6v1.6h-1.6zM212.7 66.9h1.6v1.6h-1.6zM211.1 43.2h1.6v1.6h-1.6zM211.5 48.4h1.6v1.6h-1.6zM212.2 48.6h1.6v1.6h-1.6zM210.8 41.2h1.6v1.6h-1.6zM212.7 72.2h1.6v1.6h-1.6zM213.9 96.1h1.6v1.6h-1.6zM213.7 84.9h1.6v1.6h-1.6zM215 74.1h1.6v1.6h-1.6zM216.6 96h1.6v1.6h-1.6zM216 104.4h1.6v1.6h-1.6zM213.9 78.3h1.6v1.6h-1.6zM212.9 64h1.6v1.6h-1.6zM211.9 56h1.6v1.6h-1.6zM213.1 53.6h1.6v1.6h-1.6zM216.5 91.2h1.6v1.6h-1.6zM216.3 91.6h1.6v1.6h-1.6zM215.6 73.1h1.6v1.6h-1.6zM212.8 52.5h1.6v1.6h-1.6zM216.2 78.3h1.6v1.6h-1.6zM216 80.3h1.6v1.6h-1.6zM213.7 41.6h1.6v1.6h-1.6zM212.1 60.1h1.6v1.6h-1.6zM215 76.7h1.6v1.6h-1.6zM216.3 79.1h1.6v1.6h-1.6zM212 40.2h1.6v1.6h-1.6zM215.3 87.2h1.6v1.6h-1.6zM217 95.2h1.6v1.6h-1.6zM215.3 64.6h1.6v1.6h-1.6zM216.5 100.4h1.6v1.6h-1.6zM211.3 36.5h1.6v1.6h-1.6zM216.3 105.3h1.6v1.6h-1.6zM210.7 68.2h1.6v1.6h-1.6zM210.6 77.7h1.6v1.6h-1.6zM209.9 86.5h1.6v1.6h-1.6zM224.6 54.1h1.6v1.6h-1.6zM222.6 69.8h1.6v1.6h-1.6zM233.3 69.5h1.6v1.6h-1.6zM247 62.9h1.6v1.6h-1.6zM233.8 81.8h1.6v1.6h-1.6zM244.4 55.7h1.6v1.6h-1.6zM228.7 62h1.6v1.6h-1.6zM236.5 87.4h1.6v1.6h-1.6zM249.5 79.8h1.6v1.6h-1.6zM234.1 63.7h1.6v1.6h-1.6zM223.8 77h1.6v1.6h-1.6zM247 91.2h1.6v1.6h-1.6zM226.5 81.4h1.6v1.6h-1.6zM226.1 71.5h1.6v1.6h-1.6zM231 54.8h1.6v1.6h-1.6zM247 75.4h1.6v1.6h-1.6zM227.8 36h1.6v1.6h-1.6zM248.2 73.8h1.6v1.6h-1.6zM222.9 72.1h1.6v1.6h-1.6zM238.4 74.8h1.6v1.6h-1.6zM220 44.9h1.6v1.6h-1.6zM225.4 73h1.6v1.6h-1.6zM221.9 49.4h1.6v1.6h-1.6zM244.9 76.4h1.6v1.6h-1.6zM244.1 66h1.6v1.6h-1.6zM221.9 74.9h1.6v1.6h-1.6zM226.6 51.8h1.6v1.6h-1.6zM220.6 60.5h1.6v1.6h-1.6zM246.1 65.2h1.6v1.6h-1.6zM228.8 85.7h1.6v1.6h-1.6zM234.9 42.8h1.6v1.6h-1.6zM230.2 44.1h1.6v1.6h-1.6zM240.1 82.8h1.6v1.6h-1.6zM231.5 46h1.6v1.6h-1.6zM220.7 66.2h1.6v1.6h-1.6zM230.8 58.4h1.6v1.6h-1.6zM242.1 75.5h1.6v1.6h-1.6zM227.3 89.4h1.6v1.6h-1.6zM238.3 42.1h1.6v1.6h-1.6zM244.8 81h1.6v1.6h-1.6zM231.4 47.1h1.6v1.6h-1.6zM226 89.8h1.6v1.6h-1.6zM237.9 63.4h1.6v1.6h-1.6zM240.4 62.9h1.6v1.6h-1.6zM233.7 48h1.6v1.6h-1.6zM229.7 42.5h1.6v1.6h-1.6zM223.9 68.7h1.6v1.6h-1.6zM233.3 71.5h1.6v1.6h-1.6zM231.3 49.2h1.6v1.6h-1.6zM229.2 40.2h1.6v1.6h-1.6zM223.7 38.7h1.6v1.6h-1.6zM248.1 63.5h1.6v1.6h-1.6zM229.6 89.3h1.6v1.6h-1.6zM220.6 62h1.6v1.6h-1.6zM232 82.7h1.6v1.6h-1.6zM225.3 54.6h1.6v1.6h-1.6zM239.1 86.4h1.6v1.6h-1.6zM235.2 90.9h1.6v1.6h-1.6zM249.7 86.7h1.6v1.6h-1.6zM237.9 66.9h1.6v1.6h-1.6zM228.1 69.7h1.6v1.6h-1.6zM237.5 82.9h1.6v1.6h-1.6zM243.3 67.4h1.6v1.6h-1.6zM227.5 45.1h1.6v1.6h-1.6zM231.1 66h1.6v1.6h-1.6zM224.6 46.9h1.6v1.6h-1.6zM242.7 52.6h1.6v1.6h-1.6zM241.8 59.6h1.6v1.6h-1.6zM225.7 75.6h1.6v1.6h-1.6zM219.4 40.6h1.6v1.6h-1.6zM235.3 59.9h1.6v1.6h-1.6zM227.4 82.2h1.6v1.6h-1.6zM222.3 80.6h1.6v1.6h-1.6zM224.9 85.2h1.6v1.6h-1.6zM249.8 74.5h1.6v1.6h-1.6zM250.4 87.1h1.6v1.6h-1.6zM243.6 60h1.6v1.6h-1.6zM221.6 79.1h1.6v1.6h-1.6zM233.9 80.9h1.6v1.6h-1.6zM222.1 41.2h1.6v1.6h-1.6zM220.9 45.2h1.6v1.6h-1.6zM230.6 55.3h1.6v1.6h-1.6zM230.2 58.2h1.6v1.6h-1.6zM238.4 62.7h1.6v1.6h-1.6zM243 80.2h1.6v1.6h-1.6zM233.7 91h1.6v1.6h-1.6zM241.8 51.9h1.6v1.6h-1.6zM237.3 37.1h1.6v1.6h-1.6zM228.4 70h1.6v1.6h-1.6zM243.2 49h1.6v1.6h-1.6zM227.7 53.8h1.6v1.6h-1.6zM227.1 83.7h1.6v1.6h-1.6zM238.4 78.1h1.6v1.6h-1.6zM231 51.5h1.6v1.6h-1.6zM244.4 79.2h1.6v1.6h-1.6zM239.9 57.4h1.6v1.6h-1.6zM230.9 40.8h1.6v1.6h-1.6zM235 50.4h1.6v1.6h-1.6zM229.5 59.6h1.6v1.6h-1.6zM237.3 67.2h1.6v1.6h-1.6zM232.2 77.9h1.6v1.6h-1.6zM228.3 47.8h1.6v1.6h-1.6zM221.8 47.8h1.6v1.6h-1.6zM253.4 87.3h1.6v1.6h-1.6zM228.7 50h1.6v1.6h-1.6zM244.8 67.1h1.6v1.6h-1.6zM229.1 64.3h1.6v1.6h-1.6zM227.5 80.6h1.6v1.6h-1.6zM222.7 78.8h1.6v1.6h-1.6zM232.8 41.4h1.6v1.6h-1.6zM246.9 79.6h1.6v1.6h-1.6zM222.6 73.5h1.6v1.6h-1.6zM251.1 86.6h1.6v1.6h-1.6zM220.7 50.1h1.6v1.6h-1.6zM226.9 54.9h1.6v1.6h-1.6zM240.9 77.2h1.6v1.6h-1.6zM242.9 54.1h1.6v1.6h-1.6zM234.2 48.6h1.6v1.6h-1.6zM238.2 73.3h1.6v1.6h-1.6zM251.8 83.9h1.6v1.6h-1.6zM245.2 53.2h1.6v1.6h-1.6zM220.8 65.9h1.6v1.6h-1.6zM236.4 88.2h1.6v1.6h-1.6zM230.8 45.9h1.6v1.6h-1.6zM242.6 51.9h1.6v1.6h-1.6zM226.3 36.3h1.6v1.6h-1.6zM223 88.7h1.6v1.6h-1.6zM234.2 84.2h1.6v1.6h-1.6zM236.4 60.1h1.6v1.6h-1.6zM232.2 91.4h1.6v1.6h-1.6zM239.8 57.6h1.6v1.6h-1.6zM221.2 65.3h1.6v1.6h-1.6zM220.4 59.8h1.6v1.6h-1.6zM248.2 81.1h1.6v1.6h-1.6zM221.4 59.6h1.6v1.6h-1.6zM222.2 60.2h1.6v1.6h-1.6zM223 63.5h1.6v1.6h-1.6zM222.8 51.7h1.6v1.6h-1.6zM218.4 39.2h1.6v1.6h-1.6zM219.2 42h1.6v1.6h-1.6zM222 73.2h1.6v1.6h-1.6zM221 58.8h1.6v1.6h-1.6zM224.2 51.1h1.6v1.6h-1.6zM219.9 48.4h1.6v1.6h-1.6zM223.1 52.4h1.6v1.6h-1.6zM224.9 77.1h1.6v1.6h-1.6zM221.4 45.8h1.6v1.6h-1.6zM224.2 73.9h1.6v1.6h-1.6zM218.8 46.4h1.6v1.6h-1.6zM223.9 42.3h1.6v1.6h-1.6zM220.8 40.6h1.6v1.6h-1.6zM225.3 88.5h1.6v1.6h-1.6zM224.8 82.4h1.6v1.6h-1.6zM223.2 54.5h1.6v1.6h-1.6zM223.3 54.3h1.6v1.6h-1.6zM221.5 39h1.6v1.6h-1.6zM222.6 56h1.6v1.6h-1.6zM224.2 57.4h1.6v1.6h-1.6zM222.3 37.9h1.6v1.6h-1.6zM225.2 57.8h1.6v1.6h-1.6zM224.1 47.2h1.6v1.6h-1.6zM224.2 78h1.6v1.6h-1.6zM225.3 71h1.6v1.6h-1.6zM224 70.3h1.6v1.6h-1.6zM222 37.5h1.6v1.6h-1.6zM225.5 58.3h1.6v1.6h-1.6zM224.6 44.3h1.6v1.6h-1.6zM220.9 72.1h1.6v1.6h-1.6zM225.9 68.3h1.6v1.6h-1.6zM226.3 87.6h1.6v1.6h-1.6zM222.2 54.7h1.6v1.6h-1.6zM221.1 54.8h1.6v1.6h-1.6zM226.1 87h1.6v1.6h-1.6zM223.8 36.6h1.6v1.6h-1.6zM220.5 51.7h1.6v1.6h-1.6zM224.7 54.2h1.6v1.6h-1.6zM223.5 68.6h1.6v1.6h-1.6zM222.9 50.3h1.6v1.6h-1.6zM223.6 53.2h1.6v1.6h-1.6zM222.7 49.3h1.6v1.6h-1.6zM226.8 87.3h1.6v1.6h-1.6zM223.9 74.5h1.6v1.6h-1.6zM225.4 83.7h1.6v1.6h-1.6zM226.3 86.6h1.6v1.6h-1.6zM220.5 58.4h1.6v1.6h-1.6zM223.7 62.9h1.6v1.6h-1.6zM239.3 101.5h1.6v1.6h-1.6zM244.4 97.3h1.6v1.6h-1.6zM235.5 93h1.6v1.6h-1.6zM232.8 99.7h1.6v1.6h-1.6zM244.1 107h1.6v1.6h-1.6zM233.9 90.4h1.6v1.6h-1.6zM232.6 97.2h1.6v1.6h-1.6zM252 92h1.6v1.6h-1.6zM223.2 90.2h1.6v1.6h-1.6zM247 106.4h1.6v1.6h-1.6zM230.9 90.9h1.6v1.6h-1.6zM254.8 98.3h1.6v1.6h-1.6zM234.9 104h1.6v1.6h-1.6zM233 90.1h1.6v1.6h-1.6zM242.3 105.1h1.6v1.6h-1.6zM242.1 88.2h1.6v1.6h-1.6zM253.5 95.6h1.6v1.6h-1.6zM233.1 96.2h1.6v1.6h-1.6zM249.7 105.1h1.6v1.6h-1.6zM224.9 93.9h1.6v1.6h-1.6zM253.7 94.7h1.6v1.6h-1.6zM247.5 91.6h1.6v1.6h-1.6zM248.9 102.3h1.6v1.6h-1.6zM230 101h1.6v1.6h-1.6zM227.5 93.1h1.6v1.6h-1.6zM255.9 107.4h1.6v1.6h-1.6zM247.8 109.3h1.6v1.6h-1.6zM239.8 88.6h1.6v1.6h-1.6zM254.4 96.3h1.6v1.6h-1.6zM248.6 97.8h1.6v1.6h-1.6zM255.6 95.3h1.6v1.6h-1.6zM249.5 92.9h1.6v1.6h-1.6zM240 106.5h1.6v1.6h-1.6zM237.7 89.4h1.6v1.6h-1.6zM253.9 99.6h1.6v1.6h-1.6zM242.3 107.2h1.6v1.6h-1.6zM251.8 99.9h1.6v1.6h-1.6zM240.3 96h1.6v1.6h-1.6zM245 104h1.6v1.6h-1.6zM248.7 94.1h1.6v1.6h-1.6zM240.3 94h1.6v1.6h-1.6zM245.5 93.6h1.6v1.6h-1.6zM253.2 101.4h1.6v1.6h-1.6zM245.9 89h1.6v1.6h-1.6zM236.9 99.4h1.6v1.6h-1.6zM226.6 96.5h1.6v1.6h-1.6zM243.9 90.8h1.6v1.6h-1.6zM224.2 95.4h1.6v1.6h-1.6zM242.9 95h1.6v1.6h-1.6zM251.9 96.2h1.6v1.6h-1.6zM226.2 91.7h1.6v1.6h-1.6zM244.9 96.8h1.6v1.6h-1.6zM255.1 92.6h1.6v1.6h-1.6zM241.1 95.7h1.6v1.6h-1.6zM253.6 98.5h1.6v1.6h-1.6zM241.9 107.2h1.6v1.6h-1.6zM237.6 104.7h1.6v1.6h-1.6zM253.6 106.7h1.6v1.6h-1.6zM248 107.4h1.6v1.6h-1.6zM234.3 89.3h1.6v1.6h-1.6zM248 88.5h1.6v1.6h-1.6zM248.6 109.6h1.6v1.6h-1.6zM230.4 94.3h1.6v1.6h-1.6zM257.4 98.4h1.6v1.6h-1.6zM227.7 88.2h1.6v1.6h-1.6zM253.6 107.6h1.6v1.6h-1.6zM245 104.3h1.6v1.6h-1.6zM257.4 101.6h1.6v1.6h-1.6zM244.1 101.4h1.6v1.6h-1.6zM237 97.3h1.6v1.6h-1.6zM230.2 100.2h1.6v1.6h-1.6zM235.3 97.5h1.6v1.6h-1.6zM257.3 97h1.6v1.6h-1.6zM236 89.8h1.6v1.6h-1.6zM235.8 97.7h1.6v1.6h-1.6zM237 100h1.6v1.6h-1.6zM240.3 93.7h1.6v1.6h-1.6zM235.4 96.7h1.6v1.6h-1.6zM248 97h1.6v1.6h-1.6zM227.6 91.4h1.6v1.6h-1.6zM234.8 90.5h1.6v1.6h-1.6zM256.2 100.4h1.6v1.6h-1.6zM255.6 92.4h1.6v1.6h-1.6zM231 98.7h1.6v1.6h-1.6zM240.2 102h1.6v1.6h-1.6zM236.5 90.4h1.6v1.6h-1.6zM247.2 98.7h1.6v1.6h-1.6zM231.3 100.2h1.6v1.6h-1.6zM237.9 91.5h1.6v1.6h-1.6zM231.7 96h1.6v1.6h-1.6zM252.4 100h1.6v1.6h-1.6zM252.5 98.2h1.6v1.6h-1.6zM247.4 107.1h1.6v1.6h-1.6zM242.4 90.8h1.6v1.6h-1.6zM241.4 100.9h1.6v1.6h-1.6zM234.2 98.6h1.6v1.6h-1.6zM242.1 104.6h1.6v1.6h-1.6zM252.1 106.7h1.6v1.6h-1.6zM244.5 93.3h1.6v1.6h-1.6zM225.7 90.8h1.6v1.6h-1.6zM230.6 95h1.6v1.6h-1.6zM239.6 96.8h1.6v1.6h-1.6zM229 93.4h1.6v1.6h-1.6zM255.2 105.4h1.6v1.6h-1.6zM249.2 88.9h1.6v1.6h-1.6zM224.6 95.4h1.6v1.6h-1.6zM253 96.5h1.6v1.6h-1.6zM245.7 93.1h1.6v1.6h-1.6zM246.3 108.5h1.6v1.6h-1.6zM244.9 94.4h1.6v1.6h-1.6zM247.4 92.4h1.6v1.6h-1.6zM226 96.3h1.6v1.6h-1.6zM235 99.1h1.6v1.6h-1.6zM248.8 100.3h1.6v1.6h-1.6zM225.2 94.2h1.6v1.6h-1.6zM252.6 100h1.6v1.6h-1.6zM253.3 107.1h1.6v1.6h-1.6zM253.3 89.4h1.6v1.6h-1.6zM249.3 103.7h1.6v1.6h-1.6zM256.1 98.5h1.6v1.6h-1.6zM255.3 100h1.6v1.6h-1.6zM253.4 90.1h1.6v1.6h-1.6zM236.8 103.6h1.6v1.6h-1.6zM226.7 93.8h1.6v1.6h-1.6zM245.6 108.4h1.6v1.6h-1.6zM242.5 100.8h1.6v1.6h-1.6zM244.2 100.9h1.6v1.6h-1.6zM256.4 91.9h1.6v1.6h-1.6zM223.4 90.1h1.6v1.6h-1.6zM241.6 95.6h1.6v1.6h-1.6zM239.3 88.2h1.6v1.6h-1.6zM237.1 90.7h1.6v1.6h-1.6zM255.5 104.3h1.6v1.6h-1.6zM238.4 102.9h1.6v1.6h-1.6zM252.8 95.4h1.6v1.6h-1.6zM237.2 99.2h1.6v1.6h-1.6zM255.9 89.1h1.6v1.6h-1.6zM245.1 106.7h1.6v1.6h-1.6zM231.3 91.7h1.6v1.6h-1.6zM235.9 97.8h1.6v1.6h-1.6zM252 92.8h1.6v1.6h-1.6zM239.7 101.7h1.6v1.6h-1.6zM231.7 92.2h1.6v1.6h-1.6zM251.7 107.8h1.6v1.6h-1.6zM225.3 96.1h1.6v1.6h-1.6zM253.2 99.2h1.6v1.6h-1.6zM257.2 104.6h1.6v1.6h-1.6zM249.4 106.1h1.6v1.6h-1.6zM231.5 101.3h1.6v1.6h-1.6zM225.6 97.1h1.6v1.6h-1.6zM233.3 98.8h1.6v1.6h-1.6zM233.8 102.3h1.6v1.6h-1.6zM247.8 101.4h1.6v1.6h-1.6zM229.7 95.4h1.6v1.6h-1.6zM248 93.6h1.6v1.6h-1.6z"/>
<path fill="#14eea4" d="M213.5 142.1h1.6v1.6h-1.6zM217.9 144.2h1.6v1.6h-1.6zM219.1 87h1.6v1.6h-1.6zM210.7 41.6h1.6v1.6h-1.6zM219.6 84.1h1.6v1.6h-1.6zM210.5 65.7h1.6v1.6h-1.6zM215.9 129.8h1.6v1.6h-1.6zM211.4 75.1h1.6v1.6h-1.6zM211.6 38h1.6v1.6h-1.6zM212.5 97.4h1.6v1.6h-1.6zM215.1 47.1h1.6v1.6h-1.6zM210.1 144h1.6v1.6h-1.6zM211.2 86.4h1.6v1.6h-1.6zM215.4 92h1.6v1.6h-1.6zM214.1 138.6h1.6v1.6h-1.6zM214 50h1.6v1.6h-1.6zM217.7 105.4h1.6v1.6h-1.6zM214.2 65.8h1.6v1.6h-1.6zM214.5 90.6h1.6v1.6h-1.6zM215.5 86.4h1.6v1.6h-1.6zM214.9 95.5h1.6v1.6h-1.6zM217.3 104h1.6v1.6h-1.6zM215.9 103.6h1.6v1.6h-1.6zM211.8 42.8h1.6v1.6h-1.6zM212.4 45.7h1.6v1.6h-1.6zM214.3 53.7h1.6v1.6h-1.6zM211.4 42.7h1.6v1.6h-1.6zM213.6 86.3h1.6v1.6h-1.6zM216.6 87.6h1.6v1.6h-1.6zM213.9 81.2h1.6v1.6h-1.6zM215 68.1h1.6v1.6h-1.6zM211.6 51.5h1.6v1.6h-1.6zM214.2 82.4h1.6v1.6h-1.6zM214.2 76.4h1.6v1.6h-1.6zM213.9 76.8h1.6v1.6h-1.6zM216.2 97.8h1.6v1.6h-1.6zM212.5 52.9h1.6v1.6h-1.6zM214.1 48.5h1.6v1.6h-1.6zM214.2 61.7h1.6v1.6h-1.6zM214.1 90.1h1.6v1.6h-1.6zM212.8 61.5h1.6v1.6h-1.6zM213.3 75.3h1.6v1.6h-1.6zM215.3 106h1.6v1.6h-1.6zM213.9 59.3h1.6v1.6h-1.6zM216.1 103.1h1.6v1.6h-1.6zM212 47.9h1.6v1.6h-1.6zM215.2 95.8h1.6v1.6h-1.6zM211.3 37.4h1.6v1.6h-1.6zM213.3 54h1.6v1.6h-1.6zM216.6 86.6h1.6v1.6h-1.6zM214.9 109.5h1.6v1.6h-1.6zM213.9 98.4h1.6v1.6h-1.6zM213.8 73.4h1.6v1.6h-1.6zM216.7 92.7h1.6v1.6h-1.6zM211.5 38.1h1.6v1.6h-1.6zM215 62.2h1.6v1.6h-1.6zM216.2 87.7h1.6v1.6h-1.6zM212.5 38.3h1.6v1.6h-1.6zM215.4 104.6h1.6v1.6h-1.6zM216.4 105.3h1.6v1.6h-1.6zM215.1 75.5h1.6v1.6h-1.6zM213.9 60.8h1.6v1.6h-1.6zM216.9 92.5h1.6v1.6h-1.6zM215.9 98.7h1.6v1.6h-1.6zM212.6 40.1h1.6v1.6h-1.6zM212.7 59.7h1.6v1.6h-1.6zM215.1 83.8h1.6v1.6h-1.6zM213.4 57.4h1.6v1.6h-1.6zM216.4 84h1.6v1.6h-1.6zM211 77.6h1.6v1.6h-1.6zM210.2 38.7h1.6v1.6h-1.6zM210.1 89.5h1.6v1.6h-1.6z"/>
<path fill="#6ae2f4" d="M216.9 92.7h1.6v1.6h-1.6zM215.1 60.5h1.6v1.6h-1.6zM214.4 72.7h1.6v1.6h-1.6zM216.9 98.7h1.6v1.6h-1.6zM211.7 44h1.6v1.6h-1.6zM214.9 100.2h1.6v1.6h-1.6zM212.2 66.1h1.6v1.6h-1.6zM214.7 92.8h1.6v1.6h-1.6zM213.7 77.7h1.6v1.6h-1.6zM213.6 37.9h1.6v1.6h-1.6zM212.6 70.7h1.6v1.6h-1.6zM211.1 40.6h1.6v1.6h-1.6zM214.8 99.7h1.6v1.6h-1.6zM216.1 80.7h1.6v1.6h-1.6zM213.6 62.1h1.6v1.6h-1.6zM216.1 94.5h1.6v1.6h-1.6zM214.3 90.2h1.6v1.6h-1.6zM216.9 89.1h1.6v1.6h-1.6zM216.1 101.9h1.6v1.6h-1.6zM213.7 74.5h1.6v1.6h-1.6zM217.3 99.9h1.6v1.6h-1.6zM213 79h1.6v1.6h-1.6zM215.2 103h1.6v1.6h-1.6zM215.7 107.7h1.6v1.6h-1.6zM215.2 93.7h1.6v1.6h-1.6zM212.4 39.3h1.6v1.6h-1.6zM214.2 49.1h1.6v1.6h-1.6zM214 47.8h1.6v1.6h-1.6zM213.5 41.4h1.6v1.6h-1.6zM212 58.8h1.6v1.6h-1.6zM214.2 64h1.6v1.6h-1.6zM235.7 101.9h1.6v1.6h-1.6zM228.8 91.6h1.6v1.6h-1.6zM231 97.4h1.6v1.6h-1.6zM232.7 95h1.6v1.6h-1.6zM246.8 98.5h1.6v1.6h-1.6zM255.1 94.7h1.6v1.6h-1.6zM223 94.3h1.6v1.6h-1.6zM244.2 100.4h1.6v1.6h-1.6zM239.7 95.9h1.6v1.6h-1.6zM251.7 101.2h1.6v1.6h-1.6zM230.4 93.7h1.6v1.6h-1.6zM254.4 100.9h1.6v1.6h-1.6zM244.5 88.2h1.6v1.6h-1.6zM250.7 90.2h1.6v1.6h-1.6zM242.4 90h1.6v1.6h-1.6zM253.5 108.5h1.6v1.6h-1.6zM240.7 88.2h1.6v1.6h-1.6zM254.5 97.3h1.6v1.6h-1.6zM237.5 101.5h1.6v1.6h-1.6zM256.9 96.3h1.6v1.6h-1.6zM255.6 94.2h1.6v1.6h-1.6zM243.1 103.2h1.6v1.6h-1.6zM248.1 95.3h1.6v1.6h-1.6zM252.4 88.2h1.6v1.6h-1.6zM255.3 92.5h1.6v1.6h-1.6zM255.1 97.8h1.6v1.6h-1.6zM225.7 94.9h1.6v1.6h-1.6zM231.2 97.5h1.6v1.6h-1.6zM245.6 108.8h1.6v1.6h-1.6zM235.1 91.3h1.6v1.6h-1.6zM238.3 98.5h1.6v1.6h-1.6zM242.8 106.9h1.6v1.6h-1.6zM244.5 97h1.6v1.6h-1.6zM246.1 93.4h1.6v1.6h-1.6zM248.8 92.3h1.6v1.6h-1.6zM248.2 105.2h1.6v1.6h-1.6zM235.1 95.3h1.6v1.6h-1.6z"/>
<path fill="#10e010" d="M214.3 66.1h1.6v1.6h-1.6zM215.3 67.2h1.6v1.6h-1.6zM215.1 104.1h1.6v1.6h-1.6zM216.3 89.7h1.6v1.6h-1.6zM215.7 92.5h1.6v1.6h-1.6zM215.9 97h1.6v1.6h-1.6zM215.3 92.7h1.6v1.6h-1.6zM213.1 45.4h1.6v1.6h-1.6zM213.7 48.3h1.6v1.6h-1.6zM215.2 89.5h1.6v1.6h-1.6zM214.7 93.8h1.6v1.6h-1.6zM214.2 65.7h1.6v1.6h-1.6zM213.5 43.5h1.6v1.6h-1.6zM213 73.3h1.6v1.6h-1.6zM214.6 65.5h1.6v1.6h-1.6zM214 48.9h1.6v1.6h-1.6zM213.3 51.6h1.6v1.6h-1.6zM211.7 48h1.6v1.6h-1.6zM214.5 85.2h1.6v1.6h-1.6zM214.4 56.6h1.6v1.6h-1.6zM212.8 49.1h1.6v1.6h-1.6zM214.1 81.8h1.6v1.6h-1.6zM216.4 96.8h1.6v1.6h-1.6zM214.5 67.7h1.6v1.6h-1.6zM214.5 77.5h1.6v1.6h-1.6zM214.5 102.9h1.6v1.6h-1.6zM216.5 89.1h1.6v1.6h-1.6zM210.3 102.2h1.6v1.6h-1.6zM211 117h1.6v1.6h-1.6zM210.5 102.6h1.6v1.6h-1.6zM209.9 75.9h1.6v1.6h-1.6zM210.7 80.7h1.6v1.6h-1.6zM210.8 103.2h1.6v1.6h-1.6zM210 69.2h1.6v1.6h-1.6zM211.3 81.4h1.6v1.6h-1.6zM210.7 117.3h1.6v1.6h-1.6zM210.1 70.4h1.6v1.6h-1.6zM210.8 70.6h1.6v1.6h-1.6zM210.8 119.7h1.6v1.6h-1.6zM211 48h1.6v1.6h-1.6zM211.2 85.6h1.6v1.6h-1.6z"/>
<path fill="#ffffff" d="M214 126.7h1.6v1.6h-1.6zM218.2 71.9h1.6v1.6h-1.6zM211.9 116h1.6v1.6h-1.6zM217.9 35.1h1.6v1.6h-1.6zM215.1 66.2h1.6v1.6h-1.6zM218.8 90h1.6v1.6h-1.6zM213.6 139.6h1.6v1.6h-1.6zM213.1 117.1h1.6v1.6h-1.6zM219.5 112.9h1.6v1.6h-1.6zM211.8 119.7h1.6v1.6h-1.6zM210.8 135.8h1.6v1.6h-1.6zM214 94.7h1.6v1.6h-1.6zM218.3 62.5h1.6v1.6h-1.6zM218 35.5h1.6v1.6h-1.6zM213.6 60.8h1.6v1.6h-1.6zM214.8 56h1.6v1.6h-1.6zM215.7 120.8h1.6v1.6h-1.6zM213.8 135h1.6v1.6h-1.6zM216.3 132.7h1.6v1.6h-1.6zM211.4 42.6h1.6v1.6h-1.6zM217 134.7h1.6v1.6h-1.6zM215.5 43.1h1.6v1.6h-1.6zM210.6 128.8h1.6v1.6h-1.6zM217.6 53.2h1.6v1.6h-1.6zM210.1 125.1h1.6v1.6h-1.6zM215.4 84h1.6v1.6h-1.6zM211.4 36.7h1.6v1.6h-1.6zM217.5 140.2h1.6v1.6h-1.6zM210.5 65.3h1.6v1.6h-1.6zM210.1 41h1.6v1.6h-1.6zM212.6 108.7h1.6v1.6h-1.6zM212.1 69.7h1.6v1.6h-1.6zM212.6 113.2h1.6v1.6h-1.6zM218.3 109.4h1.6v1.6h-1.6zM216.1 135.1h1.6v1.6h-1.6zM215.6 70.2h1.6v1.6h-1.6zM214 82.9h1.6v1.6h-1.6zM215 83.9h1.6v1.6h-1.6zM216.4 105.3h1.6v1.6h-1.6zM213.4 41.9h1.6v1.6h-1.6zM212.4 62.8h1.6v1.6h-1.6zM212.4 45.8h1.6v1.6h-1.6zM237.5 37.1h1.6v1.6h-1.6zM238.7 82.5h1.6v1.6h-1.6zM230.7 54.8h1.6v1.6h-1.6zM223.8 45.6h1.6v1.6h-1.6zM248.8 68.3h1.6v1.6h-1.6zM221.2 35.1h1.6v1.6h-1.6zM235.6 79.5h1.6v1.6h-1.6zM236 46.9h1.6v1.6h-1.6zM235.8 91.7h1.6v1.6h-1.6zM236.5 48.2h1.6v1.6h-1.6zM238.4 58h1.6v1.6h-1.6zM239 49.7h1.6v1.6h-1.6zM237.2 51.5h1.6v1.6h-1.6zM232.1 69.9h1.6v1.6h-1.6zM236.6 54h1.6v1.6h-1.6zM241.5 47.2h1.6v1.6h-1.6zM235.2 83.9h1.6v1.6h-1.6zM225.1 69.2h1.6v1.6h-1.6zM229.4 69.1h1.6v1.6h-1.6zM227.2 84.4h1.6v1.6h-1.6zM225.7 60.6h1.6v1.6h-1.6zM233 40.5h1.6v1.6h-1.6zM224.4 55.5h1.6v1.6h-1.6zM220.8 42.3h1.6v1.6h-1.6zM247.2 67.2h1.6v1.6h-1.6zM238.8 39h1.6v1.6h-1.6zM230.9 62.5h1.6v1.6h-1.6zM232.6 39.9h1.6v1.6h-1.6zM238.1 45h1.6v1.6h-1.6zM233.8 63.3h1.6v1.6h-1.6zM249.2 67.6h1.6v1.6h-1.6zM230.3 57.7h1.6v1.6h-1.6zM231.8 63.7h1.6v1.6h-1.6zM224.9 51.7h1.6v1.6h-1.6zM245.9 58.8h1.6v1.6h-1.6zM231.8 42.5h1.6v1.6h-1.6zM225.1 79.2h1.6v1.6h-1.6zM253.2 83.9h1.6v1.6h-1.6zM250.5 87.1h1.6v1.6h-1.6zM239.1 45.6h1.6v1.6h-1.6zM231.5 60.6h1.6v1.6h-1.6zM239.1 70.1h1.6v1.6h-1.6zM235.1 83.8h1.6v1.6h-1.6zM226.9 81.5h1.6v1.6h-1.6zM248 84.8h1.6v1.6h-1.6zM225.3 41h1.6v1.6h-1.6zM234.1 79h1.6v1.6h-1.6zM245.9 85.7h1.6v1.6h-1.6zM240.2 43.9h1.6v1.6h-1.6zM248.1 88h1.6v1.6h-1.6zM247.4 73.3h1.6v1.6h-1.6zM236.1 75.8h1.6v1.6h-1.6zM219.4 49.2h1.6v1.6h-1.6zM233.6 85.6h1.6v1.6h-1.6zM242.1 83.3h1.6v1.6h-1.6zM230.9 70.4h1.6v1.6h-1.6zM246.2 70h1.6v1.6h-1.6zM245.5 66.3h1.6v1.6h-1.6zM228.2 48.9h1.6v1.6h-1.6zM224.8 55.7h1.6v1.6h-1.6zM233 92h1.6v1.6h-1.6zM232.7 47.8h1.6v1.6h-1.6zM232.4 49.8h1.6v1.6h-1.6zM233.9 71.1h1.6v1.6h-1.6zM239.2 47.3h1.6v1.6h-1.6zM239.3 76.8h1.6v1.6h-1.6zM235.7 39h1.6v1.6h-1.6zM241.7 57h1.6v1.6h-1.6zM244.1 51.4h1.6v1.6h-1.6zM239.2 87.8h1.6v1.6h-1.6zM228.2 57.7h1.6v1.6h-1.6zM231.4 58.9h1.6v1.6h-1.6zM246.5 76.9h1.6v1.6h-1.6zM233.5 79h1.6v1.6h-1.6zM237 57.6h1.6v1.6h-1.6zM227 63.9h1.6v1.6h-1.6zM240.5 89h1.6v1.6h-1.6zM249.1 64.8h1.6v1.6h-1.6zM233.8 82.6h1.6v1.6h-1.6zM230.9 37.3h1.6v1.6h-1.6zM241.4 88.1h1.6v1.6h-1.6zM241 49h1.6v1.6h-1.6zM233.1 41.3h1.6v1.6h-1.6zM230 80.9h1.6v1.6h-1.6zM239.7 85h1.6v1.6h-1.6zM234.7 50.7h1.6v1.6h-1.6zM234.1 57.9h1.6v1.6h-1.6zM223.8 35.6h1.6v1.6h-1.6zM244.7 86.9h1.6v1.6h-1.6zM229 79h1.6v1.6h-1.6zM227.3 51.9h1.6v1.6h-1.6zM236.9 42.5h1.6v1.6h-1.6zM249.6 72.3h1.6v1.6h-1.6zM236.6 74.9h1.6v1.6h-1.6zM237.2 35.6h1.6v1.6h-1.6zM230.7 84.4h1.6v1.6h-1.6zM244.3 78.6h1.6v1.6h-1.6zM231.4 35.5h1.6v1.6h-1.6zM240.9 58h1.6v1.6h-1.6zM246.7 63.6h1.6v1.6h-1.6zM228.5 34.9h1.6v1.6h-1.6zM238.3 50h1.6v1.6h-1.6zM246 61.2h1.6v1.6h-1.6zM244.5 67.7h1.6v1.6h-1.6zM227.4 83.3h1.6v1.6h-1.6zM247.4 88.5h1.6v1.6h-1.6zM228.1 79.8h1.6v1.6h-1.6zM238.5 91.1h1.6v1.6h-1.6zM224.1 62.9h1.6v1.6h-1.6zM220.7 38.8h1.6v1.6h-1.6zM224.6 60.1h1.6v1.6h-1.6zM219.1 49.8h1.6v1.6h-1.6zM221.4 74.3h1.6v1.6h-1.6zM224.7 82.7h1.6v1.6h-1.6zM223.6 63.8h1.6v1.6h-1.6zM221.9 50.6h1.6v1.6h-1.6zM222.7 56.5h1.6v1.6h-1.6zM221.5 67.1h1.6v1.6h-1.6zM222.7 51.5h1.6v1.6h-1.6zM224.7 57h1.6v1.6h-1.6zM223.4 87.4h1.6v1.6h-1.6zM225 82.9h1.6v1.6h-1.6zM223.2 53.2h1.6v1.6h-1.6zM224.1 53.9h1.6v1.6h-1.6zM223.1 59.4h1.6v1.6h-1.6zM218.4 39.5h1.6v1.6h-1.6zM222 47.4h1.6v1.6h-1.6zM220 58.2h1.6v1.6h-1.6zM222.2 46.3h1.6v1.6h-1.6zM223.5 83.1h1.6v1.6h-1.6zM222.7 56.5h1.6v1.6h-1.6zM223 87h1.6v1.6h-1.6zM221 45.9h1.6v1.6h-1.6zM221.1 49.6h1.6v1.6h-1.6zM220.3 56.2h1.6v1.6h-1.6zM225.9 89.3h1.6v1.6h-1.6zM220.5 56.2h1.6v1.6h-1.6zM226 89h1.6v1.6h-1.6zM224.5 43.5h1.6v1.6h-1.6zM219.9 58.6h1.6v1.6h-1.6zM222.9 65.9h1.6v1.6h-1.6zM226.7 89.4h1.6v1.6h-1.6zM222.1 74.8h1.6v1.6h-1.6zM224.4 54.7h1.6v1.6h-1.6zM221 51h1.6v1.6h-1.6zM220.9 53.9h1.6v1.6h-1.6zM220.9 44.9h1.6v1.6h-1.6zM225.6 82.5h1.6v1.6h-1.6zM218.3 37.3h1.6v1.6h-1.6zM222.5 37.8h1.6v1.6h-1.6zM221 57.1h1.6v1.6h-1.6zM223.8 82.3h1.6v1.6h-1.6zM221.1 47.9h1.6v1.6h-1.6zM222.4 80.1h1.6v1.6h-1.6zM222.2 42.7h1.6v1.6h-1.6zM224.9 72.3h1.6v1.6h-1.6zM222 84h1.6v1.6h-1.6zM221.6 77.4h1.6v1.6h-1.6zM233.7 92.8h1.6v1.6h-1.6zM248 100.4h1.6v1.6h-1.6zM225.7 95.6h1.6v1.6h-1.6zM237.4 88.5h1.6v1.6h-1.6zM232.7 101.9h1.6v1.6h-1.6zM229.5 92.3h1.6v1.6h-1.6zM238.1 98.3h1.6v1.6h-1.6zM249.7 99.1h1.6v1.6h-1.6zM237.3 103h1.6v1.6h-1.6zM231.4 96.2h1.6v1.6h-1.6zM231.2 88.6h1.6v1.6h-1.6zM229.6 97.9h1.6v1.6h-1.6zM250 108.2h1.6v1.6h-1.6zM230.5 99.6h1.6v1.6h-1.6zM251.3 107.9h1.6v1.6h-1.6zM225.5 94.8h1.6v1.6h-1.6zM240.4 103.2h1.6v1.6h-1.6zM236.9 92.8h1.6v1.6h-1.6zM253 97.3h1.6v1.6h-1.6zM245.3 102.7h1.6v1.6h-1.6zM238.1 97.5h1.6v1.6h-1.6zM239 93h1.6v1.6h-1.6zM239.7 98.6h1.6v1.6h-1.6zM237.7 88.7h1.6v1.6h-1.6zM245.5 89h1.6v1.6h-1.6zM241.5 99.9h1.6v1.6h-1.6zM231.9 90.2h1.6v1.6h-1.6zM245.5 92.2h1.6v1.6h-1.6zM237.5 88.9h1.6v1.6h-1.6zM248.4 96.7h1.6v1.6h-1.6zM236 104.5h1.6v1.6h-1.6zM256.3 106.1h1.6v1.6h-1.6zM231.4 101.4h1.6v1.6h-1.6zM233.1 88.6h1.6v1.6h-1.6zM240.9 99.8h1.6v1.6h-1.6zM240.4 96h1.6v1.6h-1.6zM247.9 88.7h1.6v1.6h-1.6zM228.1 91.7h1.6v1.6h-1.6zM254.1 89.4h1.6v1.6h-1.6zM238.8 89h1.6v1.6h-1.6zM254.1 94.7h1.6v1.6h-1.6zM252.6 88.9h1.6v1.6h-1.6zM242 93.6h1.6v1.6h-1.6zM230.2 92.4h1.6v1.6h-1.6zM244.6 106.3h1.6v1.6h-1.6zM249.8 89.9h1.6v1.6h-1.6zM231.8 89.3h1.6v1.6h-1.6zM238.5 92h1.6v1.6h-1.6zM226.2 89.8h1.6v1.6h-1.6zM235.3 91.9h1.6v1.6h-1.6zM255.9 96h1.6v1.6h-1.6zM229.6 99.6h1.6v1.6h-1.6zM222.6 90.9h1.6v1.6h-1.6zM254.9 93.6h1.6v1.6h-1.6zM255.7 100.8h1.6v1.6h-1.6zM247.9 103.1h1.6v1.6h-1.6zM238.4 91.6h1.6v1.6h-1.6zM245.3 100.6h1.6v1.6h-1.6zM223.6 91.9h1.6v1.6h-1.6zM225.3 97.3h1.6v1.6h-1.6zM251.9 92h1.6v1.6h-1.6zM228.4 89.9h1.6v1.6h-1.6zM253.5 88.7h1.6v1.6h-1.6zM244.1 106.2h1.6v1.6h-1.6zM243.4 97.6h1.6v1.6h-1.6zM253 106.1h1.6v1.6h-1.6zM258.6 98.6h1.6v1.6h-1.6zM236.5 94.7h1.6v1.6h-1.6zM248.1 101.2h1.6v1.6h-1.6zM230.6 97.1h1.6v1.6h-1.6zM246.9 95.1h1.6v1.6h-1.6zM240.5 101.4h1.6v1.6h-1.6zM242.4 107.5h1.6v1.6h-1.6zM235.3 91.5h1.6v1.6h-1.6zM224.1 91.4h1.6v1.6h-1.6zM248.5 102.2h1.6v1.6h-1.6zM234.6 94.2h1.6v1.6h-1.6zM231.5 101h1.6v1.6h-1.6zM242.5 101.5h1.6v1.6h-1.6zM243 96.3h1.6v1.6h-1.6zM240 96.8h1.6v1.6h-1.6zM251.3 96h1.6v1.6h-1.6zM223.8 89.4h1.6v1.6h-1.6zM244.6 105.3h1.6v1.6h-1.6zM246.4 99.1h1.6v1.6h-1.6z"/>
<polygon points="229.5,84 239.5,84 243,104 234,104" fill="#1478ee" fill-opacity="0.9"/>
<polygon points="234.5,39 237,39 243.5,51 246,59 243.5,61 239,51" fill="#70ea60" fill-opacity="0.75"/>
<path fill="#1478ee" d="M242.4 105.1h1.6v1.6h-1.6zM237.5 97.9h1.6v1.6h-1.6zM239.8 103.5h1.6v1.6h-1.6zM240.9 95.6h1.6v1.6h-1.6zM240.5 93.4h1.6v1.6h-1.6zM242.5 93.8h1.6v1.6h-1.6zM238.9 88.4h1.6v1.6h-1.6zM239.3 86.5h1.6v1.6h-1.6zM240.4 96.3h1.6v1.6h-1.6zM232.9 92.7h1.6v1.6h-1.6zM238.7 104.7h1.6v1.6h-1.6zM238 83.1h1.6v1.6h-1.6zM236 103.8h1.6v1.6h-1.6zM239.1 89.2h1.6v1.6h-1.6zM235 89.9h1.6v1.6h-1.6zM240.1 103.3h1.6v1.6h-1.6zM238.3 90.1h1.6v1.6h-1.6zM238.7 88h1.6v1.6h-1.6zM233.6 97.1h1.6v1.6h-1.6zM239.6 100.2h1.6v1.6h-1.6zM240.9 87.1h1.6v1.6h-1.6zM235.3 92.3h1.6v1.6h-1.6zM241.7 100.8h1.6v1.6h-1.6zM239 83.4h1.6v1.6h-1.6zM232.2 83.8h1.6v1.6h-1.6zM239.1 88.9h1.6v1.6h-1.6zM231.4 94.6h1.6v1.6h-1.6zM240.8 84.6h1.6v1.6h-1.6zM232 95.3h1.6v1.6h-1.6zM239.8 104.2h1.6v1.6h-1.6zM237.9 88.4h1.6v1.6h-1.6zM231.8 90.1h1.6v1.6h-1.6zM234.1 88.5h1.6v1.6h-1.6zM232.1 89.4h1.6v1.6h-1.6zM231.7 100.3h1.6v1.6h-1.6zM230.8 84.5h1.6v1.6h-1.6zM240.3 95.8h1.6v1.6h-1.6zM237 87.8h1.6v1.6h-1.6zM235.1 92.8h1.6v1.6h-1.6zM234.4 99.5h1.6v1.6h-1.6zM234 87.8h1.6v1.6h-1.6zM232.4 90.2h1.6v1.6h-1.6zM240.4 102.5h1.6v1.6h-1.6zM237.8 101.3h1.6v1.6h-1.6zM240.7 99.9h1.6v1.6h-1.6zM235.8 98.9h1.6v1.6h-1.6zM242 101.6h1.6v1.6h-1.6zM230.1 85.4h1.6v1.6h-1.6zM236.7 105.5h1.6v1.6h-1.6zM235.9 93.4h1.6v1.6h-1.6zM237.2 98.6h1.6v1.6h-1.6zM231.7 83.9h1.6v1.6h-1.6zM243.7 105.5h1.6v1.6h-1.6zM237.9 87.6h1.6v1.6h-1.6zM239.3 89.7h1.6v1.6h-1.6zM231 97.7h1.6v1.6h-1.6zM231.7 89.6h1.6v1.6h-1.6zM234.8 91.7h1.6v1.6h-1.6zM232.4 99.3h1.6v1.6h-1.6zM234.2 91.9h1.6v1.6h-1.6zM238.2 86.5h1.6v1.6h-1.6zM233.4 88.6h1.6v1.6h-1.6zM242.4 97h1.6v1.6h-1.6zM234.6 104.4h1.6v1.6h-1.6zM233.3 94.6h1.6v1.6h-1.6zM235.9 100h1.6v1.6h-1.6zM236.2 85h1.6v1.6h-1.6zM243 106h1.6v1.6h-1.6zM235.3 97.2h1.6v1.6h-1.6zM233.4 86.3h1.6v1.6h-1.6zM232 98.5h1.6v1.6h-1.6zM238.5 98.9h1.6v1.6h-1.6zM238.5 104.7h1.6v1.6h-1.6zM213.6 35.6h1.6v1.6h-1.6zM214.9 35.5h1.6v1.6h-1.6zM222 36h1.6v1.6h-1.6zM217.5 35.2h1.6v1.6h-1.6zM214.7 34.7h1.6v1.6h-1.6zM213.2 34.5h1.6v1.6h-1.6zM224.3 35.9h1.6v1.6h-1.6zM214.7 34.8h1.6v1.6h-1.6zM220.6 34.3h1.6v1.6h-1.6zM240.5 35.8h1.6v1.6h-1.6zM228.6 35.6h1.6v1.6h-1.6zM210.1 35.1h1.6v1.6h-1.6zM252.2 105.9h1.6v1.6h-1.6zM247 99.2h1.6v1.6h-1.6zM261.4 105.1h1.6v1.6h-1.6zM246.5 102.2h1.6v1.6h-1.6zM257 110.5h1.6v1.6h-1.6zM253.7 114.9h1.6v1.6h-1.6zM250.2 107.4h1.6v1.6h-1.6zM253.4 118.8h1.6v1.6h-1.6zM252.9 95.2h1.6v1.6h-1.6zM265.1 117.9h1.6v1.6h-1.6zM253 106.6h1.6v1.6h-1.6zM247.1 99.3h1.6v1.6h-1.6zM257.9 100.7h1.6v1.6h-1.6zM246.6 104h1.6v1.6h-1.6zM257 104.1h1.6v1.6h-1.6zM250.4 115.9h1.6v1.6h-1.6zM252.8 114.6h1.6v1.6h-1.6zM257.5 108.2h1.6v1.6h-1.6zM258.1 104.8h1.6v1.6h-1.6zM259.4 114.7h1.6v1.6h-1.6zM259.1 99.9h1.6v1.6h-1.6zM250.5 112.9h1.6v1.6h-1.6zM256.5 108.5h1.6v1.6h-1.6zM260.4 101.7h1.6v1.6h-1.6zM250.2 113h1.6v1.6h-1.6zM257.9 108.3h1.6v1.6h-1.6zM252.6 112.2h1.6v1.6h-1.6zM251 97.6h1.6v1.6h-1.6zM243.4 104.8h1.6v1.6h-1.6zM262.4 116.8h1.6v1.6h-1.6zM246.6 110.4h1.6v1.6h-1.6zM252.1 109.2h1.6v1.6h-1.6zM252.1 96.4h1.6v1.6h-1.6zM246.2 109.8h1.6v1.6h-1.6zM245.1 108.2h1.6v1.6h-1.6zM249.7 107.5h1.6v1.6h-1.6zM251.7 104.3h1.6v1.6h-1.6zM243.4 103h1.6v1.6h-1.6zM258.1 121.3h1.6v1.6h-1.6zM242.8 93.2h1.6v1.6h-1.6zM252.8 111.2h1.6v1.6h-1.6zM261.9 118.9h1.6v1.6h-1.6zM260.3 115.9h1.6v1.6h-1.6zM256.9 105.7h1.6v1.6h-1.6zM241.8 95.2h1.6v1.6h-1.6zM256.2 121.1h1.6v1.6h-1.6zM259.1 110.1h1.6v1.6h-1.6zM250.1 109.5h1.6v1.6h-1.6zM244.5 92.4h1.6v1.6h-1.6zM254.3 111.5h1.6v1.6h-1.6zM257.5 111.1h1.6v1.6h-1.6zM265 113.8h1.6v1.6h-1.6zM263.3 113.4h1.6v1.6h-1.6zM258.7 121.4h1.6v1.6h-1.6zM251 101.4h1.6v1.6h-1.6zM263.7 117.3h1.6v1.6h-1.6zM248.5 107.4h1.6v1.6h-1.6zM256.6 119h1.6v1.6h-1.6zM248.9 92.8h1.6v1.6h-1.6zM263.1 121.7h1.6v1.6h-1.6zM244.7 103.3h1.6v1.6h-1.6zM254.5 115.3h1.6v1.6h-1.6zM247 103.5h1.6v1.6h-1.6zM243.5 97h1.6v1.6h-1.6zM259.5 104.2h1.6v1.6h-1.6zM254.7 95.8h1.6v1.6h-1.6zM283.2 126.2h1.7v1.7h-1.7zM264.2 112.8h1.7v1.7h-1.7zM279.5 118.4h1.7v1.7h-1.7zM287 123.6h1.7v1.7h-1.7zM265.5 127.5h1.7v1.7h-1.7zM262.6 120.6h1.7v1.7h-1.7zM269.3 126.4h1.7v1.7h-1.7zM263.6 125.3h1.7v1.7h-1.7zM280.4 125h1.7v1.7h-1.7zM275.4 120.8h1.7v1.7h-1.7zM264.4 125.1h1.7v1.7h-1.7zM278.8 112.6h1.7v1.7h-1.7zM252.8 100.2h1.7v1.7h-1.7zM270.1 110.6h1.7v1.7h-1.7zM282.2 130.7h1.7v1.7h-1.7zM230.8 117.4h1.6v1.6h-1.6zM227.1 109.4h1.6v1.6h-1.6zM223 114.9h1.6v1.6h-1.6zM230.9 114.6h1.6v1.6h-1.6z"/>
<path fill="#0c66e0" d="M235.2 96.5h1.6v1.6h-1.6zM237.3 102.8h1.6v1.6h-1.6zM230 91.4h1.6v1.6h-1.6zM234.2 86h1.6v1.6h-1.6zM240.6 88.9h1.6v1.6h-1.6zM230.5 85.1h1.6v1.6h-1.6zM239.1 94.9h1.6v1.6h-1.6zM232 87.4h1.6v1.6h-1.6zM241.2 87.8h1.6v1.6h-1.6zM230.2 87.8h1.6v1.6h-1.6zM237.6 95.1h1.6v1.6h-1.6zM242.8 98.4h1.6v1.6h-1.6zM234.7 97.7h1.6v1.6h-1.6zM240.6 83.6h1.6v1.6h-1.6zM238.5 100.9h1.6v1.6h-1.6zM239.4 93.4h1.6v1.6h-1.6zM242.4 96.9h1.6v1.6h-1.6zM232.9 94.2h1.6v1.6h-1.6zM241 87.7h1.6v1.6h-1.6zM237.9 84.7h1.6v1.6h-1.6zM234.5 84.7h1.6v1.6h-1.6zM237.9 97.4h1.6v1.6h-1.6zM237.5 91.4h1.6v1.6h-1.6zM237.5 92.1h1.6v1.6h-1.6zM231.8 95.4h1.6v1.6h-1.6zM250.8 104.9h1.6v1.6h-1.6zM258.1 99.8h1.6v1.6h-1.6zM257.5 116h1.6v1.6h-1.6zM241.4 101.8h1.6v1.6h-1.6zM244.2 96.6h1.6v1.6h-1.6zM250.2 105.8h1.6v1.6h-1.6zM243.8 93.6h1.6v1.6h-1.6zM250.6 100h1.6v1.6h-1.6zM259.2 113.1h1.6v1.6h-1.6zM252.4 102.1h1.6v1.6h-1.6zM253.9 119.9h1.6v1.6h-1.6zM262.8 119h1.6v1.6h-1.6z"/>
<path fill="#14e0f2" d="M242.8 98.8h1.6v1.6h-1.6zM231.3 100.1h1.6v1.6h-1.6zM241 92.3h1.6v1.6h-1.6zM238.8 94.1h1.6v1.6h-1.6zM231.5 88.4h1.6v1.6h-1.6zM237.7 98.4h1.6v1.6h-1.6zM232.2 94.5h1.6v1.6h-1.6zM231.3 93.2h1.6v1.6h-1.6zM232.2 89.8h1.6v1.6h-1.6zM233.1 87.8h1.6v1.6h-1.6zM230.8 85.6h1.6v1.6h-1.6zM231.5 84.7h1.6v1.6h-1.6zM237.9 96.8h1.6v1.6h-1.6zM255.6 89.9h1.6v1.6h-1.6zM254.3 91.2h1.6v1.6h-1.6zM259.6 99.2h1.6v1.6h-1.6zM250.9 91.2h1.6v1.6h-1.6zM250 86.5h1.6v1.6h-1.6zM256.2 92.4h1.6v1.6h-1.6zM254.9 100.3h1.6v1.6h-1.6zM253.4 93h1.6v1.6h-1.6zM249.6 92.5h1.6v1.6h-1.6zM253.8 86.7h1.6v1.6h-1.6zM249.1 90.9h1.6v1.6h-1.6zM256.1 94.4h1.6v1.6h-1.6zM261 99.7h1.6v1.6h-1.6zM235 35.4h1.6v1.6h-1.6zM228.2 35.5h1.6v1.6h-1.6zM227.3 35.7h1.6v1.6h-1.6zM210.7 34.7h1.6v1.6h-1.6zM237.9 34.3h1.6v1.6h-1.6zM229.3 35.3h1.6v1.6h-1.6zM216.3 35.1h1.6v1.6h-1.6zM233.3 35.9h1.6v1.6h-1.6zM216.6 35.3h1.6v1.6h-1.6zM229.8 35.1h1.6v1.6h-1.6zM255.9 104.3h1.6v1.6h-1.6zM259.5 116.2h1.6v1.6h-1.6zM253.2 99.7h1.6v1.6h-1.6zM254.3 113.4h1.6v1.6h-1.6zM255.4 113.6h1.6v1.6h-1.6zM256.5 101.3h1.6v1.6h-1.6zM255.6 109.3h1.6v1.6h-1.6zM259.9 105.4h1.6v1.6h-1.6zM256.2 119h1.6v1.6h-1.6zM256.9 98.4h1.6v1.6h-1.6zM248 110.5h1.6v1.6h-1.6zM264.1 111.1h1.6v1.6h-1.6zM243.7 93.1h1.6v1.6h-1.6zM245.2 103.5h1.6v1.6h-1.6zM246.3 101h1.6v1.6h-1.6zM263.6 111.4h1.6v1.6h-1.6zM255.3 104.5h1.6v1.6h-1.6zM244.2 107.1h1.6v1.6h-1.6zM242.4 95.9h1.6v1.6h-1.6zM241.9 103.6h1.6v1.6h-1.6zM248.8 97.1h1.6v1.6h-1.6zM253.2 100.2h1.6v1.6h-1.6zM243.9 103.2h1.6v1.6h-1.6zM252.3 109.8h1.6v1.6h-1.6zM257 107.4h1.6v1.6h-1.6zM247.7 99.6h1.6v1.6h-1.6zM248.5 92.3h1.6v1.6h-1.6zM258.3 102h1.6v1.6h-1.6zM243.6 102.8h1.6v1.6h-1.6zM260.1 119.3h1.6v1.6h-1.6zM242.1 101.6h1.6v1.6h-1.6zM253.7 109.3h1.6v1.6h-1.6zM258.9 105.9h1.6v1.6h-1.6zM249.1 93.8h1.6v1.6h-1.6zM256.7 115.6h1.6v1.6h-1.6zM246.3 108.3h1.6v1.6h-1.6zM240.8 98.3h1.6v1.6h-1.6zM243.1 104.1h1.6v1.6h-1.6zM264.6 114.9h1.6v1.6h-1.6zM245.9 100.4h1.6v1.6h-1.6zM260.6 103.5h1.6v1.6h-1.6zM258.2 109.2h1.6v1.6h-1.6zM263 111.1h1.6v1.6h-1.6zM246.7 94.1h1.6v1.6h-1.6zM252.2 111.4h1.6v1.6h-1.6zM247.5 104h1.6v1.6h-1.6zM249.1 92.3h1.6v1.6h-1.6zM243.8 92.3h1.6v1.6h-1.6zM250.4 100.3h1.6v1.6h-1.6zM245.1 107.7h1.6v1.6h-1.6zM257.8 113.1h1.6v1.6h-1.6zM256.7 101.6h1.6v1.6h-1.6zM255.2 113.4h1.6v1.6h-1.6zM260.7 115.4h1.6v1.6h-1.6zM246.4 102.5h1.6v1.6h-1.6zM246.9 99.3h1.6v1.6h-1.6zM249.3 95h1.6v1.6h-1.6zM260.7 116.8h1.6v1.6h-1.6zM251.4 107h1.6v1.6h-1.6zM242.1 98h1.6v1.6h-1.6zM245.7 99.3h1.6v1.6h-1.6zM240.9 100.2h1.6v1.6h-1.6zM259.8 118.3h1.6v1.6h-1.6zM248.8 96h1.6v1.6h-1.6zM242.2 92.5h1.6v1.6h-1.6zM241.5 102h1.6v1.6h-1.6zM253.5 97.7h1.6v1.6h-1.6zM259.1 108.2h1.7v1.7h-1.7zM279 110.7h1.7v1.7h-1.7zM273.8 131.7h1.7v1.7h-1.7zM258.5 100.6h1.7v1.7h-1.7zM253.3 94.6h1.7v1.7h-1.7zM265.2 114.7h1.7v1.7h-1.7zM271.4 104h1.7v1.7h-1.7zM283.9 126.3h1.7v1.7h-1.7zM250 117.8h1.7v1.7h-1.7zM252.1 100.2h1.7v1.7h-1.7zM280.1 132.2h1.7v1.7h-1.7zM284.8 131.7h1.7v1.7h-1.7zM264.2 105.4h1.7v1.7h-1.7zM284.4 121.8h1.7v1.7h-1.7zM266.5 121.4h1.7v1.7h-1.7zM264.2 106.6h1.7v1.7h-1.7zM269.9 127.2h1.7v1.7h-1.7zM276.7 107.9h1.7v1.7h-1.7zM260.9 115.6h1.7v1.7h-1.7zM256.4 109.7h1.7v1.7h-1.7zM254.9 115.7h1.7v1.7h-1.7zM268 130.1h1.7v1.7h-1.7zM286.8 130.7h1.7v1.7h-1.7zM277.4 112.7h1.7v1.7h-1.7zM277 114.6h1.7v1.7h-1.7zM265.3 117.9h1.7v1.7h-1.7zM289.2 124h1.7v1.7h-1.7zM274 112.9h1.7v1.7h-1.7zM283.5 129h1.7v1.7h-1.7zM272.2 124.6h1.7v1.7h-1.7zM266.5 121.1h1.7v1.7h-1.7zM281.7 135.3h1.7v1.7h-1.7zM282.7 122.1h1.7v1.7h-1.7zM267.2 115.8h1.7v1.7h-1.7zM283.2 124.9h1.7v1.7h-1.7zM269.3 132h1.7v1.7h-1.7zM275.1 113h1.7v1.7h-1.7zM259.9 115.4h1.7v1.7h-1.7zM257.9 95.5h1.7v1.7h-1.7zM257.9 96.6h1.7v1.7h-1.7zM273.6 128.1h1.7v1.7h-1.7zM275.2 119h1.7v1.7h-1.7zM252 100.7h1.7v1.7h-1.7zM273.8 113.7h1.7v1.7h-1.7zM253.2 100.3h1.7v1.7h-1.7zM254.1 107.1h1.7v1.7h-1.7zM251.9 90.8h1.7v1.7h-1.7zM277.9 119.3h1.7v1.7h-1.7zM279.4 113.7h1.7v1.7h-1.7zM271.3 106.2h1.7v1.7h-1.7zM276.1 114.1h1.7v1.7h-1.7zM259.2 119.5h1.7v1.7h-1.7zM260.3 120.8h1.7v1.7h-1.7zM265.8 113.1h1.7v1.7h-1.7zM277.3 118h1.7v1.7h-1.7zM279.3 126.3h1.7v1.7h-1.7zM277.5 118.3h1.7v1.7h-1.7zM270 130h1.7v1.7h-1.7zM276.4 109h1.7v1.7h-1.7zM263.8 97.9h1.7v1.7h-1.7zM252.7 96h1.7v1.7h-1.7zM250.3 112h1.7v1.7h-1.7zM254.7 102.6h1.7v1.7h-1.7zM287.6 130.3h1.7v1.7h-1.7zM265 129.1h1.7v1.7h-1.7zM275.3 116.2h1.7v1.7h-1.7zM251.8 116.1h1.7v1.7h-1.7zM271 113.7h1.7v1.7h-1.7zM251.8 99.3h1.7v1.7h-1.7zM282.2 128.7h1.7v1.7h-1.7zM277 111.3h1.7v1.7h-1.7zM251.1 99.2h1.7v1.7h-1.7zM261 120.2h1.7v1.7h-1.7zM275.5 117.8h1.7v1.7h-1.7zM271.5 132.6h1.7v1.7h-1.7zM263.3 110.7h1.7v1.7h-1.7zM260.9 99.3h1.7v1.7h-1.7zM255 94.6h1.7v1.7h-1.7zM230.8 119.4h1.6v1.6h-1.6zM228.7 119.2h1.6v1.6h-1.6zM223.6 103.7h1.6v1.6h-1.6zM230.8 113.2h1.6v1.6h-1.6zM224.9 111.3h1.6v1.6h-1.6zM224.5 115.3h1.6v1.6h-1.6zM220.2 111.3h1.6v1.6h-1.6zM223.8 103.4h1.6v1.6h-1.6zM222.1 114.8h1.6v1.6h-1.6zM229.6 108.2h1.6v1.6h-1.6zM222.7 104.4h1.6v1.6h-1.6zM218 109.5h1.6v1.6h-1.6zM226.5 120.7h1.6v1.6h-1.6zM223.1 117.1h1.6v1.6h-1.6zM218.6 113.6h1.6v1.6h-1.6zM229 119.2h1.6v1.6h-1.6zM228.2 115.9h1.6v1.6h-1.6zM232.4 117.2h1.6v1.6h-1.6zM221.2 112.8h1.6v1.6h-1.6zM220.3 103.1h1.6v1.6h-1.6zM221.3 103h1.6v1.6h-1.6zM233.2 118.4h1.6v1.6h-1.6zM220 113.1h1.6v1.6h-1.6zM231.9 109.3h1.6v1.6h-1.6zM231.6 109.3h1.6v1.6h-1.6zM229.5 120.1h1.6v1.6h-1.6zM225.1 112h1.6v1.6h-1.6zM228 106.3h1.6v1.6h-1.6zM225.4 119.6h1.6v1.6h-1.6zM226.2 116.5h1.6v1.6h-1.6zM227.5 113h1.6v1.6h-1.6zM223.9 121.9h1.6v1.6h-1.6zM222.3 134.2h1.6v1.6h-1.6zM230 129.9h1.6v1.6h-1.6zM231 134.4h1.6v1.6h-1.6zM231 128.7h1.6v1.6h-1.6zM230.4 140.9h1.6v1.6h-1.6zM220.3 131.3h1.6v1.6h-1.6zM217.5 115h1.6v1.6h-1.6zM225.1 120.2h1.6v1.6h-1.6zM223 128.6h1.6v1.6h-1.6zM225.9 127.1h1.6v1.6h-1.6zM226.5 123.8h1.6v1.6h-1.6zM223.3 118.2h1.6v1.6h-1.6zM230.1 134.2h1.6v1.6h-1.6zM225.3 134.4h1.6v1.6h-1.6zM222.4 115.3h1.6v1.6h-1.6zM218.5 126.2h1.6v1.6h-1.6zM223.6 130.8h1.6v1.6h-1.6zM231 134.7h1.6v1.6h-1.6zM222.9 122.8h1.6v1.6h-1.6zM218.4 123.1h1.6v1.6h-1.6zM229.1 132.6h1.6v1.6h-1.6z"/>
<path fill="#14eea4" d="M253.1 96.9h1.6v1.6h-1.6zM252.3 89.2h1.6v1.6h-1.6zM250.4 87.9h1.6v1.6h-1.6zM252.6 95.5h1.6v1.6h-1.6zM251.5 92.7h1.6v1.6h-1.6zM254.1 95.1h1.6v1.6h-1.6zM248.3 92.2h1.6v1.6h-1.6zM249 92.1h1.6v1.6h-1.6zM255.4 99.2h1.6v1.6h-1.6zM257.8 92.7h1.6v1.6h-1.6zM260.8 97.6h1.6v1.6h-1.6zM247.1 89h1.6v1.6h-1.6zM253.3 100.3h1.6v1.6h-1.6zM257.2 91.5h1.6v1.6h-1.6zM250 93.7h1.6v1.6h-1.6zM248.7 88.8h1.6v1.6h-1.6zM257.3 96.1h1.6v1.6h-1.6zM253.2 99.6h1.6v1.6h-1.6zM242.1 53.5h1.4v1.4h-1.4zM240.8 48.4h1.4v1.4h-1.4zM238.6 48.3h1.4v1.4h-1.4zM242.8 55h1.4v1.4h-1.4zM241.3 53.6h1.4v1.4h-1.4zM241.4 51.7h1.4v1.4h-1.4zM243.1 54.8h1.4v1.4h-1.4zM243.9 58.7h1.4v1.4h-1.4zM242.3 52.9h1.4v1.4h-1.4zM262.4 122.8h1.7v1.7h-1.7zM277.6 133.6h1.7v1.7h-1.7zM271.5 131.7h1.7v1.7h-1.7zM269.2 104.7h1.7v1.7h-1.7zM249.7 108.4h1.7v1.7h-1.7zM263.2 130h1.7v1.7h-1.7zM266.2 128.9h1.7v1.7h-1.7zM264.9 118.6h1.7v1.7h-1.7zM266.7 130.3h1.7v1.7h-1.7zM278 108.6h1.7v1.7h-1.7zM261.4 125.7h1.7v1.7h-1.7zM268.6 111.5h1.7v1.7h-1.7zM287.5 129.8h1.7v1.7h-1.7zM268.4 105.7h1.7v1.7h-1.7zM282.9 126.5h1.7v1.7h-1.7zM268.4 125.6h1.7v1.7h-1.7zM284.6 131.9h1.7v1.7h-1.7zM263.6 125h1.7v1.7h-1.7zM280.6 116.2h1.7v1.7h-1.7zM252.5 116.8h1.7v1.7h-1.7zM285.5 124.8h1.7v1.7h-1.7zM249.7 105.9h1.7v1.7h-1.7zM254.1 92.1h1.7v1.7h-1.7zM254.6 97.8h1.7v1.7h-1.7zM273.1 110.6h1.7v1.7h-1.7zM260.2 109.8h1.7v1.7h-1.7zM280.8 130.3h1.7v1.7h-1.7zM241.3 132.6h1.6v1.6h-1.6zM239.3 132.5h1.6v1.6h-1.6zM239.7 130.3h1.6v1.6h-1.6zM242.5 130.5h1.6v1.6h-1.6zM245.9 138.8h1.6v1.6h-1.6zM240.4 128.9h1.6v1.6h-1.6zM238.2 134.2h1.6v1.6h-1.6zM240.5 135.8h1.6v1.6h-1.6zM232.1 127.8h1.6v1.6h-1.6zM227.6 120.8h1.6v1.6h-1.6zM236.6 131.3h1.6v1.6h-1.6zM224.6 118.2h1.6v1.6h-1.6zM237.1 122.9h1.6v1.6h-1.6zM221.2 115.6h1.6v1.6h-1.6zM232.5 123.1h1.6v1.6h-1.6zM242.2 129.7h1.6v1.6h-1.6zM230.7 124.9h1.6v1.6h-1.6zM235 124.3h1.6v1.6h-1.6zM225.5 117.6h1.6v1.6h-1.6zM230.2 117.2h1.6v1.6h-1.6zM233.1 124.3h1.6v1.6h-1.6zM242 134.8h1.6v1.6h-1.6zM227.8 113.9h1.6v1.6h-1.6zM216.9 113h1.6v1.6h-1.6zM217.9 126.8h1.6v1.6h-1.6zM229.9 135.9h1.6v1.6h-1.6zM223.9 131.6h1.6v1.6h-1.6zM219.3 119.2h1.6v1.6h-1.6zM222.8 121.4h1.6v1.6h-1.6zM227.2 138.7h1.6v1.6h-1.6zM219.9 131.3h1.6v1.6h-1.6zM217.4 123.3h1.6v1.6h-1.6zM215.2 114.2h1.6v1.6h-1.6zM219 127.3h1.6v1.6h-1.6zM230.5 135h1.6v1.6h-1.6zM228.2 132.4h1.6v1.6h-1.6zM222.7 131.9h1.6v1.6h-1.6zM229.4 124.4h1.6v1.6h-1.6zM216.6 112.6h1.6v1.6h-1.6zM230.7 141.7h1.6v1.6h-1.6z"/>
<path fill="#6ae2f4" d="M268.2 101h1.7v1.7h-1.7zM285.7 122.2h1.7v1.7h-1.7zM273.6 122.6h1.7v1.7h-1.7zM284.4 135h1.7v1.7h-1.7zM281.2 131.2h1.7v1.7h-1.7zM283.1 131h1.7v1.7h-1.7zM257.3 103.7h1.7v1.7h-1.7zM268.8 112.9h1.7v1.7h-1.7zM264.4 98.8h1.7v1.7h-1.7zM255 120.2h1.7v1.7h-1.7zM290.4 128.2h1.7v1.7h-1.7zM265.8 110.9h1.7v1.7h-1.7zM289.5 130.7h1.7v1.7h-1.7zM252.2 118.7h1.7v1.7h-1.7zM258 113.7h1.7v1.7h-1.7zM273.6 116.6h1.7v1.7h-1.7zM285.8 129.3h1.7v1.7h-1.7zM252.7 103.4h1.7v1.7h-1.7zM280.8 119.6h1.7v1.7h-1.7zM250.8 115.9h1.7v1.7h-1.7zM276.5 125.4h1.7v1.7h-1.7zM273.6 111.1h1.7v1.7h-1.7zM260.5 107h1.7v1.7h-1.7zM282.3 122.1h1.7v1.7h-1.7zM265.2 100.5h1.7v1.7h-1.7z"/>
<path fill="#10e010" d="M243.4 51.3h1.4v1.4h-1.4zM240.5 48.5h1.4v1.4h-1.4zM240.1 45h1.4v1.4h-1.4zM243.2 56.2h1.4v1.4h-1.4zM234.9 39.1h1.4v1.4h-1.4zM243 56.1h1.4v1.4h-1.4zM234.5 37h1.4v1.4h-1.4zM241.1 54.3h1.4v1.4h-1.4zM236.3 39.9h1.4v1.4h-1.4zM240.2 43.9h1.4v1.4h-1.4zM244.6 55.3h1.4v1.4h-1.4zM238 40.7h1.4v1.4h-1.4zM240.2 50.8h1.4v1.4h-1.4zM242.3 50.1h1.4v1.4h-1.4zM236.9 38h1.4v1.4h-1.4zM244 52.5h1.4v1.4h-1.4zM240.8 52.8h1.4v1.4h-1.4zM238.9 45.2h1.4v1.4h-1.4zM244.1 58.9h1.4v1.4h-1.4zM238.2 43.6h1.4v1.4h-1.4zM237.3 40.1h1.4v1.4h-1.4zM240.4 44.8h1.4v1.4h-1.4zM236.2 41.8h1.4v1.4h-1.4zM238.5 48.1h1.4v1.4h-1.4zM241.6 50h1.4v1.4h-1.4zM237.1 38.5h1.4v1.4h-1.4zM240.7 50.7h1.4v1.4h-1.4zM238.5 46.6h1.4v1.4h-1.4zM239.6 51.9h1.4v1.4h-1.4zM211.3 34.3h1.6v1.6h-1.6zM213.5 34.9h1.6v1.6h-1.6zM239.1 34.7h1.6v1.6h-1.6zM219 34.6h1.6v1.6h-1.6zM210.2 35.9h1.6v1.6h-1.6zM221.6 35.2h1.6v1.6h-1.6zM262.2 122h1.7v1.7h-1.7zM253 96.6h1.7v1.7h-1.7zM266.3 127.6h1.7v1.7h-1.7zM260.7 126.9h1.7v1.7h-1.7z"/>
<path fill="#30dc20" d="M238.6 47.8h1.4v1.4h-1.4zM236.6 40.7h1.4v1.4h-1.4zM240.8 53.3h1.4v1.4h-1.4zM245.3 57.9h1.4v1.4h-1.4zM242.3 56.1h1.4v1.4h-1.4zM235.9 39.5h1.4v1.4h-1.4zM237.3 44h1.4v1.4h-1.4zM244.2 57h1.4v1.4h-1.4zM241.7 49.3h1.4v1.4h-1.4zM240.6 48.3h1.4v1.4h-1.4zM240.8 48.1h1.4v1.4h-1.4zM235.5 40.1h1.4v1.4h-1.4zM244.7 56.6h1.4v1.4h-1.4zM240.9 50.8h1.4v1.4h-1.4zM242.3 53.6h1.4v1.4h-1.4zM243.5 54.5h1.4v1.4h-1.4zM243.3 54.4h1.4v1.4h-1.4zM240.2 50.2h1.4v1.4h-1.4zM240.5 44.8h1.4v1.4h-1.4zM240.9 46.8h1.4v1.4h-1.4zM243.8 55h1.4v1.4h-1.4zM238 47.7h1.4v1.4h-1.4zM243.7 130.4h1.6v1.6h-1.6zM235.4 125.5h1.6v1.6h-1.6zM229.3 117.8h1.6v1.6h-1.6zM238.7 131.3h1.6v1.6h-1.6zM240.8 129.6h1.6v1.6h-1.6zM234.8 123.5h1.6v1.6h-1.6zM235.4 121.5h1.6v1.6h-1.6zM222.4 115.4h1.6v1.6h-1.6zM240.9 131.8h1.6v1.6h-1.6zM244.1 135.2h1.6v1.6h-1.6zM235.2 122.2h1.6v1.6h-1.6zM226.5 117.1h1.6v1.6h-1.6z"/>
<path fill="#22f022" d="M238.5 128.9h1.6v1.6h-1.6zM222.6 112.6h1.6v1.6h-1.6zM226.3 118.9h1.6v1.6h-1.6zM226.5 119.2h1.6v1.6h-1.6zM235.4 126.7h1.6v1.6h-1.6zM235.3 128.2h1.6v1.6h-1.6zM232.7 125h1.6v1.6h-1.6zM239.6 135.7h1.6v1.6h-1.6zM230.8 123h1.6v1.6h-1.6zM241.8 132h1.6v1.6h-1.6zM230.9 118.7h1.6v1.6h-1.6zM223.4 114.6h1.6v1.6h-1.6zM238.6 127.7h1.6v1.6h-1.6zM230.6 121.8h1.6v1.6h-1.6zM240.7 126.8h1.6v1.6h-1.6zM238.9 134h1.6v1.6h-1.6zM232.3 123.3h1.6v1.6h-1.6zM233.7 124.3h1.6v1.6h-1.6zM233.7 120.2h1.6v1.6h-1.6zM226.1 118.5h1.6v1.6h-1.6zM224.7 112.2h1.6v1.6h-1.6zM230.6 121.3h1.6v1.6h-1.6zM226 115.8h1.6v1.6h-1.6zM224.8 111.3h1.6v1.6h-1.6zM226.6 116.1h1.6v1.6h-1.6zM225.7 112.9h1.6v1.6h-1.6zM236.5 131.1h1.6v1.6h-1.6zM238.9 135.9h1.6v1.6h-1.6zM241.2 137.2h1.6v1.6h-1.6zM241.7 127.8h1.6v1.6h-1.6zM236.5 132.7h1.6v1.6h-1.6zM241.2 127.5h1.6v1.6h-1.6zM237.2 127.5h1.6v1.6h-1.6zM240.3 129.3h1.6v1.6h-1.6zM239.3 126.2h1.6v1.6h-1.6zM225.9 111.9h1.6v1.6h-1.6zM240.2 128.9h1.6v1.6h-1.6zM229.1 114.7h1.6v1.6h-1.6zM237.2 130h1.6v1.6h-1.6zM243.7 135.8h1.6v1.6h-1.6zM228.6 118.1h1.6v1.6h-1.6zM240.9 127h1.6v1.6h-1.6zM244.6 137.5h1.6v1.6h-1.6zM247.3 134.2h1.6v1.6h-1.6zM232 117.8h1.6v1.6h-1.6zM227.4 116.1h1.6v1.6h-1.6z"/>
<path fill="#66e84a" d="M247.4 133.8h1.6v1.6h-1.6zM239.2 132.5h1.6v1.6h-1.6zM231.8 122h1.6v1.6h-1.6zM236.4 131.9h1.6v1.6h-1.6zM244.8 132.6h1.6v1.6h-1.6zM243.2 138.9h1.6v1.6h-1.6zM233 120.6h1.6v1.6h-1.6zM231.1 118.5h1.6v1.6h-1.6zM225.7 114.3h1.6v1.6h-1.6zM244.6 135.5h1.6v1.6h-1.6zM233.6 123.4h1.6v1.6h-1.6zM221.5 115.8h1.6v1.6h-1.6zM228.1 122.2h1.6v1.6h-1.6zM235.6 123.9h1.6v1.6h-1.6zM247 133.8h1.6v1.6h-1.6zM224.1 116.6h1.6v1.6h-1.6zM241.6 133.1h1.6v1.6h-1.6zM238.8 135.7h1.6v1.6h-1.6zM232 126.1h1.6v1.6h-1.6zM233.8 126.6h1.6v1.6h-1.6zM230 116h1.6v1.6h-1.6zM240.8 130.9h1.6v1.6h-1.6zM234.2 127.2h1.6v1.6h-1.6zM234.4 121.4h1.6v1.6h-1.6zM235.4 126.5h1.6v1.6h-1.6zM232.2 120.1h1.6v1.6h-1.6zM225.7 118.8h1.6v1.6h-1.6zM223.8 114.9h1.6v1.6h-1.6zM224.9 117.2h1.6v1.6h-1.6zM234.2 120h1.6v1.6h-1.6zM238.9 134.6h1.6v1.6h-1.6zM245.7 135.1h1.6v1.6h-1.6zM229 121.5h1.6v1.6h-1.6zM239.3 128.1h1.6v1.6h-1.6zM236 130.2h1.6v1.6h-1.6zM238.4 126.5h1.6v1.6h-1.6zM232.9 124.5h1.6v1.6h-1.6zM241.2 137.2h1.6v1.6h-1.6zM245.8 132.3h1.6v1.6h-1.6zM245.3 133.9h1.6v1.6h-1.6zM231.2 122.4h1.6v1.6h-1.6zM231.2 120.7h1.6v1.6h-1.6zM238.7 125.7h1.6v1.6h-1.6zM242.7 135.8h1.6v1.6h-1.6zM241.6 137.3h1.6v1.6h-1.6zM238.1 129.5h1.6v1.6h-1.6zM227.1 120.7h1.6v1.6h-1.6zM245 131.9h1.6v1.6h-1.6zM224.2 117h1.6v1.6h-1.6zM242.9 128.8h1.6v1.6h-1.6zM226.2 121.1h1.6v1.6h-1.6zM231.7 123.4h1.6v1.6h-1.6zM223.5 112.5h1.6v1.6h-1.6zM247.1 136.4h1.6v1.6h-1.6zM230.5 117.1h1.6v1.6h-1.6zM227.8 120.8h1.6v1.6h-1.6zM225.2 115.9h1.6v1.6h-1.6z"/>
<path fill="#70ea60" d="M254.8 98.2h1.6v1.6h-1.6zM254.1 88.6h1.6v1.6h-1.6zM257.4 99.6h1.6v1.6h-1.6zM252.8 89.1h1.6v1.6h-1.6zM256.1 100.1h1.6v1.6h-1.6zM249.2 86.9h1.6v1.6h-1.6zM250.6 90.6h1.6v1.6h-1.6zM250.9 92.3h1.6v1.6h-1.6zM252.6 100.9h1.6v1.6h-1.6zM244.7 130.7h1.6v1.6h-1.6zM243.2 134.6h1.6v1.6h-1.6zM232.7 119.2h1.6v1.6h-1.6zM243.6 130.7h1.6v1.6h-1.6zM223.1 115.5h1.6v1.6h-1.6zM226.4 119.5h1.6v1.6h-1.6zM244.6 133.4h1.6v1.6h-1.6zM229.8 124.9h1.6v1.6h-1.6zM237.3 123.2h1.6v1.6h-1.6zM238.8 126h1.6v1.6h-1.6zM233.5 119.5h1.6v1.6h-1.6zM239.8 128.3h1.6v1.6h-1.6zM233.6 124.3h1.6v1.6h-1.6zM225.5 118.8h1.6v1.6h-1.6zM233 123.5h1.6v1.6h-1.6zM226.9 118.9h1.6v1.6h-1.6zM223 116.3h1.6v1.6h-1.6zM236.5 127.2h1.6v1.6h-1.6zM230.9 122.6h1.6v1.6h-1.6zM239.7 131.3h1.6v1.6h-1.6zM223.5 117.5h1.6v1.6h-1.6zM232.6 120.2h1.6v1.6h-1.6zM240.9 128.5h1.6v1.6h-1.6zM225.6 112h1.6v1.6h-1.6zM225.6 115.6h1.6v1.6h-1.6zM237 129.7h1.6v1.6h-1.6zM238.3 127.8h1.6v1.6h-1.6zM229.6 123.4h1.6v1.6h-1.6zM237.1 128.9h1.6v1.6h-1.6zM225.3 114.9h1.6v1.6h-1.6zM235.3 123.5h1.6v1.6h-1.6z"/>
<path fill="#8ce81c" d="M236.9 124.6h1.6v1.6h-1.6zM245.7 136.7h1.6v1.6h-1.6zM235.2 123.1h1.6v1.6h-1.6zM239.4 128.6h1.6v1.6h-1.6zM231.9 121.4h1.6v1.6h-1.6zM223.5 116.8h1.6v1.6h-1.6zM224.4 111.7h1.6v1.6h-1.6zM224.6 116.8h1.6v1.6h-1.6zM236.7 132.6h1.6v1.6h-1.6zM230.1 122.4h1.6v1.6h-1.6zM224.6 110.9h1.6v1.6h-1.6zM245.1 135.8h1.6v1.6h-1.6zM237.5 124.3h1.6v1.6h-1.6zM232.5 126.6h1.6v1.6h-1.6zM240.6 132.4h1.6v1.6h-1.6zM242.8 138.9h1.6v1.6h-1.6zM238.6 132.5h1.6v1.6h-1.6zM242.4 129.3h1.6v1.6h-1.6zM238.7 134h1.6v1.6h-1.6zM227.6 118.1h1.6v1.6h-1.6zM236.1 130.5h1.6v1.6h-1.6zM247.5 133.7h1.6v1.6h-1.6zM242.8 133.5h1.6v1.6h-1.6zM237.8 130.6h1.6v1.6h-1.6zM241.9 133.2h1.6v1.6h-1.6zM243.4 130.4h1.6v1.6h-1.6zM239.9 133.7h1.6v1.6h-1.6zM224 113.3h1.6v1.6h-1.6zM234.8 129.4h1.6v1.6h-1.6zM232.3 123.4h1.6v1.6h-1.6zM246.1 133.6h1.6v1.6h-1.6zM229.2 122.9h1.6v1.6h-1.6zM239.4 127.6h1.6v1.6h-1.6zM239.2 127.2h1.6v1.6h-1.6zM230.9 120.9h1.6v1.6h-1.6zM240.5 130.2h1.6v1.6h-1.6zM224.5 114.9h1.6v1.6h-1.6zM244.7 132.8h1.6v1.6h-1.6zM228.8 124.3h1.6v1.6h-1.6zM234.8 123.5h1.6v1.6h-1.6zM242.3 136.3h1.6v1.6h-1.6zM236.3 122.1h1.6v1.6h-1.6zM224.7 111.2h1.6v1.6h-1.6zM229.5 120.4h1.6v1.6h-1.6zM246 138.4h1.6v1.6h-1.6zM226.1 114.8h1.6v1.6h-1.6zM242.3 129.2h1.6v1.6h-1.6zM245.9 135.4h1.6v1.6h-1.6zM239.1 129.8h1.6v1.6h-1.6zM222.6 115.8h1.6v1.6h-1.6zM223.8 113.7h1.6v1.6h-1.6zM232.2 120.7h1.6v1.6h-1.6zM242.2 139h1.6v1.6h-1.6zM225.9 120.5h1.6v1.6h-1.6zM228.7 115.9h1.6v1.6h-1.6zM243.5 139.2h1.6v1.6h-1.6zM228.8 122.2h1.6v1.6h-1.6zM226.8 116.2h1.6v1.6h-1.6zM233.6 127.9h1.6v1.6h-1.6zM232.2 120.7h1.6v1.6h-1.6zM225.9 115.6h1.6v1.6h-1.6z"/>
<path fill="#ffffff" d="M241.7 101.8h1.6v1.6h-1.6zM240.8 104.4h1.6v1.6h-1.6zM231.6 91.4h1.6v1.6h-1.6zM243.1 97.4h1.6v1.6h-1.6zM234.2 98.5h1.6v1.6h-1.6zM234.9 84.3h1.6v1.6h-1.6zM234.7 87.5h1.6v1.6h-1.6zM233.6 86h1.6v1.6h-1.6zM240.4 104.7h1.6v1.6h-1.6zM246.1 109.3h1.6v1.6h-1.6zM250.1 109.3h1.6v1.6h-1.6zM245.4 109.2h1.6v1.6h-1.6zM249.7 114.2h1.6v1.6h-1.6zM263.7 114.2h1.6v1.6h-1.6zM261.4 115.6h1.6v1.6h-1.6zM256.8 107.8h1.6v1.6h-1.6zM256.3 120.1h1.6v1.6h-1.6zM250.7 102.2h1.6v1.6h-1.6zM244.2 102.5h1.6v1.6h-1.6zM260.6 110.1h1.6v1.6h-1.6zM246.8 95.7h1.6v1.6h-1.6zM248.5 112.7h1.6v1.6h-1.6zM245.3 100h1.6v1.6h-1.6zM248 105.3h1.6v1.6h-1.6zM246.3 104.5h1.6v1.6h-1.6zM255.1 106.2h1.6v1.6h-1.6zM242.4 92.7h1.6v1.6h-1.6zM245.9 96h1.6v1.6h-1.6zM249.2 113.2h1.6v1.6h-1.6zM247.4 110.6h1.6v1.6h-1.6zM250.4 101.6h1.6v1.6h-1.6zM253.4 113.6h1.6v1.6h-1.6zM254.3 106.2h1.6v1.6h-1.6zM243.5 93h1.6v1.6h-1.6zM245.3 102.8h1.6v1.6h-1.6zM250.9 104.1h1.6v1.6h-1.6zM246.7 92.2h1.6v1.6h-1.6zM251.5 99.9h1.6v1.6h-1.6zM246.6 100.2h1.6v1.6h-1.6zM262.7 108.5h1.6v1.6h-1.6zM252.2 103.9h1.6v1.6h-1.6zM246.7 97.8h1.6v1.6h-1.6zM252.9 94.6h1.6v1.6h-1.6zM259.5 113.3h1.6v1.6h-1.6zM263.5 120.3h1.6v1.6h-1.6zM259.8 113.8h1.6v1.6h-1.6zM258.4 113.5h1.6v1.6h-1.6zM248.5 102.5h1.6v1.6h-1.6zM254.4 101.3h1.6v1.6h-1.6zM255.7 118.8h1.6v1.6h-1.6zM264.9 115h1.6v1.6h-1.6zM255.3 100.5h1.6v1.6h-1.6zM253.7 100.2h1.6v1.6h-1.6zM260.9 116.1h1.6v1.6h-1.6zM258.3 114.6h1.6v1.6h-1.6zM249.7 98.6h1.6v1.6h-1.6zM245.4 98.3h1.6v1.6h-1.6zM261 105.4h1.6v1.6h-1.6zM257.7 100.7h1.6v1.6h-1.6zM258.6 114.8h1.6v1.6h-1.6zM255.7 120.3h1.6v1.6h-1.6zM257.7 102.5h1.6v1.6h-1.6zM252.5 96.2h1.6v1.6h-1.6zM246.4 101.5h1.6v1.6h-1.6zM275.7 131.4h1.7v1.7h-1.7zM260.3 95.8h1.7v1.7h-1.7zM285.4 129.1h1.7v1.7h-1.7zM267.3 105h1.7v1.7h-1.7zM275.9 124.9h1.7v1.7h-1.7zM251.9 112.8h1.7v1.7h-1.7zM258.9 95.8h1.7v1.7h-1.7zM280.9 119.6h1.7v1.7h-1.7zM269 108.5h1.7v1.7h-1.7zM273.6 131.4h1.7v1.7h-1.7zM279.8 122.8h1.7v1.7h-1.7zM261.3 98.7h1.7v1.7h-1.7zM273.5 112.8h1.7v1.7h-1.7zM275.9 119.4h1.7v1.7h-1.7zM277.4 118.4h1.7v1.7h-1.7zM275.9 130.5h1.7v1.7h-1.7zM278.3 113.4h1.7v1.7h-1.7zM255.3 122.3h1.7v1.7h-1.7zM264.4 120.5h1.7v1.7h-1.7zM267.4 109.4h1.7v1.7h-1.7zM274.8 117.2h1.7v1.7h-1.7zM218 109.9h1.6v1.6h-1.6zM220 101.3h1.6v1.6h-1.6zM229.5 106.3h1.6v1.6h-1.6zM226.4 116.4h1.6v1.6h-1.6zM224.2 116.4h1.6v1.6h-1.6zM223.3 104.1h1.6v1.6h-1.6zM224.8 115.4h1.6v1.6h-1.6zM228.6 115.2h1.6v1.6h-1.6zM224.6 106.6h1.6v1.6h-1.6zM227.9 107.9h1.6v1.6h-1.6zM224.6 114.6h1.6v1.6h-1.6zM220.3 110h1.6v1.6h-1.6zM219.9 112.8h1.6v1.6h-1.6zM225.4 103h1.6v1.6h-1.6zM226.3 117.2h1.6v1.6h-1.6zM238 128.6h1.6v1.6h-1.6zM235.3 126.5h1.6v1.6h-1.6zM233.4 127h1.6v1.6h-1.6zM236.7 132.6h1.6v1.6h-1.6zM242.1 134.1h1.6v1.6h-1.6zM225.6 118.8h1.6v1.6h-1.6zM240.8 133.7h1.6v1.6h-1.6zM229.4 122.6h1.6v1.6h-1.6zM237.5 130h1.6v1.6h-1.6zM240.7 130h1.6v1.6h-1.6zM226.2 121.5h1.6v1.6h-1.6zM226.4 132.4h1.6v1.6h-1.6zM219.5 121.6h1.6v1.6h-1.6zM224.2 131.6h1.6v1.6h-1.6zM220.6 119h1.6v1.6h-1.6zM223.3 116.1h1.6v1.6h-1.6zM215.9 122.9h1.6v1.6h-1.6zM222.1 123.5h1.6v1.6h-1.6zM223.1 129.8h1.6v1.6h-1.6zM230 131.4h1.6v1.6h-1.6zM221.9 132.8h1.6v1.6h-1.6zM227.7 131.4h1.6v1.6h-1.6zM222.3 113.2h1.6v1.6h-1.6zM222.1 124.3h1.6v1.6h-1.6zM217.4 119.9h1.6v1.6h-1.6zM219 116.9h1.6v1.6h-1.6zM222.6 116.4h1.6v1.6h-1.6zM219.2 126h1.6v1.6h-1.6zM227 124.7h1.6v1.6h-1.6zM226.9 127.5h1.6v1.6h-1.6zM229.6 139h1.6v1.6h-1.6z"/>
<line x1="217.3" y1="81.9" x2="217.3" y2="150.1" stroke="#ff0a0a" stroke-width="1.55"/>
<polygon points="217.3,155.7 213.3,149.1 221.3,149.1" fill="#ff0a0a"/>
<line x1="217.3" y1="82.7" x2="347.3" y2="82.7" stroke="#ff0a0a" stroke-width="1.55"/>
<polygon points="353.8,82.7 346.3,87.3 346.3,78.1" fill="#ff0a0a"/>
<text x="276.2" y="49.03" font-size="8.1" fill="#000" text-anchor="start" font-family="'Liberation Serif', 'Times New Roman', serif" textLength="47.5" lengthAdjust="spacingAndGlyphs">Non-Reservoir</text>
<text x="272.4" y="77.36" font-size="6.2" fill="#000" text-anchor="start" font-family="'Liberation Serif', 'Times New Roman', serif" textLength="37.8" lengthAdjust="spacingAndGlyphs">Sw-cutoff 60%</text>
<text x="301.7" y="128.13" font-size="8.1" fill="#000" text-anchor="start" font-family="'Liberation Serif', 'Times New Roman', serif" textLength="31" lengthAdjust="spacingAndGlyphs">Reservoir</text>
<text x="223" y="142.82" font-size="6.4" fill="#000" text-anchor="start" font-family="'Liberation Serif', 'Times New Roman', serif" textLength="34.6" lengthAdjust="spacingAndGlyphs">&#934;-cutoff 3%</text>
<rect x="209.5" y="34" width="145" height="121.5" fill="none" stroke="#b4b4b4" stroke-width="0.8"/>
<rect x="376.5" y="5.5" width="170.5" height="234.5" fill="#e5f2fd" stroke="#adb6c0" stroke-width="1"/>
<text x="461.2" y="15.09" font-size="5.80" fill="#202020" text-anchor="middle" font-family="'Liberation Sans', Arial, sans-serif" textLength="48.5" lengthAdjust="spacingAndGlyphs" stroke="#202020" stroke-width="0.04">Multi-Well Analysis</text>
<text x="461.2" y="21.9" font-size="4.3" fill="#2c2ca0" text-anchor="middle" font-family="'Liberation Sans', Arial, sans-serif" textLength="20" lengthAdjust="spacingAndGlyphs"><tspan font-weight="bold">&#966;eff</tspan> / Perm</text>
<text x="405.6" y="27.83" font-size="3.70" fill="#383838" text-anchor="start" font-family="'Liberation Sans', Arial, sans-serif" textLength="22.3" lengthAdjust="spacingAndGlyphs" stroke="#383838" stroke-width="0.06">Active Zones</text>
<text x="430.8" y="27.83" font-size="3.70" fill="#383838" text-anchor="start" font-family="'Liberation Sans', Arial, sans-serif" stroke="#383838" stroke-width="0.06">:</text>
<text x="433.6" y="27.83" font-size="3.70" fill="#383838" text-anchor="start" font-family="'Liberation Sans', Arial, sans-serif" stroke="#383838" stroke-width="0.06" textLength="13" lengthAdjust="spacing">W1Z1</text>
<text x="450.2" y="27.83" font-size="3.70" fill="#383838" text-anchor="start" font-family="'Liberation Sans', Arial, sans-serif" stroke="#383838" stroke-width="0.06" textLength="13" lengthAdjust="spacing">W2Z1</text>
<text x="466.8" y="27.83" font-size="3.70" fill="#383838" text-anchor="start" font-family="'Liberation Sans', Arial, sans-serif" stroke="#383838" stroke-width="0.06" textLength="13" lengthAdjust="spacing">W3Z1</text>
<text x="483.4" y="27.83" font-size="3.70" fill="#383838" text-anchor="start" font-family="'Liberation Sans', Arial, sans-serif" stroke="#383838" stroke-width="0.06" textLength="13" lengthAdjust="spacing">W4Z1</text>
<text x="500" y="27.83" font-size="3.70" fill="#383838" text-anchor="start" font-family="'Liberation Sans', Arial, sans-serif" stroke="#383838" stroke-width="0.06" textLength="13" lengthAdjust="spacing">W5Z1</text>
<rect x="396.4" y="33.3" width="142.9" height="123" fill="#ffffff"/>
<line x1="396.4" y1="33.3" x2="396.4" y2="156.3" stroke="#e7e7e7" stroke-width="0.8"/>
<line x1="425" y1="33.3" x2="425" y2="156.3" stroke="#e7e7e7" stroke-width="0.8"/>
<line x1="453.6" y1="33.3" x2="453.6" y2="156.3" stroke="#e7e7e7" stroke-width="0.8"/>
<line x1="482.1" y1="33.3" x2="482.1" y2="156.3" stroke="#e7e7e7" stroke-width="0.8"/>
<line x1="510.7" y1="33.3" x2="510.7" y2="156.3" stroke="#e7e7e7" stroke-width="0.8"/>
<line x1="539.3" y1="33.3" x2="539.3" y2="156.3" stroke="#e7e7e7" stroke-width="0.8"/>
<line x1="396.4" y1="33.3" x2="539.3" y2="33.3" stroke="#e7e7e7" stroke-width="0.8"/>
<line x1="396.4" y1="40.7" x2="539.3" y2="40.7" stroke="#e7e7e7" stroke-width="0.8"/>
<line x1="396.4" y1="50.5" x2="539.3" y2="50.5" stroke="#e7e7e7" stroke-width="0.8"/>
<line x1="396.4" y1="57.9" x2="539.3" y2="57.9" stroke="#e7e7e7" stroke-width="0.8"/>
<line x1="396.4" y1="65.3" x2="539.3" y2="65.3" stroke="#e7e7e7" stroke-width="0.8"/>
<line x1="396.4" y1="75.1" x2="539.3" y2="75.1" stroke="#e7e7e7" stroke-width="0.8"/>
<line x1="396.4" y1="82.5" x2="539.3" y2="82.5" stroke="#e7e7e7" stroke-width="0.8"/>
<line x1="396.4" y1="89.9" x2="539.3" y2="89.9" stroke="#e7e7e7" stroke-width="0.8"/>
<line x1="396.4" y1="99.7" x2="539.3" y2="99.7" stroke="#e7e7e7" stroke-width="0.8"/>
<line x1="396.4" y1="107.1" x2="539.3" y2="107.1" stroke="#e7e7e7" stroke-width="0.8"/>
<line x1="396.4" y1="114.5" x2="539.3" y2="114.5" stroke="#e7e7e7" stroke-width="0.8"/>
<line x1="396.4" y1="124.3" x2="539.3" y2="124.3" stroke="#e7e7e7" stroke-width="0.8"/>
<line x1="396.4" y1="131.7" x2="539.3" y2="131.7" stroke="#e7e7e7" stroke-width="0.8"/>
<line x1="396.4" y1="139.1" x2="539.3" y2="139.1" stroke="#e7e7e7" stroke-width="0.8"/>
<line x1="396.4" y1="148.9" x2="539.3" y2="148.9" stroke="#e7e7e7" stroke-width="0.8"/>
<line x1="396.4" y1="156.3" x2="539.3" y2="156.3" stroke="#e7e7e7" stroke-width="0.8"/>
<text x="396.4" y="161.45" font-size="4.30" fill="#303030" text-anchor="middle" font-family="'Liberation Sans', Arial, sans-serif" stroke="#303030" stroke-width="0.05">0.02</text>
<text x="425" y="161.45" font-size="4.30" fill="#303030" text-anchor="middle" font-family="'Liberation Sans', Arial, sans-serif" stroke="#303030" stroke-width="0.05">0.216</text>
<text x="453.6" y="161.45" font-size="4.30" fill="#303030" text-anchor="middle" font-family="'Liberation Sans', Arial, sans-serif" stroke="#303030" stroke-width="0.05">0.412</text>
<text x="482.1" y="161.45" font-size="4.30" fill="#303030" text-anchor="middle" font-family="'Liberation Sans', Arial, sans-serif" stroke="#303030" stroke-width="0.05">0.608</text>
<text x="510.7" y="161.45" font-size="4.30" fill="#303030" text-anchor="middle" font-family="'Liberation Sans', Arial, sans-serif" stroke="#303030" stroke-width="0.05">0.804</text>
<text x="539.3" y="161.45" font-size="4.30" fill="#303030" text-anchor="middle" font-family="'Liberation Sans', Arial, sans-serif" stroke="#303030" stroke-width="0.05">1</text>
<text x="393.8" y="34.55" font-size="4.30" fill="#303030" text-anchor="end" font-family="'Liberation Sans', Arial, sans-serif" stroke="#303030" stroke-width="0.05">1000</text>
<text x="393.8" y="41.95" font-size="4.30" fill="#303030" text-anchor="end" font-family="'Liberation Sans', Arial, sans-serif" stroke="#303030" stroke-width="0.05">500</text>
<text x="393.8" y="51.74" font-size="4.30" fill="#303030" text-anchor="end" font-family="'Liberation Sans', Arial, sans-serif" stroke="#303030" stroke-width="0.05">200</text>
<text x="393.8" y="59.15" font-size="4.30" fill="#303030" text-anchor="end" font-family="'Liberation Sans', Arial, sans-serif" stroke="#303030" stroke-width="0.05">100</text>
<text x="393.8" y="66.55" font-size="4.30" fill="#303030" text-anchor="end" font-family="'Liberation Sans', Arial, sans-serif" stroke="#303030" stroke-width="0.05">50</text>
<text x="393.8" y="76.34" font-size="4.30" fill="#303030" text-anchor="end" font-family="'Liberation Sans', Arial, sans-serif" stroke="#303030" stroke-width="0.05">20</text>
<text x="393.8" y="83.75" font-size="4.30" fill="#303030" text-anchor="end" font-family="'Liberation Sans', Arial, sans-serif" stroke="#303030" stroke-width="0.05">10</text>
<text x="393.8" y="91.15" font-size="4.30" fill="#303030" text-anchor="end" font-family="'Liberation Sans', Arial, sans-serif" stroke="#303030" stroke-width="0.05">5</text>
<text x="393.8" y="100.94" font-size="4.30" fill="#303030" text-anchor="end" font-family="'Liberation Sans', Arial, sans-serif" stroke="#303030" stroke-width="0.05">2</text>
<text x="393.8" y="108.35" font-size="4.30" fill="#303030" text-anchor="end" font-family="'Liberation Sans', Arial, sans-serif" stroke="#303030" stroke-width="0.05">1</text>
<text x="393.8" y="115.75" font-size="4.30" fill="#303030" text-anchor="end" font-family="'Liberation Sans', Arial, sans-serif" stroke="#303030" stroke-width="0.05">0.5</text>
<text x="393.8" y="125.54" font-size="4.30" fill="#303030" text-anchor="end" font-family="'Liberation Sans', Arial, sans-serif" stroke="#303030" stroke-width="0.05">0.2</text>
<text x="393.8" y="132.95" font-size="4.30" fill="#303030" text-anchor="end" font-family="'Liberation Sans', Arial, sans-serif" stroke="#303030" stroke-width="0.05">0.1</text>
<text x="393.8" y="140.35" font-size="4.30" fill="#303030" text-anchor="end" font-family="'Liberation Sans', Arial, sans-serif" stroke="#303030" stroke-width="0.05">0.05</text>
<text x="393.8" y="150.14" font-size="4.30" fill="#303030" text-anchor="end" font-family="'Liberation Sans', Arial, sans-serif" stroke="#303030" stroke-width="0.05">0.02</text>
<text x="393.8" y="157.55" font-size="4.30" fill="#303030" text-anchor="end" font-family="'Liberation Sans', Arial, sans-serif" stroke="#303030" stroke-width="0.05">0.01</text>
<text transform="translate(381.3 92.2) rotate(-90)" x="0" y="0" font-size="4.6" fill="#2c2ca0" stroke="#2c2ca0" stroke-width="0.1" text-anchor="middle" font-family="'Liberation Sans', Arial, sans-serif" textLength="16" lengthAdjust="spacingAndGlyphs">Perm - md</text>
<text x="468.2" y="166.86" font-size="4.60" fill="#2c2ca0" text-anchor="middle" font-family="'Liberation Sans', Arial, sans-serif" textLength="24" lengthAdjust="spacingAndGlyphs" stroke="#2c2ca0" stroke-width="0.1"><tspan font-weight="bold">&#966;eff</tspan> - gm/cc</text>
<text x="460.2" y="172.47" font-size="3.80" fill="#3a3a3a" text-anchor="middle" font-family="'Liberation Sans', Arial, sans-serif" textLength="74.2" lengthAdjust="spacingAndGlyphs" stroke="#3a3a3a" stroke-width="0.03">3823 points plotted out of 4829 (1006 outliers)</text>
<rect x="383.2" y="176.1" width="15.49" height="4.2" fill="#0a14dc" stroke="#000050" stroke-opacity="0.3" stroke-width="0.45"/>
<text x="390.9" y="184.51" font-size="3.35" fill="#282828" text-anchor="middle" font-family="'Liberation Sans', Arial, sans-serif" stroke="#282828" stroke-width="0.1">0 - 15</text>
<rect x="398.9" y="176.1" width="15.49" height="4.2" fill="#1478ee" stroke="#000050" stroke-opacity="0.3" stroke-width="0.45"/>
<text x="406.6" y="184.51" font-size="3.35" fill="#282828" text-anchor="middle" font-family="'Liberation Sans', Arial, sans-serif" stroke="#282828" stroke-width="0.1">15 - 30</text>
<rect x="414.6" y="176.1" width="15.49" height="4.2" fill="#14e0f2" stroke="#000050" stroke-opacity="0.3" stroke-width="0.45"/>
<text x="422.3" y="184.51" font-size="3.35" fill="#282828" text-anchor="middle" font-family="'Liberation Sans', Arial, sans-serif" stroke="#282828" stroke-width="0.1">30 - 45</text>
<rect x="430.3" y="176.1" width="15.49" height="4.2" fill="#14eea4" stroke="#000050" stroke-opacity="0.3" stroke-width="0.45"/>
<text x="438" y="184.51" font-size="3.35" fill="#282828" text-anchor="middle" font-family="'Liberation Sans', Arial, sans-serif" stroke="#282828" stroke-width="0.1">45 - 60</text>
<rect x="446" y="176.1" width="15.49" height="4.2" fill="#10e010" stroke="#000050" stroke-opacity="0.3" stroke-width="0.45"/>
<text x="453.7" y="184.51" font-size="3.35" fill="#282828" text-anchor="middle" font-family="'Liberation Sans', Arial, sans-serif" stroke="#282828" stroke-width="0.1">60 - 75</text>
<rect x="461.7" y="176.1" width="15.49" height="4.2" fill="#30dc20" stroke="#000050" stroke-opacity="0.3" stroke-width="0.45"/>
<text x="469.4" y="184.51" font-size="3.35" fill="#282828" text-anchor="middle" font-family="'Liberation Sans', Arial, sans-serif" stroke="#282828" stroke-width="0.1">75 - 90</text>
<rect x="477.3" y="176.1" width="15.49" height="4.2" fill="#8ce81c" stroke="#000050" stroke-opacity="0.3" stroke-width="0.45"/>
<text x="485.1" y="184.51" font-size="3.35" fill="#282828" text-anchor="middle" font-family="'Liberation Sans', Arial, sans-serif" stroke="#282828" stroke-width="0.1">90 - 105</text>
<rect x="493" y="176.1" width="15.49" height="4.2" fill="#ffe800" stroke="#000050" stroke-opacity="0.3" stroke-width="0.45"/>
<text x="500.8" y="184.51" font-size="3.35" fill="#282828" text-anchor="middle" font-family="'Liberation Sans', Arial, sans-serif" stroke="#282828" stroke-width="0.1">105 - 120</text>
<rect x="508.7" y="176.1" width="15.49" height="4.2" fill="#ff8000" stroke="#000050" stroke-opacity="0.3" stroke-width="0.45"/>
<text x="516.5" y="184.51" font-size="3.35" fill="#282828" text-anchor="middle" font-family="'Liberation Sans', Arial, sans-serif" stroke="#282828" stroke-width="0.1">120 - 135</text>
<rect x="524.4" y="176.1" width="15.49" height="4.2" fill="#ff1010" stroke="#000050" stroke-opacity="0.3" stroke-width="0.45"/>
<text x="532.2" y="184.51" font-size="3.35" fill="#282828" text-anchor="middle" font-family="'Liberation Sans', Arial, sans-serif" stroke="#282828" stroke-width="0.1">135 - 150</text>
<text x="461.2" y="189.32" font-size="4.50" fill="#2c2ca0" text-anchor="middle" font-family="'Liberation Sans', Arial, sans-serif" textLength="20.4" lengthAdjust="spacingAndGlyphs" stroke="#2c2ca0" stroke-width="0.1">GR - GAPI</text>
<text x="389.2" y="200.06" font-size="3.50" fill="#3a3a3a" text-anchor="start" font-family="'Liberation Sans', Arial, sans-serif" stroke="#3a3a3a" stroke-width="0.04">Well</text>
<text x="428.5" y="200.06" font-size="3.50" fill="#3a3a3a" text-anchor="start" font-family="'Liberation Sans', Arial, sans-serif" stroke="#3a3a3a" stroke-width="0.04">Zone</text>
<text x="466.8" y="200.06" font-size="3.50" fill="#3a3a3a" text-anchor="start" font-family="'Liberation Sans', Arial, sans-serif" stroke="#3a3a3a" stroke-width="0.04">Depths</text>
<text x="506" y="200.06" font-size="3.50" fill="#3a3a3a" text-anchor="start" font-family="'Liberation Sans', Arial, sans-serif" stroke="#3a3a3a" stroke-width="0.04">Discriminators</text>
<text x="389.2" y="204.96" font-size="3.50" fill="#3a3a3a" text-anchor="start" font-family="'Liberation Sans', Arial, sans-serif" textLength="28.2" lengthAdjust="spacingAndGlyphs" stroke="#3a3a3a" stroke-width="0.04">(1) QAC00PUR-03</text>
<text x="428.5" y="204.96" font-size="3.50" fill="#3a3a3a" text-anchor="start" font-family="'Liberation Sans', Arial, sans-serif" textLength="29.5" lengthAdjust="spacingAndGlyphs" stroke="#3a3a3a" stroke-width="0.04">(1) Reservoir zone</text>
<text x="466.8" y="204.96" font-size="3.50" fill="#3a3a3a" text-anchor="start" font-family="'Liberation Sans', Arial, sans-serif" stroke="#3a3a3a" stroke-width="0.04">1010 M - 1220 M</text>
<text x="506" y="204.96" font-size="3.50" fill="#3a3a3a" text-anchor="start" font-family="'Liberation Sans', Arial, sans-serif" stroke="#3a3a3a" stroke-width="0.04">None</text>
<circle cx="385.1" cy="203.7" r="0.9" fill="#3ad8e8"/>
<text x="389.2" y="209.91" font-size="3.50" fill="#3a3a3a" text-anchor="start" font-family="'Liberation Sans', Arial, sans-serif" textLength="28.2" lengthAdjust="spacingAndGlyphs" stroke="#3a3a3a" stroke-width="0.04">(2) QAC00PUR-11</text>
<text x="428.5" y="209.91" font-size="3.50" fill="#3a3a3a" text-anchor="start" font-family="'Liberation Sans', Arial, sans-serif" textLength="29.5" lengthAdjust="spacingAndGlyphs" stroke="#3a3a3a" stroke-width="0.04">(1) Reservoir zone</text>
<text x="466.8" y="209.91" font-size="3.50" fill="#3a3a3a" text-anchor="start" font-family="'Liberation Sans', Arial, sans-serif" stroke="#3a3a3a" stroke-width="0.04">927 M - 1145 M</text>
<text x="506" y="209.91" font-size="3.50" fill="#3a3a3a" text-anchor="start" font-family="'Liberation Sans', Arial, sans-serif" stroke="#3a3a3a" stroke-width="0.04">None</text>
<circle cx="385.1" cy="208.6" r="0.9" fill="#a8ecf4"/>
<text x="389.2" y="214.86" font-size="3.50" fill="#3a3a3a" text-anchor="start" font-family="'Liberation Sans', Arial, sans-serif" textLength="28.2" lengthAdjust="spacingAndGlyphs" stroke="#3a3a3a" stroke-width="0.04">(3) QAC00PUR-15</text>
<text x="428.5" y="214.86" font-size="3.50" fill="#3a3a3a" text-anchor="start" font-family="'Liberation Sans', Arial, sans-serif" textLength="29.5" lengthAdjust="spacingAndGlyphs" stroke="#3a3a3a" stroke-width="0.04">(1) Reservoir zone</text>
<text x="466.8" y="214.86" font-size="3.50" fill="#3a3a3a" text-anchor="start" font-family="'Liberation Sans', Arial, sans-serif" stroke="#3a3a3a" stroke-width="0.04">1734.04 M - 1784.04 M</text>
<text x="506" y="214.86" font-size="3.50" fill="#3a3a3a" text-anchor="start" font-family="'Liberation Sans', Arial, sans-serif" stroke="#3a3a3a" stroke-width="0.04">None</text>
<rect x="384.1" y="212.6" width="2" height="2" fill="#10c8e0" transform="rotate(45 385.1 213.6)"/>
<text x="389.2" y="219.81" font-size="3.50" fill="#3a3a3a" text-anchor="start" font-family="'Liberation Sans', Arial, sans-serif" textLength="28.2" lengthAdjust="spacingAndGlyphs" stroke="#3a3a3a" stroke-width="0.04">(4) QAC00PUR-16</text>
<text x="428.5" y="219.81" font-size="3.50" fill="#3a3a3a" text-anchor="start" font-family="'Liberation Sans', Arial, sans-serif" textLength="29.5" lengthAdjust="spacingAndGlyphs" stroke="#3a3a3a" stroke-width="0.04">(1) Reservoir zone</text>
<text x="466.8" y="219.81" font-size="3.50" fill="#3a3a3a" text-anchor="start" font-family="'Liberation Sans', Arial, sans-serif" stroke="#3a3a3a" stroke-width="0.04">900 M - 940 M</text>
<text x="506" y="219.81" font-size="3.50" fill="#3a3a3a" text-anchor="start" font-family="'Liberation Sans', Arial, sans-serif" stroke="#3a3a3a" stroke-width="0.04">None</text>
<polygon points="385.1,217.2 383.8,219.5 386.4,219.5" fill="none" stroke="#90e0f0" stroke-width="0.5"/>
<text x="389.2" y="224.76" font-size="3.50" fill="#3a3a3a" text-anchor="start" font-family="'Liberation Sans', Arial, sans-serif" textLength="28.2" lengthAdjust="spacingAndGlyphs" stroke="#3a3a3a" stroke-width="0.04">(5) QAC00PUR-17</text>
<text x="428.5" y="224.76" font-size="3.50" fill="#3a3a3a" text-anchor="start" font-family="'Liberation Sans', Arial, sans-serif" textLength="29.5" lengthAdjust="spacingAndGlyphs" stroke="#3a3a3a" stroke-width="0.04">(1) Reservoir zone</text>
<text x="466.8" y="224.76" font-size="3.50" fill="#3a3a3a" text-anchor="start" font-family="'Liberation Sans', Arial, sans-serif" stroke="#3a3a3a" stroke-width="0.04">925 M - 1010 M</text>
<text x="506" y="224.76" font-size="3.50" fill="#3a3a3a" text-anchor="start" font-family="'Liberation Sans', Arial, sans-serif" stroke="#3a3a3a" stroke-width="0.04">None</text>
<polygon points="385.1,222 383.5,224.6 386.7,224.6" fill="#10d0e8"/>
<text x="461.2" y="237.30" font-size="3.60" fill="#3a3a3a" text-anchor="middle" font-family="'Liberation Sans', Arial, sans-serif" textLength="30" lengthAdjust="spacingAndGlyphs" stroke="#3a3a3a" stroke-width="0.04">Created in IP 2019</text>
<text x="450" y="254.2" font-size="12" font-weight="bold" fill="#000" text-anchor="middle" font-family="'Liberation Serif', 'Times New Roman', serif">(c)</text>
<polygon points="413.5,33.5 412.2,36.5 410.9,39.5 409.6,42.5 408.4,45.5 407.5,48.5 406.7,51.5 405.8,54.5 404.9,57.5 404.2,60.5 403.6,63.5 402.9,66.5 402.2,69.5 401.6,72.5 400.9,75.5 400.5,78.5 400.1,81.5 399.7,84.5 399.3,87.5 398.9,90.5 398.5,93.5 398.3,96.5 398.3,97 401.3,97 401.4,96.5 401.9,93.5 402.7,90.5 403.5,87.5 404.3,84.5 405.1,81.5 405.9,78.5 406.7,75.5 407.6,72.5 408.5,69.5 409.5,66.5 410.5,63.5 411.4,60.5 412.4,57.5 413.3,54.5 414.2,51.5 415.1,48.5 416,45.5 417.1,42.5 418.3,39.5 419.4,36.5 420.5,33.5" fill="#14e0f2"/>
<polygon points="405.8,50 404.7,53 403.7,56 402.8,59 402.1,62 401.4,65 400.6,68 399.9,71 399.2,74 398.8,77 398.4,80 398,83 397.7,86 397.3,89 397.2,90 399,90 399.1,89 399.5,86 399.9,83 400.3,80 400.7,77 401.2,74 401.9,71 402.6,68 403.2,65 403.9,62 404.6,59 405.4,56 406.2,53 407.1,50" fill="#70ea60" fill-opacity="0.85"/>
<polygon points="423.4,34 422,37 420.6,40 419.2,43 418,46 417.2,49 416.4,52 415.6,55 414.8,58 413.7,61 412.6,64 411.5,67 410.4,70 409.2,73 408.3,76 407.6,79 406.9,82 406.2,85 405.6,88 404.9,91 404.2,94 403.5,97 402.8,100 408.7,100 409.8,97 410.8,94 411.5,91 412.2,88 413,85 413.8,82 414.5,79 415.2,76 416.4,73 417.8,70 419.1,67 420.5,64 421.8,61 423.2,58 424.4,55 425.7,52 426.9,49 428.2,46 429.8,43 431.5,40 433.3,37 435,34" fill="#1478ee"/>
<polygon points="426.1,54 424.8,57 423.5,60 422.1,63 420.7,66 419.3,69 417.9,72 416.5,75 415.8,78 415,81 414.2,84 413.5,87 412.8,90 412,93 411.1,96 410,99 409.7,100 412.5,100 413,99 414.5,96 415.8,93 416.9,90 418,87 419.1,84 420.2,81 421.4,78 422.5,75 424.5,72 426.6,69 428.6,66 430.6,63 432.6,60 434.7,57 436.8,54" fill="#14e0f2" fill-opacity="0.9"/>
<polygon points="439.5,50 437.5,53 435.4,56 433.3,59 431.3,62 429.3,65 427.2,68 425.2,71 423.2,74 421.8,77 420.6,80 419.5,83 418.4,86 417.2,89 416.1,92 415,95 413.5,98 412,101 410.5,104 414.2,104 415.8,101 417.4,98 419,95 420.2,92 421.4,89 422.6,86 423.8,83 425,80 426.2,77 427.7,74 429.7,71 431.7,68 433.6,65 435.6,62 437.6,59 439.5,56 441.3,53 443,50" fill="#70ea60"/>
<polygon points="404,95 403.3,98 402.6,101 401.9,104 401.2,107 400.5,110 400.3,113 400.1,116 399.8,119 399.6,122 399.4,125 399.3,126 405.2,126 405.5,125 406.6,122 407.7,119 408.8,116 409.9,113 411,110 412.6,107 414.2,104 415.8,101 417.4,98 419,95" fill="#14e0f2" fill-opacity="0.85"/>
<polygon points="404,95 403.3,98 402.6,101 401.9,104 401.2,107 400.5,110 400.3,113 400.1,116 399.8,119 399.6,122 399.4,125 399.1,128 402.3,128 402.8,125 403.2,122 403.6,119 404.1,116 404.6,113 405,110 406.1,107 407.2,104 408.3,101 409.4,98 410.5,95" fill="#1478ee" fill-opacity="0.9"/>
<path fill="#1478ee" d="M397.1 93.8h1.6v1.6h-1.6zM413.6 48.1h1.6v1.6h-1.6zM401.9 74.4h1.6v1.6h-1.6zM402.1 86.5h1.6v1.6h-1.6zM398.3 82.2h1.6v1.6h-1.6zM409.7 58.7h1.6v1.6h-1.6zM411.9 39.1h1.6v1.6h-1.6zM418.6 36.2h1.6v1.6h-1.6zM402.9 83.6h1.6v1.6h-1.6zM408.9 42.2h1.6v1.6h-1.6zM402 83.5h1.6v1.6h-1.6zM405.1 74.3h1.6v1.6h-1.6zM398.8 80.7h1.6v1.6h-1.6zM410.4 57h1.6v1.6h-1.6zM413.8 51.1h1.6v1.6h-1.6zM425.6 44.1h1.6v1.6h-1.6zM427.9 35.7h1.6v1.6h-1.6zM411.3 84.3h1.6v1.6h-1.6zM406 100.9h1.6v1.6h-1.6zM407.1 95.5h1.6v1.6h-1.6zM430.4 35.3h1.6v1.6h-1.6zM418.9 45.7h1.6v1.6h-1.6zM411.9 77.8h1.6v1.6h-1.6zM414.1 77.4h1.6v1.6h-1.6zM409.4 92.4h1.6v1.6h-1.6zM406.3 103.3h1.6v1.6h-1.6zM406.6 89.2h1.6v1.6h-1.6zM403.5 102h1.6v1.6h-1.6zM422.3 51.2h1.6v1.6h-1.6zM405.7 88.9h1.6v1.6h-1.6zM422.8 37.9h1.6v1.6h-1.6zM423.5 53.3h1.6v1.6h-1.6zM419.3 43.2h1.6v1.6h-1.6zM412.3 78h1.6v1.6h-1.6zM407.5 102.1h1.6v1.6h-1.6zM432.3 35.6h1.6v1.6h-1.6zM407 102.8h1.6v1.6h-1.6zM415.7 63.8h1.6v1.6h-1.6zM403.2 99.5h1.6v1.6h-1.6zM410.9 91.8h1.6v1.6h-1.6zM425.2 48.4h1.6v1.6h-1.6zM412.4 87.3h1.6v1.6h-1.6zM409 76h1.6v1.6h-1.6zM426.3 48.8h1.6v1.6h-1.6zM409.6 72.1h1.6v1.6h-1.6zM419.9 45.3h1.6v1.6h-1.6zM401.9 105h1.6v1.6h-1.6zM417.8 47.9h1.6v1.6h-1.6zM413.9 67.9h1.6v1.6h-1.6zM417.9 67.7h1.6v1.6h-1.6zM410.2 85.2h1.6v1.6h-1.6zM423.1 36.3h1.6v1.6h-1.6zM417.4 67.4h1.6v1.6h-1.6zM403.7 98.9h1.6v1.6h-1.6zM427.2 41.6h1.6v1.6h-1.6zM419 61.9h1.6v1.6h-1.6zM431.7 33.6h1.6v1.6h-1.6zM407.9 78.3h1.6v1.6h-1.6zM407.2 91.4h1.6v1.6h-1.6zM421.8 52.1h1.6v1.6h-1.6zM403.4 100.4h1.6v1.6h-1.6zM419.9 56.5h1.6v1.6h-1.6zM420.8 55.1h1.6v1.6h-1.6zM426.8 34.4h1.6v1.6h-1.6zM412.1 79h1.6v1.6h-1.6zM407.5 102.7h1.6v1.6h-1.6zM419.3 50.8h1.6v1.6h-1.6zM432.3 33.7h1.6v1.6h-1.6zM426.7 41.4h1.6v1.6h-1.6zM408.5 83.4h1.6v1.6h-1.6zM422.2 42.4h1.6v1.6h-1.6zM404 102.6h1.6v1.6h-1.6zM411.2 69.8h1.6v1.6h-1.6zM419.4 59.3h1.6v1.6h-1.6zM429.9 36.9h1.6v1.6h-1.6zM423.2 37.3h1.6v1.6h-1.6zM420.1 63.2h1.6v1.6h-1.6zM404.3 100.1h1.6v1.6h-1.6zM417.4 53.6h1.6v1.6h-1.6zM422.7 48.3h1.6v1.6h-1.6zM415.8 71.6h1.6v1.6h-1.6zM411 74.4h1.6v1.6h-1.6zM429.8 37.9h1.6v1.6h-1.6zM419.8 58.4h1.6v1.6h-1.6zM408.2 80.6h1.6v1.6h-1.6zM432.7 34h1.6v1.6h-1.6zM409.3 74.5h1.6v1.6h-1.6zM419.9 57.4h1.6v1.6h-1.6zM415.5 68h1.6v1.6h-1.6zM410.8 85.9h1.6v1.6h-1.6zM425.3 46.9h1.6v1.6h-1.6zM410.4 89h1.6v1.6h-1.6zM425.1 50.6h1.6v1.6h-1.6zM426 48.2h1.6v1.6h-1.6zM409.6 80.6h1.6v1.6h-1.6zM422.9 47.8h1.6v1.6h-1.6zM423.7 50.3h1.6v1.6h-1.6zM411 79h1.6v1.6h-1.6zM407 86.6h1.6v1.6h-1.6zM423.3 50h1.6v1.6h-1.6zM429.6 36.4h1.6v1.6h-1.6zM422.2 55.2h1.6v1.6h-1.6zM424.7 48.7h1.6v1.6h-1.6zM434.1 34.8h1.6v1.6h-1.6zM424 53.3h1.6v1.6h-1.6zM404.2 98.9h1.6v1.6h-1.6zM410.1 79.5h1.6v1.6h-1.6zM430.9 34h1.6v1.6h-1.6zM410.9 72.5h1.6v1.6h-1.6zM404.4 101.6h1.6v1.6h-1.6zM411 89.4h1.6v1.6h-1.6zM412.6 81.6h1.6v1.6h-1.6zM414.8 61h1.6v1.6h-1.6zM418.1 54.5h1.6v1.6h-1.6zM416.8 58h1.6v1.6h-1.6zM406.2 94.7h1.6v1.6h-1.6zM424.8 42.8h1.6v1.6h-1.6zM412.7 63.6h1.6v1.6h-1.6zM424.4 33.9h1.6v1.6h-1.6zM414.6 59.9h1.6v1.6h-1.6zM424.1 54.6h1.6v1.6h-1.6zM421.6 39.2h1.6v1.6h-1.6zM422.6 54h1.6v1.6h-1.6zM406.9 91.9h1.6v1.6h-1.6zM431.7 38.1h1.6v1.6h-1.6zM410.9 77.5h1.6v1.6h-1.6zM407.6 98.1h1.6v1.6h-1.6zM429.5 38.3h1.6v1.6h-1.6zM423.8 44.6h1.6v1.6h-1.6zM406.3 85h1.6v1.6h-1.6zM407.9 98.4h1.6v1.6h-1.6zM414.3 70.8h1.6v1.6h-1.6zM408.3 86.4h1.6v1.6h-1.6zM416.1 72.4h1.6v1.6h-1.6zM406.2 85.5h1.6v1.6h-1.6zM411.8 68h1.6v1.6h-1.6zM404.9 94.7h1.6v1.6h-1.6zM428.3 35.1h1.6v1.6h-1.6zM413.2 73h1.6v1.6h-1.6zM426.6 48.5h1.6v1.6h-1.6zM418.8 50.7h1.6v1.6h-1.6zM412.6 68h1.6v1.6h-1.6zM417.4 53.2h1.6v1.6h-1.6zM417.2 64.5h1.6v1.6h-1.6zM418.8 46.4h1.6v1.6h-1.6zM414.6 67.2h1.6v1.6h-1.6zM425.4 46.4h1.6v1.6h-1.6zM427.1 40.5h1.6v1.6h-1.6zM422.3 59.6h1.6v1.6h-1.6zM404.8 104.2h1.6v1.6h-1.6zM409.7 72.4h1.6v1.6h-1.6zM405.9 99.2h1.6v1.6h-1.6zM403.4 100.2h1.6v1.6h-1.6zM418.4 54h1.6v1.6h-1.6zM404.2 99.2h1.6v1.6h-1.6zM424.1 39h1.6v1.6h-1.6zM422.1 54.8h1.6v1.6h-1.6zM424.7 40.7h1.6v1.6h-1.6zM417.8 52.6h1.6v1.6h-1.6zM407.7 96.5h1.6v1.6h-1.6zM413.2 64.8h1.6v1.6h-1.6zM423.1 35.9h1.6v1.6h-1.6zM408.6 82.7h1.6v1.6h-1.6zM413.5 68.2h1.6v1.6h-1.6zM425.5 35.1h1.6v1.6h-1.6zM409.9 89h1.6v1.6h-1.6zM424.6 43.1h1.6v1.6h-1.6zM422.7 54.7h1.6v1.6h-1.6zM424.5 50.2h1.6v1.6h-1.6zM407.2 88.8h1.6v1.6h-1.6zM424.4 48.4h1.6v1.6h-1.6zM409.2 92.5h1.6v1.6h-1.6zM415.3 70.2h1.6v1.6h-1.6zM410.1 88.4h1.6v1.6h-1.6zM417.9 67.4h1.6v1.6h-1.6zM417.5 70.2h1.6v1.6h-1.6zM416.8 56.3h1.6v1.6h-1.6zM420 43h1.6v1.6h-1.6zM426.1 39.5h1.6v1.6h-1.6zM418.1 68.8h1.6v1.6h-1.6zM411.8 81.3h1.6v1.6h-1.6zM421.8 39.8h1.6v1.6h-1.6zM406.3 85.8h1.6v1.6h-1.6zM423.2 36.3h1.6v1.6h-1.6zM422.5 48.2h1.6v1.6h-1.6zM419.1 46.8h1.6v1.6h-1.6zM417 58.1h1.6v1.6h-1.6zM409.5 95.8h1.6v1.6h-1.6zM425.2 50.7h1.6v1.6h-1.6zM425 41.6h1.6v1.6h-1.6zM415.1 69h1.6v1.6h-1.6zM421.1 48.5h1.6v1.6h-1.6zM425.3 51.8h1.6v1.6h-1.6zM423.2 53.2h1.6v1.6h-1.6zM424 47.7h1.6v1.6h-1.6zM415.4 64.8h1.6v1.6h-1.6zM423.1 57.9h1.6v1.6h-1.6zM412.5 71.2h1.6v1.6h-1.6zM425.7 41.8h1.6v1.6h-1.6zM409.9 77.3h1.6v1.6h-1.6zM406.1 102.4h1.6v1.6h-1.6zM416.7 63.6h1.6v1.6h-1.6zM406.3 86.4h1.6v1.6h-1.6zM415.4 59.7h1.6v1.6h-1.6zM427.2 39.9h1.6v1.6h-1.6zM420.6 59.1h1.6v1.6h-1.6zM408.3 89.7h1.6v1.6h-1.6zM410.5 84.2h1.6v1.6h-1.6zM414.1 80.4h1.6v1.6h-1.6zM423.5 40.7h1.6v1.6h-1.6zM418.2 48h1.6v1.6h-1.6zM405.2 97.8h1.6v1.6h-1.6zM409.8 72.5h1.6v1.6h-1.6zM418.9 61.5h1.6v1.6h-1.6zM419.9 62.3h1.6v1.6h-1.6zM419.6 56h1.6v1.6h-1.6zM417.3 61.2h1.6v1.6h-1.6zM417.2 65.3h1.6v1.6h-1.6zM415 64.9h1.6v1.6h-1.6zM405.4 101.5h1.6v1.6h-1.6zM414 71.1h1.6v1.6h-1.6zM433.8 33.7h1.6v1.6h-1.6zM410.3 91h1.6v1.6h-1.6zM412.2 72.7h1.6v1.6h-1.6zM419.4 50.3h1.6v1.6h-1.6zM402.6 102.3h1.6v1.6h-1.6zM417.8 56.3h1.6v1.6h-1.6zM423 45.4h1.6v1.6h-1.6zM414 78.6h1.6v1.6h-1.6zM420.9 54.2h1.6v1.6h-1.6zM420.8 58.5h1.6v1.6h-1.6zM423.6 46.1h1.6v1.6h-1.6zM423.6 47.2h1.6v1.6h-1.6zM417.9 54.2h1.6v1.6h-1.6zM410 73.3h1.6v1.6h-1.6zM432.5 46.7h1.6v1.6h-1.6zM439.1 53.5h1.6v1.6h-1.6zM432.9 55.7h1.6v1.6h-1.6zM440.1 44.4h1.6v1.6h-1.6zM436.4 47.7h1.6v1.6h-1.6zM432.6 46h1.6v1.6h-1.6zM437.8 38.6h1.6v1.6h-1.6zM437.5 38.5h1.6v1.6h-1.6zM430.9 54.4h1.6v1.6h-1.6zM434.7 51.6h1.6v1.6h-1.6zM429.6 48.2h1.6v1.6h-1.6zM438.6 41.3h1.6v1.6h-1.6zM439.1 51.7h1.6v1.6h-1.6zM445.8 40.3h1.6v1.6h-1.6zM436 55h1.6v1.6h-1.6zM434.8 38.7h1.6v1.6h-1.6zM448.1 39.3h1.6v1.6h-1.6zM440.4 39.6h1.6v1.6h-1.6zM450.4 35.4h1.6v1.6h-1.6zM428.3 54h1.6v1.6h-1.6zM424.2 71h1.6v1.6h-1.6zM426.4 54.3h1.6v1.6h-1.6zM411.3 99.4h1.6v1.6h-1.6zM419.9 75.5h1.6v1.6h-1.6zM424.9 64.2h1.6v1.6h-1.6zM425.7 63.6h1.6v1.6h-1.6zM430 53.1h1.6v1.6h-1.6zM427.6 61.1h1.6v1.6h-1.6zM433.6 53.2h1.6v1.6h-1.6zM422.3 63.3h1.6v1.6h-1.6zM418.5 77.8h1.6v1.6h-1.6zM411 96.4h1.6v1.6h-1.6zM429.6 58.1h1.6v1.6h-1.6zM412 96.6h1.6v1.6h-1.6zM414.7 84.5h1.6v1.6h-1.6zM428.1 65.7h1.6v1.6h-1.6zM431.5 52.5h1.6v1.6h-1.6zM418.1 75h1.6v1.6h-1.6zM428.4 62.8h1.6v1.6h-1.6zM424.6 69.6h1.6v1.6h-1.6zM431.2 60.8h1.6v1.6h-1.6zM421.2 68.3h1.6v1.6h-1.6zM401.1 106.2h1.6v1.6h-1.6zM398.8 113.4h1.6v1.6h-1.6zM402.1 101.1h1.6v1.6h-1.6zM402.3 94.3h1.6v1.6h-1.6zM399.3 111.6h1.6v1.6h-1.6zM400.7 95.3h1.6v1.6h-1.6zM399.4 105.9h1.6v1.6h-1.6zM398.5 127.6h1.6v1.6h-1.6zM398.3 109.8h1.6v1.6h-1.6zM400.3 93.9h1.6v1.6h-1.6zM401.2 96.5h1.6v1.6h-1.6zM400.7 95.2h1.6v1.6h-1.6zM403.3 95.6h1.6v1.6h-1.6zM400.2 111.9h1.6v1.6h-1.6zM401.3 103.4h1.6v1.6h-1.6zM400.2 94.3h1.6v1.6h-1.6zM399.8 113.8h1.6v1.6h-1.6zM398.2 103.9h1.6v1.6h-1.6zM398.9 126.5h1.6v1.6h-1.6zM399 104.1h1.6v1.6h-1.6zM405.6 94.1h1.6v1.6h-1.6zM406 106h1.6v1.6h-1.6zM401.7 122h1.6v1.6h-1.6zM405.8 101.3h1.6v1.6h-1.6zM406.4 102.3h1.6v1.6h-1.6zM402 105.8h1.6v1.6h-1.6zM402.3 116.2h1.6v1.6h-1.6zM401.2 116.1h1.6v1.6h-1.6zM402.6 108.8h1.6v1.6h-1.6zM400.5 125.7h1.6v1.6h-1.6zM407 102.5h1.6v1.6h-1.6zM407 93.7h1.6v1.6h-1.6zM410.2 92.2h1.6v1.6h-1.6zM403.3 104.5h1.6v1.6h-1.6zM404.2 107h1.6v1.6h-1.6zM406.3 97.4h1.6v1.6h-1.6zM406.4 104.1h1.6v1.6h-1.6zM401 110.1h1.6v1.6h-1.6zM400.7 116.6h1.6v1.6h-1.6zM402.3 107.8h1.6v1.6h-1.6zM401.7 108.7h1.6v1.6h-1.6zM406.1 100.4h1.6v1.6h-1.6zM403.3 100.1h1.6v1.6h-1.6zM400.3 120.1h1.6v1.6h-1.6zM400.8 125.6h1.6v1.6h-1.6zM403.1 113.2h1.6v1.6h-1.6zM400.5 118.9h1.6v1.6h-1.6zM401.6 126.4h1.6v1.6h-1.6zM402.4 110.4h1.6v1.6h-1.6zM402.8 104.6h1.6v1.6h-1.6zM404 107h1.6v1.6h-1.6zM402.3 108.6h1.6v1.6h-1.6zM401.2 111h1.6v1.6h-1.6zM401.3 106.4h1.6v1.6h-1.6zM404.8 96.6h1.6v1.6h-1.6zM401.8 120.4h1.6v1.6h-1.6zM403.1 111.8h1.6v1.6h-1.6zM406.3 95.9h1.6v1.6h-1.6zM401.5 108.7h1.6v1.6h-1.6zM401 108.5h1.6v1.6h-1.6zM403 102.7h1.6v1.6h-1.6zM402.6 121.5h1.6v1.6h-1.6zM404.6 105.4h1.6v1.6h-1.6zM404.2 95.9h1.6v1.6h-1.6zM404.9 98.8h1.6v1.6h-1.6zM406.5 94.3h1.6v1.6h-1.6zM401.4 128.4h1.6v1.6h-1.6zM406.9 98.4h1.6v1.6h-1.6zM402.7 108h1.6v1.6h-1.6zM406.9 95.8h1.6v1.6h-1.6zM403.9 110.5h1.6v1.6h-1.6zM403.6 108.7h1.6v1.6h-1.6zM400.4 115.1h1.6v1.6h-1.6zM403.5 103.3h1.6v1.6h-1.6zM402.3 118.5h1.6v1.6h-1.6zM406.1 102.4h1.6v1.6h-1.6zM402.2 126.6h1.6v1.6h-1.6zM402.9 110.6h1.6v1.6h-1.6zM410 93.2h1.6v1.6h-1.6zM402.1 118.8h1.6v1.6h-1.6zM402.8 100.4h1.6v1.6h-1.6zM400.9 111.3h1.6v1.6h-1.6zM406.5 103h1.6v1.6h-1.6zM403.1 114.9h1.6v1.6h-1.6zM401.5 106.9h1.6v1.6h-1.6zM406.2 93.4h1.6v1.6h-1.6zM401.5 108.1h1.6v1.6h-1.6zM403.7 98.7h1.6v1.6h-1.6zM405.6 106.6h1.6v1.6h-1.6zM405.7 101.5h1.6v1.6h-1.6zM399.9 129.5h1.6v1.6h-1.6zM406 93.2h1.6v1.6h-1.6zM407 95.1h1.6v1.6h-1.6zM404.6 99.1h1.6v1.6h-1.6zM400.1 122.8h1.6v1.6h-1.6zM410.2 93h1.6v1.6h-1.6zM403.8 108.8h1.6v1.6h-1.6zM405 101.2h1.6v1.6h-1.6zM401.7 114.1h1.6v1.6h-1.6zM398.2 128.2h1.6v1.6h-1.6zM400.1 147.9h1.6v1.6h-1.6zM401.1 153.3h1.6v1.6h-1.6zM401.7 137.4h1.6v1.6h-1.6zM402 145.1h1.6v1.6h-1.6zM399.5 131.2h1.6v1.6h-1.6zM398.8 144.5h1.6v1.6h-1.6zM397.8 129.9h1.6v1.6h-1.6zM397.4 135.4h1.6v1.6h-1.6zM400.6 146.5h1.6v1.6h-1.6z"/>
<path fill="#0c66e0" d="M419.4 53.7h1.6v1.6h-1.6zM416.6 54.3h1.6v1.6h-1.6zM414.3 75.4h1.6v1.6h-1.6zM404.7 99.8h1.6v1.6h-1.6zM419.4 49.8h1.6v1.6h-1.6zM409.6 86.9h1.6v1.6h-1.6zM407.4 89.2h1.6v1.6h-1.6zM417.9 60.9h1.6v1.6h-1.6zM417.1 54.3h1.6v1.6h-1.6zM402.9 103.7h1.6v1.6h-1.6zM417.1 65.8h1.6v1.6h-1.6zM426.6 43.1h1.6v1.6h-1.6zM413 70.9h1.6v1.6h-1.6zM410 93.3h1.6v1.6h-1.6zM405.9 88.7h1.6v1.6h-1.6zM407.8 80h1.6v1.6h-1.6zM421.7 48.3h1.6v1.6h-1.6zM426.9 39.3h1.6v1.6h-1.6zM409 77.7h1.6v1.6h-1.6zM428 38.2h1.6v1.6h-1.6zM408.9 76h1.6v1.6h-1.6zM412.9 69.4h1.6v1.6h-1.6zM407.1 99.5h1.6v1.6h-1.6zM424 50.4h1.6v1.6h-1.6zM408.3 90h1.6v1.6h-1.6zM412 86.9h1.6v1.6h-1.6zM405.3 93.5h1.6v1.6h-1.6zM421.3 46.2h1.6v1.6h-1.6zM424.1 36.9h1.6v1.6h-1.6zM422.6 48.2h1.6v1.6h-1.6zM409.8 81.9h1.6v1.6h-1.6zM410.8 76.8h1.6v1.6h-1.6zM416.2 56.4h1.6v1.6h-1.6zM424 43.7h1.6v1.6h-1.6zM420.2 47h1.6v1.6h-1.6zM425.1 42.2h1.6v1.6h-1.6zM424.7 51.1h1.6v1.6h-1.6zM416.6 61.9h1.6v1.6h-1.6zM411.3 74.4h1.6v1.6h-1.6zM410.5 83.8h1.6v1.6h-1.6zM403.7 97.7h1.6v1.6h-1.6zM419 62.7h1.6v1.6h-1.6zM425.2 48.2h1.6v1.6h-1.6zM403.7 104.5h1.6v1.6h-1.6zM418.2 61.2h1.6v1.6h-1.6zM420.7 46.3h1.6v1.6h-1.6zM419.3 63.6h1.6v1.6h-1.6zM432.2 36.8h1.6v1.6h-1.6zM403.8 104.9h1.6v1.6h-1.6zM414.6 73.3h1.6v1.6h-1.6zM414.5 74.3h1.6v1.6h-1.6zM413.3 66.5h1.6v1.6h-1.6zM420.6 43h1.6v1.6h-1.6zM405 102.6h1.6v1.6h-1.6zM407.3 95.2h1.6v1.6h-1.6zM405.2 93.4h1.6v1.6h-1.6zM405.4 95.3h1.6v1.6h-1.6zM404.3 111.9h1.6v1.6h-1.6zM408.1 96.8h1.6v1.6h-1.6zM403.3 99.1h1.6v1.6h-1.6zM409.5 97.1h1.6v1.6h-1.6zM405.8 92.9h1.6v1.6h-1.6zM404.8 105.9h1.6v1.6h-1.6z"/>
<path fill="#14e0f2" d="M406 58.2h1.6v1.6h-1.6zM405.2 77.4h1.6v1.6h-1.6zM409 62.2h1.6v1.6h-1.6zM411.3 49.8h1.6v1.6h-1.6zM409.3 52.3h1.6v1.6h-1.6zM403.8 59.5h1.6v1.6h-1.6zM404.2 78.4h1.6v1.6h-1.6zM411.6 56.6h1.6v1.6h-1.6zM407.5 55.3h1.6v1.6h-1.6zM411.2 50.6h1.6v1.6h-1.6zM412.1 49.3h1.6v1.6h-1.6zM407.7 70.6h1.6v1.6h-1.6zM410.4 52.4h1.6v1.6h-1.6zM410.2 56.3h1.6v1.6h-1.6zM407.1 73h1.6v1.6h-1.6zM400.8 68h1.6v1.6h-1.6zM404.7 71.7h1.6v1.6h-1.6zM401.3 83.8h1.6v1.6h-1.6zM403.1 86.9h1.6v1.6h-1.6zM407 74.1h1.6v1.6h-1.6zM410.7 56h1.6v1.6h-1.6zM399.3 80.5h1.6v1.6h-1.6zM407.5 50.3h1.6v1.6h-1.6zM403.1 65.2h1.6v1.6h-1.6zM419.9 34.9h1.6v1.6h-1.6zM405.3 61.9h1.6v1.6h-1.6zM400.8 75.8h1.6v1.6h-1.6zM411.3 59.4h1.6v1.6h-1.6zM409.9 45.2h1.6v1.6h-1.6zM405.3 77.6h1.6v1.6h-1.6zM415 37.4h1.6v1.6h-1.6zM397.3 92.2h1.6v1.6h-1.6zM410.6 49.1h1.6v1.6h-1.6zM399.7 90.8h1.6v1.6h-1.6zM402.5 83.6h1.6v1.6h-1.6zM413.5 52.2h1.6v1.6h-1.6zM406.8 58.8h1.6v1.6h-1.6zM403 74.2h1.6v1.6h-1.6zM406.3 50.4h1.6v1.6h-1.6zM401.8 93.9h1.6v1.6h-1.6zM408.3 61.1h1.6v1.6h-1.6zM402 86.3h1.6v1.6h-1.6zM403.1 71.4h1.6v1.6h-1.6zM408.3 64.4h1.6v1.6h-1.6zM403.5 84.5h1.6v1.6h-1.6zM408.9 63.7h1.6v1.6h-1.6zM401.3 75.6h1.6v1.6h-1.6zM408.5 46.6h1.6v1.6h-1.6zM408.1 68.8h1.6v1.6h-1.6zM401 71.5h1.6v1.6h-1.6zM398.6 85.5h1.6v1.6h-1.6zM403.2 58.9h1.6v1.6h-1.6zM416.9 34h1.6v1.6h-1.6zM418.5 35.9h1.6v1.6h-1.6zM407.1 71.5h1.6v1.6h-1.6zM404 63.6h1.6v1.6h-1.6zM406.7 53.5h1.6v1.6h-1.6zM413.8 52.4h1.6v1.6h-1.6zM414.7 46.6h1.6v1.6h-1.6zM410 64.2h1.6v1.6h-1.6zM404 65.6h1.6v1.6h-1.6zM409.6 62h1.6v1.6h-1.6zM403.9 84.8h1.6v1.6h-1.6zM411.8 49.1h1.6v1.6h-1.6zM407.6 51.4h1.6v1.6h-1.6zM407.3 47h1.6v1.6h-1.6zM406.5 59.7h1.6v1.6h-1.6zM398.9 82.3h1.6v1.6h-1.6zM404.7 55.2h1.6v1.6h-1.6zM405.8 72.1h1.6v1.6h-1.6zM403.4 74h1.6v1.6h-1.6zM412.1 44.7h1.6v1.6h-1.6zM402.3 81.9h1.6v1.6h-1.6zM417.3 36.3h1.6v1.6h-1.6zM416.8 41.3h1.6v1.6h-1.6zM398.3 90.8h1.6v1.6h-1.6zM410.3 55.7h1.6v1.6h-1.6zM410.7 50h1.6v1.6h-1.6zM417.5 34.7h1.6v1.6h-1.6zM400.5 81.4h1.6v1.6h-1.6zM407.8 47.6h1.6v1.6h-1.6zM403.6 72.8h1.6v1.6h-1.6zM409.9 45h1.6v1.6h-1.6zM418.3 34.1h1.6v1.6h-1.6zM407.7 64.5h1.6v1.6h-1.6zM413.4 40.8h1.6v1.6h-1.6zM397.8 93.9h1.6v1.6h-1.6zM412.5 56.4h1.6v1.6h-1.6zM408.5 61h1.6v1.6h-1.6zM407.2 66.8h1.6v1.6h-1.6zM407.5 57h1.6v1.6h-1.6zM409.3 54.4h1.6v1.6h-1.6zM407.1 52.5h1.6v1.6h-1.6zM410.6 56.5h1.6v1.6h-1.6zM405.2 52h1.6v1.6h-1.6zM404.2 82.6h1.6v1.6h-1.6zM406.2 52.4h1.6v1.6h-1.6zM401.6 92.9h1.6v1.6h-1.6zM409.6 43.9h1.6v1.6h-1.6zM403.7 86.1h1.6v1.6h-1.6zM404.4 55.3h1.6v1.6h-1.6zM414 35.7h1.6v1.6h-1.6zM402.1 87h1.6v1.6h-1.6zM404.1 69.1h1.6v1.6h-1.6zM401.4 70.5h1.6v1.6h-1.6zM403.1 67.8h1.6v1.6h-1.6zM413.2 47.8h1.6v1.6h-1.6zM412.5 45.5h1.6v1.6h-1.6zM413.6 39.5h1.6v1.6h-1.6zM402.8 88.9h1.6v1.6h-1.6zM406.6 69.7h1.6v1.6h-1.6zM409.2 58.6h1.6v1.6h-1.6zM414.3 45.2h1.6v1.6h-1.6zM408.2 53.3h1.6v1.6h-1.6zM402.6 78.7h1.6v1.6h-1.6zM407.3 47.8h1.6v1.6h-1.6zM402.7 84.7h1.6v1.6h-1.6zM398.9 78.7h1.6v1.6h-1.6zM417.7 40.4h1.6v1.6h-1.6zM405.4 59.2h1.6v1.6h-1.6zM414 50.4h1.6v1.6h-1.6zM410.3 49h1.6v1.6h-1.6zM400.3 80.7h1.6v1.6h-1.6zM416.1 44.4h1.6v1.6h-1.6zM406.3 53.4h1.6v1.6h-1.6zM414 43.3h1.6v1.6h-1.6zM399.6 80.3h1.6v1.6h-1.6zM408.8 54.9h1.6v1.6h-1.6zM400.4 91.9h1.6v1.6h-1.6zM415.4 38.5h1.6v1.6h-1.6zM414.7 38.5h1.6v1.6h-1.6zM413 39.3h1.6v1.6h-1.6zM408 60.1h1.6v1.6h-1.6zM403.4 86.5h1.6v1.6h-1.6zM408.6 67h1.6v1.6h-1.6zM408.6 58.9h1.6v1.6h-1.6zM411.5 42.9h1.6v1.6h-1.6zM403.6 78.6h1.6v1.6h-1.6zM412.6 54.7h1.6v1.6h-1.6zM419.2 35.6h1.6v1.6h-1.6zM408.6 62h1.6v1.6h-1.6zM400.5 80.7h1.6v1.6h-1.6zM399.4 78.1h1.6v1.6h-1.6zM401.3 67.3h1.6v1.6h-1.6zM402.8 69h1.6v1.6h-1.6zM413.5 51.8h1.6v1.6h-1.6zM409.3 46.6h1.6v1.6h-1.6zM408.4 45h1.6v1.6h-1.6zM414.1 42.3h1.6v1.6h-1.6zM413.9 37.5h1.6v1.6h-1.6zM408.4 49.2h1.6v1.6h-1.6zM415.2 38.7h1.6v1.6h-1.6zM415.9 34.8h1.6v1.6h-1.6zM399.2 82.2h1.6v1.6h-1.6zM400.7 71.4h1.6v1.6h-1.6zM399.5 82h1.6v1.6h-1.6zM404 60.4h1.6v1.6h-1.6zM402.4 63.7h1.6v1.6h-1.6zM400.9 70h1.6v1.6h-1.6zM404.2 55.2h1.6v1.6h-1.6zM398.9 80.7h1.6v1.6h-1.6zM400.2 75.5h1.6v1.6h-1.6zM420.3 43.5h1.6v1.6h-1.6zM426.3 34.6h1.6v1.6h-1.6zM403.8 103.2h1.6v1.6h-1.6zM411 75.2h1.6v1.6h-1.6zM412 87.7h1.6v1.6h-1.6zM426.7 43h1.6v1.6h-1.6zM414.7 74h1.6v1.6h-1.6zM418.6 45.3h1.6v1.6h-1.6zM414 81h1.6v1.6h-1.6zM406.8 99.8h1.6v1.6h-1.6zM434.6 33.7h1.6v1.6h-1.6zM439.6 33.5h1.6v1.6h-1.6zM431.3 48.3h1.6v1.6h-1.6zM447.1 38.4h1.6v1.6h-1.6zM436.5 46.9h1.6v1.6h-1.6zM438.8 51.4h1.6v1.6h-1.6zM445.9 39h1.6v1.6h-1.6zM430.2 47.2h1.6v1.6h-1.6zM439.6 36.2h1.6v1.6h-1.6zM441.1 43.2h1.6v1.6h-1.6zM442.1 37.9h1.6v1.6h-1.6zM426.9 53.3h1.6v1.6h-1.6zM437.4 36.2h1.6v1.6h-1.6zM442.7 38h1.6v1.6h-1.6zM443.7 35.6h1.6v1.6h-1.6zM435.9 35.7h1.6v1.6h-1.6zM444 47.1h1.6v1.6h-1.6zM444.9 42h1.6v1.6h-1.6zM431.2 50.6h1.6v1.6h-1.6zM442 38.8h1.6v1.6h-1.6zM445.3 44h1.6v1.6h-1.6zM431.9 43.3h1.6v1.6h-1.6zM429.4 51h1.6v1.6h-1.6zM427.1 54.6h1.6v1.6h-1.6zM432.7 42.9h1.6v1.6h-1.6zM434 54.3h1.6v1.6h-1.6zM439 53.2h1.6v1.6h-1.6zM443.7 47.8h1.6v1.6h-1.6zM439.2 48.1h1.6v1.6h-1.6zM446.2 33.9h1.6v1.6h-1.6zM447.2 38.3h1.6v1.6h-1.6zM436 49.1h1.6v1.6h-1.6zM439.3 38.2h1.6v1.6h-1.6zM436.9 37.7h1.6v1.6h-1.6zM438.7 50h1.6v1.6h-1.6zM440.6 39.8h1.6v1.6h-1.6zM441.3 38.6h1.6v1.6h-1.6zM439.4 54.5h1.6v1.6h-1.6zM444 41.5h1.6v1.6h-1.6zM433.7 54.8h1.6v1.6h-1.6zM450.3 36.2h1.6v1.6h-1.6zM438.6 42.7h1.6v1.6h-1.6zM433.9 54.8h1.6v1.6h-1.6zM438.2 49.9h1.6v1.6h-1.6zM444.7 39.5h1.6v1.6h-1.6zM439.6 41.7h1.6v1.6h-1.6zM445.1 43h1.6v1.6h-1.6zM445.6 40.1h1.6v1.6h-1.6zM446.6 36.9h1.6v1.6h-1.6zM436.4 46.7h1.6v1.6h-1.6zM447.3 34h1.6v1.6h-1.6zM431.7 47.1h1.6v1.6h-1.6zM444.6 38h1.6v1.6h-1.6zM438.8 49h1.6v1.6h-1.6zM432.7 43.7h1.6v1.6h-1.6zM435.5 38.8h1.6v1.6h-1.6zM439.7 45h1.6v1.6h-1.6zM442.6 33.6h1.6v1.6h-1.6zM438.3 36.3h1.6v1.6h-1.6zM445.2 36.9h1.6v1.6h-1.6zM434.4 49.4h1.6v1.6h-1.6zM431.2 46.8h1.6v1.6h-1.6zM433 42.2h1.6v1.6h-1.6zM438.1 35.7h1.6v1.6h-1.6zM430.5 49.6h1.6v1.6h-1.6zM437.4 54.4h1.6v1.6h-1.6zM449.5 35.2h1.6v1.6h-1.6zM426 54.7h1.6v1.6h-1.6zM429.6 49.2h1.6v1.6h-1.6zM443.5 39.2h1.6v1.6h-1.6zM447 39.2h1.6v1.6h-1.6zM444.4 40.7h1.6v1.6h-1.6zM435.4 48.5h1.6v1.6h-1.6zM439 41.9h1.6v1.6h-1.6zM438.8 34.6h1.6v1.6h-1.6zM445.6 42.4h1.6v1.6h-1.6zM429.6 53.2h1.6v1.6h-1.6zM431.7 49.7h1.6v1.6h-1.6zM430.5 46h1.6v1.6h-1.6zM434.9 46.9h1.6v1.6h-1.6zM437.6 52.7h1.6v1.6h-1.6zM442.4 35.9h1.6v1.6h-1.6zM444 42.5h1.6v1.6h-1.6zM441.1 43.3h1.6v1.6h-1.6zM436.8 49.7h1.6v1.6h-1.6zM440.5 36.1h1.6v1.6h-1.6zM437.8 43.5h1.6v1.6h-1.6zM441.3 37.6h1.6v1.6h-1.6zM438.3 37.7h1.6v1.6h-1.6zM441.3 48.7h1.6v1.6h-1.6zM431.8 52.5h1.6v1.6h-1.6zM437.7 48.5h1.6v1.6h-1.6zM437.6 50.5h1.6v1.6h-1.6zM432.4 44.6h1.6v1.6h-1.6zM444.5 33.8h1.6v1.6h-1.6zM447.6 34.5h1.6v1.6h-1.6zM449.1 36h1.6v1.6h-1.6zM445 36.5h1.6v1.6h-1.6zM447 36.2h1.6v1.6h-1.6zM438.1 54.6h1.6v1.6h-1.6zM433.5 53.5h1.6v1.6h-1.6zM451.1 33.8h1.6v1.6h-1.6zM440.8 35.6h1.6v1.6h-1.6zM436.9 52.3h1.6v1.6h-1.6zM435.9 50.8h1.6v1.6h-1.6zM427.6 53.6h1.6v1.6h-1.6zM448.9 34.8h1.6v1.6h-1.6zM434.8 44.8h1.6v1.6h-1.6zM435.8 52h1.6v1.6h-1.6zM432.5 41.4h1.6v1.6h-1.6zM437.7 43.4h1.6v1.6h-1.6zM438.6 43.3h1.6v1.6h-1.6zM447.6 39.1h1.6v1.6h-1.6zM448.2 36.3h1.6v1.6h-1.6zM444.1 48.1h1.6v1.6h-1.6zM436.7 38.2h1.6v1.6h-1.6zM438.8 53.3h1.6v1.6h-1.6zM445.4 40.2h1.6v1.6h-1.6zM430.1 51.1h1.6v1.6h-1.6zM435.7 44.6h1.6v1.6h-1.6zM441.8 43.8h1.6v1.6h-1.6zM445.2 44.9h1.6v1.6h-1.6zM441.2 52.8h1.6v1.6h-1.6zM436.7 54.8h1.6v1.6h-1.6zM437.6 45.3h1.6v1.6h-1.6zM434.4 43.5h1.6v1.6h-1.6zM438.3 38.1h1.6v1.6h-1.6zM439 35.1h1.6v1.6h-1.6zM426.7 54.9h1.6v1.6h-1.6zM435.1 38.1h1.6v1.6h-1.6zM441.8 36h1.6v1.6h-1.6zM440.4 46.5h1.6v1.6h-1.6zM441 53.4h1.6v1.6h-1.6zM430.7 53.4h1.6v1.6h-1.6zM444 33.6h1.6v1.6h-1.6zM436.5 36.3h1.6v1.6h-1.6zM443.1 35.6h1.6v1.6h-1.6zM445.3 37h1.6v1.6h-1.6zM414.8 88.6h1.6v1.6h-1.6zM413.6 93.8h1.6v1.6h-1.6zM429.7 59.1h1.6v1.6h-1.6zM430 55.2h1.6v1.6h-1.6zM422.1 75.8h1.6v1.6h-1.6zM427.1 64.9h1.6v1.6h-1.6zM431.2 57h1.6v1.6h-1.6zM424.3 64.8h1.6v1.6h-1.6zM424.6 64.4h1.6v1.6h-1.6zM409.5 102.3h1.6v1.6h-1.6zM422.4 70.7h1.6v1.6h-1.6zM412.5 95.8h1.6v1.6h-1.6zM421.5 76.5h1.6v1.6h-1.6zM417.7 85.8h1.6v1.6h-1.6zM430.3 57.1h1.6v1.6h-1.6zM420.4 75.5h1.6v1.6h-1.6zM432.8 59.7h1.6v1.6h-1.6zM422.7 63.6h1.6v1.6h-1.6zM418.3 72.3h1.6v1.6h-1.6zM417.8 72.5h1.6v1.6h-1.6zM409.4 104.1h1.6v1.6h-1.6zM422.4 72h1.6v1.6h-1.6zM413.7 95h1.6v1.6h-1.6zM425.5 69.4h1.6v1.6h-1.6zM427.3 58.6h1.6v1.6h-1.6zM415.3 82h1.6v1.6h-1.6zM421.8 68.3h1.6v1.6h-1.6zM425.8 57.4h1.6v1.6h-1.6zM435.8 55.3h1.6v1.6h-1.6zM416.4 89.4h1.6v1.6h-1.6zM414.8 82.3h1.6v1.6h-1.6zM416.8 89.1h1.6v1.6h-1.6zM431.6 58h1.6v1.6h-1.6zM417.2 74.6h1.6v1.6h-1.6zM430.7 53.3h1.6v1.6h-1.6zM430.9 58.6h1.6v1.6h-1.6zM431.2 56.9h1.6v1.6h-1.6zM411.1 98.2h1.6v1.6h-1.6zM418.3 74h1.6v1.6h-1.6zM416.6 87.6h1.6v1.6h-1.6zM429.5 59.5h1.6v1.6h-1.6zM417.8 87.4h1.6v1.6h-1.6zM416.9 88.4h1.6v1.6h-1.6zM412.8 97.9h1.6v1.6h-1.6zM428 66.7h1.6v1.6h-1.6zM416.4 76.9h1.6v1.6h-1.6zM414.3 93.2h1.6v1.6h-1.6zM422.3 75.4h1.6v1.6h-1.6zM421.4 65.5h1.6v1.6h-1.6zM411 97.4h1.6v1.6h-1.6zM428.3 65.2h1.6v1.6h-1.6zM417.7 85.9h1.6v1.6h-1.6zM423.8 68.8h1.6v1.6h-1.6zM420 80.8h1.6v1.6h-1.6zM409.6 103.1h1.6v1.6h-1.6zM412.2 96.4h1.6v1.6h-1.6zM414.4 93.8h1.6v1.6h-1.6zM428.5 59.2h1.6v1.6h-1.6zM427.4 66.2h1.6v1.6h-1.6zM418.9 69.8h1.6v1.6h-1.6zM420.2 79.8h1.6v1.6h-1.6zM435.3 54.7h1.6v1.6h-1.6zM413 96.6h1.6v1.6h-1.6zM426.8 67.3h1.6v1.6h-1.6zM413 89.6h1.6v1.6h-1.6zM419.7 68.2h1.6v1.6h-1.6zM418 79.2h1.6v1.6h-1.6zM419.7 68.8h1.6v1.6h-1.6zM417.4 79.3h1.6v1.6h-1.6zM428 57.2h1.6v1.6h-1.6zM419 77.8h1.6v1.6h-1.6zM423.3 60.7h1.6v1.6h-1.6zM414.3 92h1.6v1.6h-1.6zM414.9 88.6h1.6v1.6h-1.6zM416.7 83.8h1.6v1.6h-1.6zM424.8 61h1.6v1.6h-1.6zM434.6 55.7h1.6v1.6h-1.6zM418.6 71.5h1.6v1.6h-1.6zM416.1 84.3h1.6v1.6h-1.6zM430.2 63.6h1.6v1.6h-1.6zM423.9 72.7h1.6v1.6h-1.6zM417.8 79.2h1.6v1.6h-1.6zM415.8 91.1h1.6v1.6h-1.6zM415.4 86.5h1.6v1.6h-1.6zM431.3 58.4h1.6v1.6h-1.6zM417.5 78.2h1.6v1.6h-1.6zM428.3 60.5h1.6v1.6h-1.6zM414 89.2h1.6v1.6h-1.6zM417.8 85.6h1.6v1.6h-1.6zM416.5 90.9h1.6v1.6h-1.6zM426.5 63.8h1.6v1.6h-1.6zM414.1 87.8h1.6v1.6h-1.6zM427.3 52.6h1.6v1.6h-1.6zM429 57h1.6v1.6h-1.6zM426.1 66.2h1.6v1.6h-1.6zM426.7 63.1h1.6v1.6h-1.6zM432 54.8h1.6v1.6h-1.6zM427.3 62.1h1.6v1.6h-1.6zM420.6 74.1h1.6v1.6h-1.6zM418.2 84.5h1.6v1.6h-1.6zM422.6 66.1h1.6v1.6h-1.6zM398.5 123.6h1.6v1.6h-1.6zM400.1 106.4h1.6v1.6h-1.6zM400.2 111.7h1.6v1.6h-1.6zM400.3 107.4h1.6v1.6h-1.6zM402.6 92.7h1.6v1.6h-1.6zM402.9 92.7h1.6v1.6h-1.6zM399 104.7h1.6v1.6h-1.6zM403.2 95.9h1.6v1.6h-1.6zM399.7 115.1h1.6v1.6h-1.6zM398 100h1.6v1.6h-1.6zM402.7 100h1.6v1.6h-1.6zM399.1 104.9h1.6v1.6h-1.6zM398.1 98.4h1.6v1.6h-1.6zM397.8 99h1.6v1.6h-1.6zM398.5 112.6h1.6v1.6h-1.6zM402.8 100h1.6v1.6h-1.6zM399.7 115.3h1.6v1.6h-1.6zM401.4 94.2h1.6v1.6h-1.6zM403.1 92.2h1.6v1.6h-1.6zM398.2 95.5h1.6v1.6h-1.6zM401.1 95h1.6v1.6h-1.6zM402.9 97.8h1.6v1.6h-1.6zM401.2 102.6h1.6v1.6h-1.6zM400.2 104.3h1.6v1.6h-1.6zM401.7 103.9h1.6v1.6h-1.6zM398 94.1h1.6v1.6h-1.6zM399.4 97.1h1.6v1.6h-1.6zM398.7 129.4h1.6v1.6h-1.6zM398.6 115.7h1.6v1.6h-1.6zM398.8 94.9h1.6v1.6h-1.6zM399.4 113.8h1.6v1.6h-1.6zM404.5 92.4h1.6v1.6h-1.6zM402.6 99.9h1.6v1.6h-1.6zM398.7 122h1.6v1.6h-1.6zM399.3 117.9h1.6v1.6h-1.6zM399.4 122.9h1.6v1.6h-1.6zM403.9 93.1h1.6v1.6h-1.6zM402.9 99.5h1.6v1.6h-1.6zM399.2 114.9h1.6v1.6h-1.6zM399.1 120h1.6v1.6h-1.6zM402 95.9h1.6v1.6h-1.6zM398.7 117.9h1.6v1.6h-1.6zM398.2 105.1h1.6v1.6h-1.6zM400 110.4h1.6v1.6h-1.6zM398.7 99.4h1.6v1.6h-1.6zM399.4 116.2h1.6v1.6h-1.6zM400.1 104.7h1.6v1.6h-1.6zM397.5 94.5h1.6v1.6h-1.6zM399 101.2h1.6v1.6h-1.6zM399.8 100.7h1.6v1.6h-1.6zM398.6 127.9h1.6v1.6h-1.6zM398.6 112.6h1.6v1.6h-1.6zM400.5 99.5h1.6v1.6h-1.6zM402.8 96.8h1.6v1.6h-1.6zM415.9 99.8h1.6v1.6h-1.6zM416.2 94.6h1.6v1.6h-1.6zM406.9 106.8h1.6v1.6h-1.6zM412.9 98.7h1.6v1.6h-1.6zM415.3 97.8h1.6v1.6h-1.6zM417.8 92.4h1.6v1.6h-1.6zM413.4 97.3h1.6v1.6h-1.6zM403.1 129.4h1.6v1.6h-1.6zM404.7 115.9h1.6v1.6h-1.6zM407 108h1.6v1.6h-1.6zM409.1 107.1h1.6v1.6h-1.6zM408 111.8h1.6v1.6h-1.6zM409.3 111.5h1.6v1.6h-1.6zM403.9 122.6h1.6v1.6h-1.6zM409.5 105.3h1.6v1.6h-1.6zM414.5 96.1h1.6v1.6h-1.6zM413.3 101.6h1.6v1.6h-1.6zM407.8 107.9h1.6v1.6h-1.6zM406.7 114.3h1.6v1.6h-1.6zM406.3 122.6h1.6v1.6h-1.6zM403.8 119.8h1.6v1.6h-1.6zM413.7 99.7h1.6v1.6h-1.6zM417.7 94.6h1.6v1.6h-1.6zM413.4 101.1h1.6v1.6h-1.6zM416.7 95.4h1.6v1.6h-1.6zM405.2 121.7h1.6v1.6h-1.6zM405.3 118.1h1.6v1.6h-1.6zM410.6 104.5h1.6v1.6h-1.6zM411.2 108.3h1.6v1.6h-1.6zM413.9 99.3h1.6v1.6h-1.6zM415.2 100.8h1.6v1.6h-1.6zM405.7 123.9h1.6v1.6h-1.6zM411.5 107.9h1.6v1.6h-1.6zM413.3 100.3h1.6v1.6h-1.6zM415.6 93.7h1.6v1.6h-1.6zM405.1 115.2h1.6v1.6h-1.6zM410.1 103.7h1.6v1.6h-1.6zM419.3 92.2h1.6v1.6h-1.6zM413.8 102.1h1.6v1.6h-1.6zM407.4 110.5h1.6v1.6h-1.6zM413.5 93.2h1.6v1.6h-1.6zM413.1 97.6h1.6v1.6h-1.6zM414.6 94.3h1.6v1.6h-1.6zM416.2 95.2h1.6v1.6h-1.6zM410 97.5h1.6v1.6h-1.6zM409.9 107.6h1.6v1.6h-1.6zM408.6 102.7h1.6v1.6h-1.6zM417.9 96.3h1.6v1.6h-1.6zM406 109.3h1.6v1.6h-1.6zM403.9 126.6h1.6v1.6h-1.6zM406.1 108.6h1.6v1.6h-1.6zM410.3 99.5h1.6v1.6h-1.6zM415.8 99.7h1.6v1.6h-1.6zM406.9 120.7h1.6v1.6h-1.6zM418.9 92.7h1.6v1.6h-1.6zM409.6 101.4h1.6v1.6h-1.6zM418.3 96.1h1.6v1.6h-1.6zM412.4 106.7h1.6v1.6h-1.6zM408.1 105.2h1.6v1.6h-1.6zM412.4 103h1.6v1.6h-1.6zM409.7 102.9h1.6v1.6h-1.6zM413.4 94.1h1.6v1.6h-1.6zM418.7 95.2h1.6v1.6h-1.6zM404.3 117.3h1.6v1.6h-1.6zM412.4 105.2h1.6v1.6h-1.6zM411.8 93.6h1.6v1.6h-1.6zM416.9 97.9h1.6v1.6h-1.6zM408 112.9h1.6v1.6h-1.6zM403.2 122.2h1.6v1.6h-1.6zM410.6 111.2h1.6v1.6h-1.6zM410.3 96.2h1.6v1.6h-1.6zM405.9 119.6h1.6v1.6h-1.6zM409.2 107.9h1.6v1.6h-1.6zM404.6 124.5h1.6v1.6h-1.6zM408.9 109h1.6v1.6h-1.6zM418.2 93.4h1.6v1.6h-1.6zM406.3 113.2h1.6v1.6h-1.6zM409.7 111.8h1.6v1.6h-1.6zM407.9 104.6h1.6v1.6h-1.6zM412.5 95.2h1.6v1.6h-1.6zM410.9 96h1.6v1.6h-1.6zM404.4 107.9h1.6v1.6h-1.6zM405.5 97.1h1.6v1.6h-1.6zM406.5 102.8h1.6v1.6h-1.6zM404.2 110.1h1.6v1.6h-1.6zM401.8 123.3h1.6v1.6h-1.6zM400.8 120.5h1.6v1.6h-1.6zM402.5 112.5h1.6v1.6h-1.6zM405.3 94.5h1.6v1.6h-1.6zM407.3 98.9h1.6v1.6h-1.6zM400.4 127.4h1.6v1.6h-1.6zM400.8 111.1h1.6v1.6h-1.6zM406.4 103.8h1.6v1.6h-1.6zM405.9 96.1h1.6v1.6h-1.6zM404.5 102.5h1.6v1.6h-1.6zM401.6 109.7h1.6v1.6h-1.6zM404.5 111.7h1.6v1.6h-1.6zM406.1 95.8h1.6v1.6h-1.6zM401.1 118.5h1.6v1.6h-1.6zM400.5 113.7h1.6v1.6h-1.6zM401.9 126.9h1.6v1.6h-1.6zM404.7 103.7h1.6v1.6h-1.6zM398.9 138.7h1.6v1.6h-1.6zM400.2 150.6h1.6v1.6h-1.6zM398.2 141.7h1.6v1.6h-1.6zM400 142.8h1.6v1.6h-1.6zM401.9 145.2h1.6v1.6h-1.6zM401.2 134.9h1.6v1.6h-1.6zM397.4 149.9h1.6v1.6h-1.6zM400.3 150.1h1.6v1.6h-1.6zM400.6 134.1h1.6v1.6h-1.6zM401.7 134.3h1.6v1.6h-1.6zM398.2 141.4h1.6v1.6h-1.6zM401.3 135.9h1.6v1.6h-1.6zM400.1 135.3h1.6v1.6h-1.6zM397.5 142.3h1.6v1.6h-1.6zM399 129.8h1.6v1.6h-1.6zM398.6 132.6h1.6v1.6h-1.6zM400.7 144.4h1.6v1.6h-1.6zM398.5 148.4h1.6v1.6h-1.6zM399.4 144.8h1.6v1.6h-1.6zM402 130.1h1.6v1.6h-1.6zM398.6 151.1h1.6v1.6h-1.6zM401.5 147.8h1.6v1.6h-1.6zM398.5 153.5h1.6v1.6h-1.6zM398.9 138.6h1.6v1.6h-1.6zM402.3 135.1h1.6v1.6h-1.6zM399.4 131h1.6v1.6h-1.6zM403.1 130.4h1.6v1.6h-1.6zM401.3 139.5h1.6v1.6h-1.6zM401.6 150.1h1.6v1.6h-1.6zM400 131.3h1.6v1.6h-1.6zM401 143.5h1.6v1.6h-1.6zM400.7 146.9h1.6v1.6h-1.6zM397.3 142.9h1.6v1.6h-1.6zM400.2 141.5h1.6v1.6h-1.6zM397.6 136h1.6v1.6h-1.6zM399.4 136.4h1.6v1.6h-1.6zM398.2 142.6h1.6v1.6h-1.6zM400 144.8h1.6v1.6h-1.6zM397.9 152.1h1.6v1.6h-1.6zM401.7 128.6h1.6v1.6h-1.6zM400.6 136.8h1.6v1.6h-1.6zM398.7 135.7h1.6v1.6h-1.6zM402.8 128.1h1.6v1.6h-1.6zM399.4 151h1.6v1.6h-1.6zM398.2 128.4h1.6v1.6h-1.6zM398.5 145.4h1.6v1.6h-1.6zM399.9 130h1.6v1.6h-1.6zM400.8 138.5h1.6v1.6h-1.6zM398.7 130.6h1.6v1.6h-1.6zM397.3 135.1h1.6v1.6h-1.6zM400.5 136.7h1.6v1.6h-1.6zM400.8 151.6h1.6v1.6h-1.6zM401.3 136.4h1.6v1.6h-1.6zM397.8 132.7h1.6v1.6h-1.6zM399.9 150.9h1.6v1.6h-1.6z"/>
<path fill="#40c8f0" d="M409 58h1.6v1.6h-1.6zM403.7 79.8h1.6v1.6h-1.6zM399.7 94.5h1.6v1.6h-1.6zM414.1 44.5h1.6v1.6h-1.6zM406.4 54h1.6v1.6h-1.6zM413.5 37.4h1.6v1.6h-1.6zM411 40.6h1.6v1.6h-1.6zM401.9 85.7h1.6v1.6h-1.6zM406.5 58.8h1.6v1.6h-1.6zM407.2 49.2h1.6v1.6h-1.6zM401.5 89.6h1.6v1.6h-1.6zM403.7 73.6h1.6v1.6h-1.6zM400.6 68.6h1.6v1.6h-1.6zM408.1 49.1h1.6v1.6h-1.6zM409.2 44.8h1.6v1.6h-1.6zM402.4 68.6h1.6v1.6h-1.6zM415 48.7h1.6v1.6h-1.6zM410.8 56.8h1.6v1.6h-1.6zM418.5 38h1.6v1.6h-1.6zM406 53.8h1.6v1.6h-1.6zM399.1 94.8h1.6v1.6h-1.6zM413.3 39.8h1.6v1.6h-1.6zM410 57.7h1.6v1.6h-1.6zM415.8 34.9h1.6v1.6h-1.6zM403.1 79.3h1.6v1.6h-1.6zM410.9 39.2h1.6v1.6h-1.6zM402.3 88.5h1.6v1.6h-1.6zM401 84.3h1.6v1.6h-1.6zM408.3 69.9h1.6v1.6h-1.6zM412.6 50.4h1.6v1.6h-1.6zM404.1 81.3h1.6v1.6h-1.6zM404 83.6h1.6v1.6h-1.6zM416.2 43.9h1.6v1.6h-1.6zM407.5 67.7h1.6v1.6h-1.6zM415.9 39.6h1.6v1.6h-1.6zM402.2 84.1h1.6v1.6h-1.6zM426.1 65.4h1.6v1.6h-1.6zM418.5 85.2h1.6v1.6h-1.6zM418.2 78.8h1.6v1.6h-1.6zM421.5 69.9h1.6v1.6h-1.6zM414.2 86.5h1.6v1.6h-1.6zM416.3 81.7h1.6v1.6h-1.6zM418.8 77.6h1.6v1.6h-1.6zM434 57.7h1.6v1.6h-1.6zM416.9 81.1h1.6v1.6h-1.6zM432.5 55h1.6v1.6h-1.6zM431.2 56.5h1.6v1.6h-1.6zM422.3 69.2h1.6v1.6h-1.6zM410.3 98.5h1.6v1.6h-1.6zM426.1 58.1h1.6v1.6h-1.6zM425.5 62.8h1.6v1.6h-1.6zM423.8 61.5h1.6v1.6h-1.6zM418.7 83.8h1.6v1.6h-1.6zM415.5 87.9h1.6v1.6h-1.6zM422.5 62.6h1.6v1.6h-1.6zM431.6 55.5h1.6v1.6h-1.6zM417.7 86.3h1.6v1.6h-1.6zM417.3 78.6h1.6v1.6h-1.6zM426.4 64.6h1.6v1.6h-1.6zM416.6 80.1h1.6v1.6h-1.6z"/>
<path fill="#14eea4" d="M414.5 43.2h1.6v1.6h-1.6zM407.4 50.2h1.6v1.6h-1.6zM399.2 77.5h1.6v1.6h-1.6zM408.1 65.7h1.6v1.6h-1.6zM404.6 63.7h1.6v1.6h-1.6zM408.4 64.9h1.6v1.6h-1.6zM411.7 54.9h1.6v1.6h-1.6zM406.2 74.9h1.6v1.6h-1.6zM417.7 36.7h1.6v1.6h-1.6zM408.7 61.5h1.6v1.6h-1.6zM403.2 70.5h1.6v1.6h-1.6zM405.6 63.7h1.6v1.6h-1.6zM417.1 39.5h1.6v1.6h-1.6zM409 63.5h1.6v1.6h-1.6zM409.2 58.3h1.6v1.6h-1.6zM398.4 82.3h1.6v1.6h-1.6zM411.4 44.4h1.6v1.6h-1.6zM404.2 78.9h1.6v1.6h-1.6zM409.4 55h1.6v1.6h-1.6zM400.1 86.9h1.6v1.6h-1.6zM409.2 63h1.6v1.6h-1.6zM412 52.2h1.6v1.6h-1.6zM403.9 58.1h1.6v1.6h-1.6zM409 57.6h1.6v1.6h-1.6zM399.9 73.7h1.6v1.6h-1.6zM403.1 64.7h1.6v1.6h-1.6zM401.4 71.7h1.6v1.6h-1.6zM398.3 90.4h1.6v1.6h-1.6zM399 85.1h1.6v1.6h-1.6zM398.2 90.5h1.6v1.6h-1.6zM402.6 63.7h1.6v1.6h-1.6zM397.4 88.9h1.6v1.6h-1.6zM399.9 77.9h1.6v1.6h-1.6zM399.3 76.2h1.6v1.6h-1.6zM400.2 72.4h1.6v1.6h-1.6zM403.2 60.8h1.6v1.6h-1.6zM397.2 89.9h1.6v1.6h-1.6zM404.2 57.7h1.6v1.6h-1.6zM407.4 48.8h1.6v1.6h-1.6zM401.6 71.4h1.6v1.6h-1.6zM407.3 48.6h1.6v1.6h-1.6zM404.4 54.8h1.6v1.6h-1.6zM441.6 37.1h1.6v1.6h-1.6zM433 47.1h1.6v1.6h-1.6zM435.6 35.1h1.6v1.6h-1.6zM446 40.4h1.6v1.6h-1.6zM431.6 54.1h1.6v1.6h-1.6zM438.2 39.8h1.6v1.6h-1.6zM440.5 52.4h1.6v1.6h-1.6zM443.5 46.7h1.6v1.6h-1.6zM427.8 53.8h1.6v1.6h-1.6zM428.9 51.8h1.6v1.6h-1.6zM443.9 37.3h1.6v1.6h-1.6zM436.4 43.9h1.6v1.6h-1.6zM437.4 49.6h1.6v1.6h-1.6zM436.9 35.2h1.6v1.6h-1.6zM429.7 50.2h1.6v1.6h-1.6zM448.8 34.9h1.6v1.6h-1.6zM445.7 36.4h1.6v1.6h-1.6zM429.3 55.6h1.6v1.6h-1.6zM441.7 36.9h1.6v1.6h-1.6zM444.6 37.2h1.6v1.6h-1.6zM444.3 44.5h1.6v1.6h-1.6zM437 50.3h1.6v1.6h-1.6zM446 40h1.6v1.6h-1.6zM444.7 38h1.6v1.6h-1.6zM434 46.5h1.6v1.6h-1.6zM444 36.2h1.6v1.6h-1.6zM446.4 42.1h1.6v1.6h-1.6zM444.6 38.7h1.6v1.6h-1.6zM442 41.7h1.6v1.6h-1.6zM437.1 35h1.6v1.6h-1.6zM444.3 44.9h1.6v1.6h-1.6zM439.4 37.1h1.6v1.6h-1.6zM425.5 61.9h1.6v1.6h-1.6zM428.8 62.4h1.6v1.6h-1.6zM435.8 52.6h1.6v1.6h-1.6zM428.2 57.3h1.6v1.6h-1.6zM431.5 52h1.6v1.6h-1.6zM410.3 102.5h1.6v1.6h-1.6zM425.8 60.5h1.6v1.6h-1.6zM423.9 61.2h1.6v1.6h-1.6zM434.2 53.5h1.6v1.6h-1.6zM423.7 70.9h1.6v1.6h-1.6zM425 61.7h1.6v1.6h-1.6zM417.7 81.7h1.6v1.6h-1.6zM412.6 96.7h1.6v1.6h-1.6zM424.6 71.1h1.6v1.6h-1.6zM433.9 55.6h1.6v1.6h-1.6zM427.5 60.3h1.6v1.6h-1.6zM410.7 98.7h1.6v1.6h-1.6zM417.5 88.4h1.6v1.6h-1.6zM413 98.2h1.6v1.6h-1.6zM423.5 82.6h1.6v1.6h-1.6zM432.6 61h1.6v1.6h-1.6zM422.3 84.1h1.6v1.6h-1.6zM430.3 68.3h1.6v1.6h-1.6zM425.8 76.6h1.6v1.6h-1.6zM425.4 75h1.6v1.6h-1.6zM420.4 91h1.6v1.6h-1.6zM428.2 69h1.6v1.6h-1.6zM414.4 102.1h1.6v1.6h-1.6zM422.2 79.1h1.6v1.6h-1.6zM417.3 94.6h1.6v1.6h-1.6zM440.4 51.8h1.6v1.6h-1.6zM411.5 103h1.6v1.6h-1.6zM419.7 93h1.6v1.6h-1.6zM413.9 101.1h1.6v1.6h-1.6zM411.2 105.5h1.6v1.6h-1.6zM420.1 82.3h1.6v1.6h-1.6zM421.3 81.9h1.6v1.6h-1.6zM409.5 106.6h1.6v1.6h-1.6zM420.3 88.7h1.6v1.6h-1.6zM431.2 65.5h1.6v1.6h-1.6zM410.4 109.1h1.6v1.6h-1.6zM411 109.8h1.6v1.6h-1.6zM417.2 95.1h1.6v1.6h-1.6zM435 60.3h1.6v1.6h-1.6zM435.2 62.2h1.6v1.6h-1.6zM422.5 83.5h1.6v1.6h-1.6zM444.4 46.8h1.6v1.6h-1.6zM435.4 58.6h1.6v1.6h-1.6zM409.7 97.9h1.6v1.6h-1.6zM403.6 124.2h1.6v1.6h-1.6zM405.3 119.3h1.6v1.6h-1.6zM407 113.9h1.6v1.6h-1.6zM409.7 105.2h1.6v1.6h-1.6zM403.5 122.9h1.6v1.6h-1.6zM415.5 97.8h1.6v1.6h-1.6zM409 107.4h1.6v1.6h-1.6zM407.7 111.9h1.6v1.6h-1.6zM412.5 102.8h1.6v1.6h-1.6zM411.2 101.4h1.6v1.6h-1.6zM403.5 121.8h1.6v1.6h-1.6zM407.8 115.5h1.6v1.6h-1.6zM414.1 101.3h1.6v1.6h-1.6zM409.2 110.2h1.6v1.6h-1.6zM418.2 95.4h1.6v1.6h-1.6zM412.8 103.9h1.6v1.6h-1.6z"/>
<path fill="#6ae2f4" d="M401.9 96.6h1.6v1.6h-1.6zM397.9 92.4h1.6v1.6h-1.6zM399.1 117.6h1.6v1.6h-1.6zM398.5 125.2h1.6v1.6h-1.6zM399 104.1h1.6v1.6h-1.6zM399.1 93.5h1.6v1.6h-1.6zM401 106h1.6v1.6h-1.6zM398.3 117.2h1.6v1.6h-1.6zM399.8 106.8h1.6v1.6h-1.6zM402.7 96.9h1.6v1.6h-1.6zM399.2 110.2h1.6v1.6h-1.6zM399.6 108.5h1.6v1.6h-1.6zM400 93.5h1.6v1.6h-1.6zM398.3 105.3h1.6v1.6h-1.6zM398.7 114.9h1.6v1.6h-1.6zM399.3 125.3h1.6v1.6h-1.6zM401.5 102.2h1.6v1.6h-1.6zM397.1 93h1.6v1.6h-1.6zM402.2 101h1.6v1.6h-1.6zM400.9 94.9h1.6v1.6h-1.6zM403.5 96.6h1.6v1.6h-1.6zM399.1 153.9h1.6v1.6h-1.6zM400.4 138.2h1.6v1.6h-1.6zM401.5 146.7h1.6v1.6h-1.6zM401.6 132.2h1.6v1.6h-1.6zM401.3 134.5h1.6v1.6h-1.6zM398.7 141h1.6v1.6h-1.6zM401.6 136.9h1.6v1.6h-1.6zM402.5 137.1h1.6v1.6h-1.6zM398.5 153.8h1.6v1.6h-1.6zM397.5 149.2h1.6v1.6h-1.6zM398.1 152.8h1.6v1.6h-1.6zM398.1 151.6h1.6v1.6h-1.6zM397.7 130.9h1.6v1.6h-1.6zM398.9 150.5h1.6v1.6h-1.6zM397.5 137h1.6v1.6h-1.6zM402.3 141.8h1.6v1.6h-1.6zM398.4 130.6h1.6v1.6h-1.6zM401.5 142.4h1.6v1.6h-1.6z"/>
<path fill="#10e010" d="M397.4 91.3h1.6v1.6h-1.6zM401 67.8h1.6v1.6h-1.6zM405 54.1h1.6v1.6h-1.6zM400.7 70.2h1.6v1.6h-1.6zM404.8 57.1h1.6v1.6h-1.6zM401.6 69.7h1.6v1.6h-1.6zM403.8 58.6h1.6v1.6h-1.6zM404.1 56.8h1.6v1.6h-1.6zM399.9 73.7h1.6v1.6h-1.6zM401.3 73.4h1.6v1.6h-1.6zM402.1 69.4h1.6v1.6h-1.6zM406.4 50.5h1.6v1.6h-1.6zM402.8 60.1h1.6v1.6h-1.6zM398.8 79.7h1.6v1.6h-1.6zM402.9 59.7h1.6v1.6h-1.6zM400.4 76h1.6v1.6h-1.6zM403.7 58.8h1.6v1.6h-1.6zM397.6 86.7h1.6v1.6h-1.6zM398.7 80.6h1.6v1.6h-1.6zM404.2 57.3h1.6v1.6h-1.6zM397.9 90.1h1.6v1.6h-1.6zM399 75.1h1.6v1.6h-1.6zM399.1 75.5h1.6v1.6h-1.6zM399.2 75.8h1.6v1.6h-1.6zM407.5 48.1h1.6v1.6h-1.6zM401.6 69.1h1.6v1.6h-1.6zM413.5 100.2h1.6v1.6h-1.6zM437.7 56.8h1.6v1.6h-1.6zM427.8 67.4h1.6v1.6h-1.6zM425.9 73h1.6v1.6h-1.6zM417.3 98h1.6v1.6h-1.6zM421.5 85.8h1.6v1.6h-1.6zM444.9 46.1h1.6v1.6h-1.6zM420.4 86.2h1.6v1.6h-1.6zM431.8 62.2h1.6v1.6h-1.6zM413.7 101.3h1.6v1.6h-1.6zM424.8 73.5h1.6v1.6h-1.6zM420.7 86.8h1.6v1.6h-1.6zM422.4 75.8h1.6v1.6h-1.6zM412.9 102.7h1.6v1.6h-1.6zM420.2 89.2h1.6v1.6h-1.6zM412.3 101.9h1.6v1.6h-1.6zM416.4 96.1h1.6v1.6h-1.6zM428.2 72.2h1.6v1.6h-1.6zM418.3 90.5h1.6v1.6h-1.6zM417.1 93.3h1.6v1.6h-1.6zM440.6 51.6h1.6v1.6h-1.6zM425.1 72.1h1.6v1.6h-1.6zM412.1 103.2h1.6v1.6h-1.6zM416.7 92.4h1.6v1.6h-1.6zM420.5 82.4h1.6v1.6h-1.6zM440.7 52.6h1.6v1.6h-1.6zM416.4 98.3h1.6v1.6h-1.6zM434.9 61.6h1.6v1.6h-1.6zM420.3 86h1.6v1.6h-1.6zM411.1 109.8h1.6v1.6h-1.6zM425.9 75.6h1.6v1.6h-1.6zM431.4 64.1h1.6v1.6h-1.6zM431.2 65.2h1.6v1.6h-1.6zM439.6 52.2h1.6v1.6h-1.6zM410.9 109.7h1.6v1.6h-1.6zM420.4 82.4h1.6v1.6h-1.6zM428.6 68.3h1.6v1.6h-1.6zM441.1 47.9h1.6v1.6h-1.6zM436 58.6h1.6v1.6h-1.6zM433.9 61h1.6v1.6h-1.6zM422.1 81h1.6v1.6h-1.6zM440.6 52.4h1.6v1.6h-1.6zM413.6 103.5h1.6v1.6h-1.6zM424.7 74.1h1.6v1.6h-1.6zM441.3 47.7h1.6v1.6h-1.6zM413.6 103.7h1.6v1.6h-1.6zM442.8 48.5h1.6v1.6h-1.6zM422.7 77.3h1.6v1.6h-1.6zM432.3 62.4h1.6v1.6h-1.6zM417 96.7h1.6v1.6h-1.6zM406.9 105.6h1.6v1.6h-1.6zM411.1 107.5h1.6v1.6h-1.6zM412.6 102.3h1.6v1.6h-1.6zM406.8 106.7h1.6v1.6h-1.6zM417.4 92.7h1.6v1.6h-1.6zM412.8 92.2h1.6v1.6h-1.6zM406 119.3h1.6v1.6h-1.6zM409.9 102.8h1.6v1.6h-1.6zM413.3 100h1.6v1.6h-1.6zM404.7 127.4h1.6v1.6h-1.6zM410.1 109.9h1.6v1.6h-1.6zM405.9 110.7h1.6v1.6h-1.6zM410.6 99.2h1.6v1.6h-1.6zM413.4 98.6h1.6v1.6h-1.6zM404.6 118.8h1.6v1.6h-1.6zM410.3 96.7h1.6v1.6h-1.6zM407.5 108.8h1.6v1.6h-1.6zM413 93.7h1.6v1.6h-1.6zM405 115.8h1.6v1.6h-1.6zM411.2 100.9h1.6v1.6h-1.6zM408 115.3h1.6v1.6h-1.6zM406 114.3h1.6v1.6h-1.6zM407.9 108.4h1.6v1.6h-1.6zM410.8 103.3h1.6v1.6h-1.6zM408.9 104.9h1.6v1.6h-1.6zM405.5 109.3h1.6v1.6h-1.6zM410.4 103.2h1.6v1.6h-1.6zM408.5 101.7h1.6v1.6h-1.6z"/>
<path fill="#30dc20" d="M442.1 48.3h1.6v1.6h-1.6zM416.2 93.9h1.6v1.6h-1.6zM422.9 76.1h1.6v1.6h-1.6zM433 61h1.6v1.6h-1.6zM415.9 95.3h1.6v1.6h-1.6zM433.4 63.2h1.6v1.6h-1.6zM423.9 82.6h1.6v1.6h-1.6zM414.5 96.6h1.6v1.6h-1.6zM418.4 94h1.6v1.6h-1.6zM413.9 104.1h1.6v1.6h-1.6zM413 105.2h1.6v1.6h-1.6z"/>
<path fill="#70ea60" d="M400.2 76.1h1.6v1.6h-1.6zM400.2 70h1.6v1.6h-1.6zM402.2 67.3h1.6v1.6h-1.6zM403.9 55.7h1.6v1.6h-1.6zM402.7 65.7h1.6v1.6h-1.6zM403.6 57.3h1.6v1.6h-1.6zM400.5 75.3h1.6v1.6h-1.6zM406 52.8h1.6v1.6h-1.6zM398.7 86.2h1.6v1.6h-1.6zM398.4 84h1.6v1.6h-1.6zM399.5 86h1.6v1.6h-1.6zM401.5 67.1h1.6v1.6h-1.6zM405.3 54.8h1.6v1.6h-1.6zM401.8 64.2h1.6v1.6h-1.6zM399.3 85.9h1.6v1.6h-1.6zM399 78.3h1.6v1.6h-1.6zM400.8 73.6h1.6v1.6h-1.6zM401.3 68.5h1.6v1.6h-1.6zM405.3 51.7h1.6v1.6h-1.6zM403.7 57.1h1.6v1.6h-1.6zM405.2 54.3h1.6v1.6h-1.6zM401.1 71.7h1.6v1.6h-1.6zM400.8 67.5h1.6v1.6h-1.6zM421.5 82.4h1.6v1.6h-1.6zM434 61.8h1.6v1.6h-1.6zM434 60.1h1.6v1.6h-1.6zM431.6 62.9h1.6v1.6h-1.6zM437.6 52.9h1.6v1.6h-1.6zM430.9 67.1h1.6v1.6h-1.6zM430.5 68.4h1.6v1.6h-1.6zM429.3 70.1h1.6v1.6h-1.6zM440.1 50.7h1.6v1.6h-1.6zM444.5 47.1h1.6v1.6h-1.6zM424.2 74.6h1.6v1.6h-1.6zM411.3 105.5h1.6v1.6h-1.6zM427.1 71.8h1.6v1.6h-1.6zM414.1 96.9h1.6v1.6h-1.6zM418.1 88.9h1.6v1.6h-1.6zM426.5 72.7h1.6v1.6h-1.6zM418.5 88.7h1.6v1.6h-1.6zM436.7 56.2h1.6v1.6h-1.6zM425.1 78.3h1.6v1.6h-1.6zM441.8 47.3h1.6v1.6h-1.6zM424.2 76.5h1.6v1.6h-1.6zM432.7 65.5h1.6v1.6h-1.6zM418.2 93.4h1.6v1.6h-1.6zM418.2 93.8h1.6v1.6h-1.6zM425.5 75.6h1.6v1.6h-1.6zM427.8 71.4h1.6v1.6h-1.6zM435.8 60.1h1.6v1.6h-1.6zM430.7 64.5h1.6v1.6h-1.6zM413.4 101.2h1.6v1.6h-1.6zM430.8 63.4h1.6v1.6h-1.6zM434.7 59.4h1.6v1.6h-1.6zM421.3 81.6h1.6v1.6h-1.6zM422.6 78.7h1.6v1.6h-1.6zM417.9 93.5h1.6v1.6h-1.6zM417.8 89.7h1.6v1.6h-1.6zM415.7 95.4h1.6v1.6h-1.6zM410 105.6h1.6v1.6h-1.6zM406.9 106.4h1.6v1.6h-1.6zM411.8 102h1.6v1.6h-1.6zM410.7 94.8h1.6v1.6h-1.6zM405.4 113.7h1.6v1.6h-1.6zM403.8 127.9h1.6v1.6h-1.6zM412.6 96.2h1.6v1.6h-1.6zM403.8 128.8h1.6v1.6h-1.6zM409.7 104.4h1.6v1.6h-1.6zM413.1 104h1.6v1.6h-1.6zM403.6 120.8h1.6v1.6h-1.6zM417.3 97.7h1.6v1.6h-1.6zM413.3 102.8h1.6v1.6h-1.6zM407.4 119.7h1.6v1.6h-1.6zM414.7 94.6h1.6v1.6h-1.6zM406.4 112.2h1.6v1.6h-1.6zM413.2 95.7h1.6v1.6h-1.6zM410 100.7h1.6v1.6h-1.6zM404.5 122.3h1.6v1.6h-1.6zM405.4 120.5h1.6v1.6h-1.6zM411.9 106.9h1.6v1.6h-1.6zM416.5 98.4h1.6v1.6h-1.6zM407.6 113.9h1.6v1.6h-1.6z"/>
<path fill="#ffffff" d="M400.5 93.3h1.6v1.6h-1.6zM403.6 86.6h1.6v1.6h-1.6zM414.4 41h1.6v1.6h-1.6zM403.3 77.4h1.6v1.6h-1.6zM403.8 68.9h1.6v1.6h-1.6zM409.6 62h1.6v1.6h-1.6zM404.3 61.8h1.6v1.6h-1.6zM405.3 53.3h1.6v1.6h-1.6zM411.4 45.1h1.6v1.6h-1.6zM400.9 69.2h1.6v1.6h-1.6zM403.3 63.3h1.6v1.6h-1.6zM414.2 40.1h1.6v1.6h-1.6zM413 45.1h1.6v1.6h-1.6zM416.7 37.6h1.6v1.6h-1.6zM406.8 47.7h1.6v1.6h-1.6zM401.5 79.5h1.6v1.6h-1.6zM406.2 62h1.6v1.6h-1.6zM404 83.8h1.6v1.6h-1.6zM401.5 79.6h1.6v1.6h-1.6zM412.8 43.3h1.6v1.6h-1.6zM416.1 40.7h1.6v1.6h-1.6zM427.5 41.2h1.6v1.6h-1.6zM422 50.6h1.6v1.6h-1.6zM408 77.5h1.6v1.6h-1.6zM410.7 79.8h1.6v1.6h-1.6zM416.4 68.6h1.6v1.6h-1.6zM408.4 78.5h1.6v1.6h-1.6zM408.1 89.7h1.6v1.6h-1.6zM420.3 61.5h1.6v1.6h-1.6zM425.5 48.7h1.6v1.6h-1.6zM413.9 80.2h1.6v1.6h-1.6zM427.8 36.5h1.6v1.6h-1.6zM416.1 60.5h1.6v1.6h-1.6zM423.1 55.6h1.6v1.6h-1.6zM419.9 53.2h1.6v1.6h-1.6zM429.4 38.1h1.6v1.6h-1.6zM407.1 83.6h1.6v1.6h-1.6zM442.8 40.2h1.6v1.6h-1.6zM436.3 50.8h1.6v1.6h-1.6zM438.8 50.6h1.6v1.6h-1.6zM429.6 45.5h1.6v1.6h-1.6zM430.1 53.8h1.6v1.6h-1.6zM436.2 41.7h1.6v1.6h-1.6zM443 47.4h1.6v1.6h-1.6zM434.8 43.3h1.6v1.6h-1.6zM438.2 34h1.6v1.6h-1.6zM449.2 38.4h1.6v1.6h-1.6zM439.3 35.7h1.6v1.6h-1.6zM439.6 42.9h1.6v1.6h-1.6zM438.4 46.8h1.6v1.6h-1.6zM446.9 40.9h1.6v1.6h-1.6zM438.5 46h1.6v1.6h-1.6zM429.7 54.8h1.6v1.6h-1.6zM439.8 38.2h1.6v1.6h-1.6zM432.3 52.8h1.6v1.6h-1.6zM438.8 53.3h1.6v1.6h-1.6zM436.3 39.2h1.6v1.6h-1.6zM428 54.5h1.6v1.6h-1.6zM446 34h1.6v1.6h-1.6zM435.5 42.7h1.6v1.6h-1.6zM440.2 53.5h1.6v1.6h-1.6zM436.3 47.9h1.6v1.6h-1.6zM427.1 55.6h1.6v1.6h-1.6zM433.3 44.2h1.6v1.6h-1.6zM442 47.3h1.6v1.6h-1.6zM437.7 40.4h1.6v1.6h-1.6zM433.5 40.4h1.6v1.6h-1.6zM440.9 39.8h1.6v1.6h-1.6zM444.8 42.7h1.6v1.6h-1.6zM432 54.2h1.6v1.6h-1.6zM436.3 43.5h1.6v1.6h-1.6zM433.7 51.3h1.6v1.6h-1.6zM440.1 45.8h1.6v1.6h-1.6zM437.8 47.7h1.6v1.6h-1.6zM441.4 44h1.6v1.6h-1.6zM450.6 35.4h1.6v1.6h-1.6zM439.1 52.1h1.6v1.6h-1.6zM442.8 42.3h1.6v1.6h-1.6zM436.4 48.2h1.6v1.6h-1.6zM440.3 52.1h1.6v1.6h-1.6zM427.7 52.3h1.6v1.6h-1.6zM441.4 47.3h1.6v1.6h-1.6zM448.4 38.9h1.6v1.6h-1.6zM431.3 44h1.6v1.6h-1.6zM435 53h1.6v1.6h-1.6zM433.1 49.7h1.6v1.6h-1.6zM435.9 46.7h1.6v1.6h-1.6zM442.9 47.3h1.6v1.6h-1.6zM445.2 33.6h1.6v1.6h-1.6zM421.8 63.6h1.6v1.6h-1.6zM416.9 74.7h1.6v1.6h-1.6zM434.3 52.1h1.6v1.6h-1.6zM435.1 53.8h1.6v1.6h-1.6zM429 64.6h1.6v1.6h-1.6zM420.8 75.8h1.6v1.6h-1.6zM415.2 87.7h1.6v1.6h-1.6zM415.5 82.9h1.6v1.6h-1.6zM414.8 94.3h1.6v1.6h-1.6zM416.4 86.3h1.6v1.6h-1.6zM412.7 93.9h1.6v1.6h-1.6zM431.8 59.9h1.6v1.6h-1.6zM416 83.7h1.6v1.6h-1.6zM410.3 101.4h1.6v1.6h-1.6zM427.7 64.9h1.6v1.6h-1.6zM413.5 93.4h1.6v1.6h-1.6zM415.7 92.6h1.6v1.6h-1.6zM428.9 52.3h1.6v1.6h-1.6zM424.3 63.5h1.6v1.6h-1.6zM428.3 61.9h1.6v1.6h-1.6zM422 71.5h1.6v1.6h-1.6zM425.8 54.9h1.6v1.6h-1.6zM416.2 90.9h1.6v1.6h-1.6zM418.4 83.7h1.6v1.6h-1.6zM415.3 82h1.6v1.6h-1.6zM432.9 53.7h1.6v1.6h-1.6zM411 99.9h1.6v1.6h-1.6zM431.3 54.1h1.6v1.6h-1.6zM420.2 69.8h1.6v1.6h-1.6zM422.6 64.9h1.6v1.6h-1.6zM422.4 62.9h1.6v1.6h-1.6zM412 96h1.6v1.6h-1.6zM428.6 65.9h1.6v1.6h-1.6zM418.3 87.2h1.6v1.6h-1.6zM435 61.8h1.6v1.6h-1.6zM422.1 81.2h1.6v1.6h-1.6zM432 67.2h1.6v1.6h-1.6zM444.7 47.1h1.6v1.6h-1.6zM436.7 57.1h1.6v1.6h-1.6zM418.5 95.8h1.6v1.6h-1.6zM436.3 58.8h1.6v1.6h-1.6zM420.3 81.4h1.6v1.6h-1.6zM425 71.9h1.6v1.6h-1.6zM423.2 83.6h1.6v1.6h-1.6zM417.6 94.9h1.6v1.6h-1.6zM426.3 72.2h1.6v1.6h-1.6zM418.8 89.3h1.6v1.6h-1.6zM431.2 65.3h1.6v1.6h-1.6zM402.8 94.8h1.6v1.6h-1.6zM402.6 97.5h1.6v1.6h-1.6zM399.3 111.2h1.6v1.6h-1.6zM399.5 121.8h1.6v1.6h-1.6zM401.6 97.4h1.6v1.6h-1.6zM399.2 126.4h1.6v1.6h-1.6zM402.6 97.1h1.6v1.6h-1.6zM398.6 94.9h1.6v1.6h-1.6zM401.9 95.6h1.6v1.6h-1.6zM400.3 94.9h1.6v1.6h-1.6zM399.6 99.7h1.6v1.6h-1.6zM401.5 103.4h1.6v1.6h-1.6zM399.1 111.2h1.6v1.6h-1.6zM401.1 102.6h1.6v1.6h-1.6zM398.8 118.7h1.6v1.6h-1.6zM398.7 144.7h1.6v1.6h-1.6zM399.5 133.4h1.6v1.6h-1.6zM400 139h1.6v1.6h-1.6zM402.4 135h1.6v1.6h-1.6zM400.2 137.4h1.6v1.6h-1.6zM398.3 151.5h1.6v1.6h-1.6zM397.7 132.8h1.6v1.6h-1.6zM403.1 128.5h1.6v1.6h-1.6zM398.8 152.3h1.6v1.6h-1.6zM400.7 152.6h1.6v1.6h-1.6zM403 129.3h1.6v1.6h-1.6zM398.1 139.4h1.6v1.6h-1.6zM398.5 132.2h1.6v1.6h-1.6zM399.7 135h1.6v1.6h-1.6zM401 139.2h1.6v1.6h-1.6zM403.3 131.6h1.6v1.6h-1.6zM400 152.6h1.6v1.6h-1.6z"/>
<line x1="411.1" y1="156.1" x2="411.1" y2="131.7" stroke="#ff0a0a" stroke-width="1.55"/>
<line x1="411.8" y1="131.7" x2="401.9" y2="131.7" stroke="#ff0a0a" stroke-width="1.55"/>
<polygon points="396.5,131.7 402.9,128.2 402.9,135.2" fill="#ff0a0a"/>
<text x="399.3" y="97.46" font-size="6.2" fill="#000" text-anchor="start" font-family="'Liberation Serif', 'Times New Roman', serif" textLength="39.3" lengthAdjust="spacingAndGlyphs">K-cutoff 0.1mD</text>
<text x="417.3" y="146.12" font-size="6.4" fill="#000" text-anchor="start" font-family="'Liberation Serif', 'Times New Roman', serif" textLength="35" lengthAdjust="spacingAndGlyphs">&#934;<tspan font-size="4" dy="1">e</tspan><tspan dy="-1">-cutoff 3%</tspan></text>
<rect x="396.4" y="33.3" width="142.9" height="123" fill="none" stroke="#b4b4b4" stroke-width="0.8"/>
</svg>
</body></html>
